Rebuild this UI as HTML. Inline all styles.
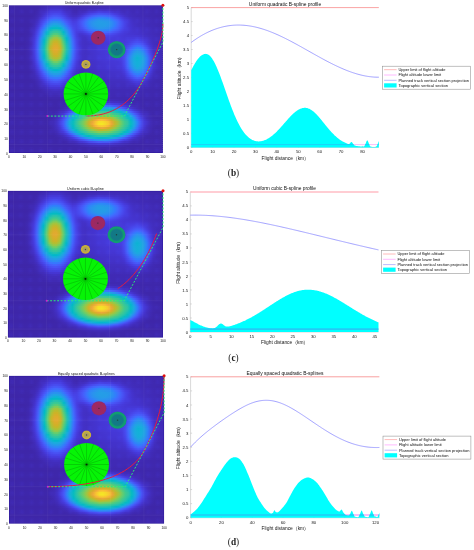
<!DOCTYPE html>
<html><head><meta charset="utf-8"><title>B-spline flight paths</title>
<style>html,body{margin:0;padding:0;background:#fff}svg{display:block}text{font-family:"Liberation Sans",sans-serif;text-rendering:auto}.cap{font-family:"Liberation Serif",serif}.cj{font-family:"Liberation Sans","Noto Sans CJK SC",sans-serif}</style>
</head><body><svg width="474" height="550" viewBox="0 0 474 550"><defs><linearGradient id="r0"><stop offset="0" stop-color="#3e26a8"/><stop offset="0.0208" stop-color="#3e26a9"/><stop offset="0.0417" stop-color="#3e26a8"/><stop offset="0.0625" stop-color="#3e26a8"/><stop offset="0.0833" stop-color="#3e26a9"/><stop offset="0.1042" stop-color="#3e26a8"/><stop offset="0.125" stop-color="#3e26a9"/><stop offset="0.1458" stop-color="#3e26a9"/><stop offset="0.1667" stop-color="#3e26a9"/><stop offset="0.1875" stop-color="#3e26a9"/><stop offset="0.2083" stop-color="#3e27ac"/><stop offset="0.2292" stop-color="#3f29b1"/><stop offset="0.25" stop-color="#402bb6"/><stop offset="0.2708" stop-color="#412cbb"/><stop offset="0.2917" stop-color="#412ebe"/><stop offset="0.3125" stop-color="#412ebe"/><stop offset="0.3333" stop-color="#412dbc"/><stop offset="0.3542" stop-color="#402bb8"/><stop offset="0.375" stop-color="#402ab3"/><stop offset="0.3958" stop-color="#3f28ae"/><stop offset="0.4167" stop-color="#3e27ab"/><stop offset="0.4375" stop-color="#3e27ac"/><stop offset="0.4583" stop-color="#3f28ad"/><stop offset="0.4792" stop-color="#3f28ad"/><stop offset="0.5" stop-color="#3f28ae"/><stop offset="0.5208" stop-color="#3f29b0"/><stop offset="0.5417" stop-color="#3f29b0"/><stop offset="0.5625" stop-color="#3f29b2"/><stop offset="0.5833" stop-color="#402ab3"/><stop offset="0.6042" stop-color="#402ab3"/><stop offset="0.625" stop-color="#402ab4"/><stop offset="0.6458" stop-color="#402ab4"/><stop offset="0.6667" stop-color="#402ab4"/><stop offset="0.6875" stop-color="#402ab4"/><stop offset="0.7083" stop-color="#402ab4"/><stop offset="0.7292" stop-color="#402ab3"/><stop offset="0.75" stop-color="#402ab3"/><stop offset="0.7708" stop-color="#4029b2"/><stop offset="0.7917" stop-color="#3f29b2"/><stop offset="0.8125" stop-color="#3f29b1"/><stop offset="0.8333" stop-color="#3f29b1"/><stop offset="0.8542" stop-color="#3f29b0"/><stop offset="0.875" stop-color="#3f28af"/><stop offset="0.8958" stop-color="#3f28ae"/><stop offset="0.9167" stop-color="#3f28ad"/><stop offset="0.9375" stop-color="#3e28ac"/><stop offset="0.9583" stop-color="#3e27ac"/><stop offset="0.9792" stop-color="#3e27ab"/><stop offset="1" stop-color="#3e27ab"/></linearGradient><linearGradient id="r1"><stop offset="0" stop-color="#3e27a9"/><stop offset="0.0208" stop-color="#3e27ab"/><stop offset="0.0417" stop-color="#3e27a9"/><stop offset="0.0625" stop-color="#3e27a9"/><stop offset="0.0833" stop-color="#3e27ab"/><stop offset="0.1042" stop-color="#3e27a9"/><stop offset="0.125" stop-color="#3e27a9"/><stop offset="0.1458" stop-color="#3e27ab"/><stop offset="0.1667" stop-color="#3e27a9"/><stop offset="0.1875" stop-color="#3e27aa"/><stop offset="0.2083" stop-color="#3f29b2"/><stop offset="0.2292" stop-color="#402bb6"/><stop offset="0.25" stop-color="#412dbd"/><stop offset="0.2708" stop-color="#4331c6"/><stop offset="0.2917" stop-color="#4332c9"/><stop offset="0.3125" stop-color="#4332c9"/><stop offset="0.3333" stop-color="#4331c7"/><stop offset="0.3542" stop-color="#422ebe"/><stop offset="0.375" stop-color="#402cb8"/><stop offset="0.3958" stop-color="#402ab5"/><stop offset="0.4167" stop-color="#3f28ae"/><stop offset="0.4375" stop-color="#3f28ad"/><stop offset="0.4583" stop-color="#3f29b0"/><stop offset="0.4792" stop-color="#3f29b0"/><stop offset="0.5" stop-color="#3f29b1"/><stop offset="0.5208" stop-color="#402bb6"/><stop offset="0.5417" stop-color="#402bb6"/><stop offset="0.5625" stop-color="#402bb8"/><stop offset="0.5833" stop-color="#412dbb"/><stop offset="0.6042" stop-color="#412cba"/><stop offset="0.625" stop-color="#412cba"/><stop offset="0.6458" stop-color="#412dbb"/><stop offset="0.6667" stop-color="#412cb9"/><stop offset="0.6875" stop-color="#402bb7"/><stop offset="0.7083" stop-color="#412cb9"/><stop offset="0.7292" stop-color="#402bb6"/><stop offset="0.75" stop-color="#402ab5"/><stop offset="0.7708" stop-color="#402bb6"/><stop offset="0.7917" stop-color="#402ab4"/><stop offset="0.8125" stop-color="#402ab3"/><stop offset="0.8333" stop-color="#402ab4"/><stop offset="0.8542" stop-color="#3f29b2"/><stop offset="0.875" stop-color="#3f29b0"/><stop offset="0.8958" stop-color="#3f29b2"/><stop offset="0.9167" stop-color="#3f28af"/><stop offset="0.9375" stop-color="#3f28ad"/><stop offset="0.9583" stop-color="#3f28af"/><stop offset="0.9792" stop-color="#3f28ad"/><stop offset="1" stop-color="#3e27ab"/></linearGradient><linearGradient id="r2"><stop offset="0" stop-color="#3e27ac"/><stop offset="0.0208" stop-color="#402ab3"/><stop offset="0.0417" stop-color="#3e27aa"/><stop offset="0.0625" stop-color="#3e27ac"/><stop offset="0.0833" stop-color="#402ab3"/><stop offset="0.1042" stop-color="#3e27aa"/><stop offset="0.125" stop-color="#3e27ac"/><stop offset="0.1458" stop-color="#402ab3"/><stop offset="0.1667" stop-color="#3e27ab"/><stop offset="0.1875" stop-color="#3f28af"/><stop offset="0.2083" stop-color="#412dbc"/><stop offset="0.2292" stop-color="#412dbd"/><stop offset="0.25" stop-color="#4331c8"/><stop offset="0.2708" stop-color="#4538d8"/><stop offset="0.2917" stop-color="#4538d7"/><stop offset="0.3125" stop-color="#4538d7"/><stop offset="0.3333" stop-color="#4539d9"/><stop offset="0.3542" stop-color="#4332ca"/><stop offset="0.375" stop-color="#422ec0"/><stop offset="0.3958" stop-color="#422ec0"/><stop offset="0.4167" stop-color="#402ab3"/><stop offset="0.4375" stop-color="#3f29b0"/><stop offset="0.4583" stop-color="#412cba"/><stop offset="0.4792" stop-color="#402bb6"/><stop offset="0.5" stop-color="#412cb9"/><stop offset="0.5208" stop-color="#4331c5"/><stop offset="0.5417" stop-color="#4230c3"/><stop offset="0.5625" stop-color="#4331c7"/><stop offset="0.5833" stop-color="#4435d1"/><stop offset="0.6042" stop-color="#4433cb"/><stop offset="0.625" stop-color="#4332c9"/><stop offset="0.6458" stop-color="#4434ce"/><stop offset="0.6667" stop-color="#4330c5"/><stop offset="0.6875" stop-color="#422fc0"/><stop offset="0.7083" stop-color="#4330c5"/><stop offset="0.7292" stop-color="#412dbc"/><stop offset="0.75" stop-color="#412cb9"/><stop offset="0.7708" stop-color="#422ebf"/><stop offset="0.7917" stop-color="#402cb8"/><stop offset="0.8125" stop-color="#402ab5"/><stop offset="0.8333" stop-color="#412dbc"/><stop offset="0.8542" stop-color="#402bb6"/><stop offset="0.875" stop-color="#3f29b2"/><stop offset="0.8958" stop-color="#412cba"/><stop offset="0.9167" stop-color="#402ab3"/><stop offset="0.9375" stop-color="#3f28af"/><stop offset="0.9583" stop-color="#402bb7"/><stop offset="0.9792" stop-color="#3f29b0"/><stop offset="1" stop-color="#3f28ad"/></linearGradient><linearGradient id="r3"><stop offset="0" stop-color="#3e28ac"/><stop offset="0.0208" stop-color="#402ab3"/><stop offset="0.0417" stop-color="#3e27aa"/><stop offset="0.0625" stop-color="#3e27ac"/><stop offset="0.0833" stop-color="#402ab4"/><stop offset="0.1042" stop-color="#3e27ab"/><stop offset="0.125" stop-color="#3e27ac"/><stop offset="0.1458" stop-color="#402ab4"/><stop offset="0.1667" stop-color="#3e27ab"/><stop offset="0.1875" stop-color="#3f29b2"/><stop offset="0.2083" stop-color="#422fc1"/><stop offset="0.2292" stop-color="#4330c5"/><stop offset="0.25" stop-color="#4536d4"/><stop offset="0.2708" stop-color="#473fe3"/><stop offset="0.2917" stop-color="#4740e3"/><stop offset="0.3125" stop-color="#4740e4"/><stop offset="0.3333" stop-color="#4740e4"/><stop offset="0.3542" stop-color="#4537d6"/><stop offset="0.375" stop-color="#4332c9"/><stop offset="0.3958" stop-color="#4330c5"/><stop offset="0.4167" stop-color="#402bb7"/><stop offset="0.4375" stop-color="#402ab4"/><stop offset="0.4583" stop-color="#422ec0"/><stop offset="0.4792" stop-color="#422ebf"/><stop offset="0.5" stop-color="#4331c7"/><stop offset="0.5208" stop-color="#4538d7"/><stop offset="0.5417" stop-color="#4539d9"/><stop offset="0.5625" stop-color="#463cdf"/><stop offset="0.5833" stop-color="#4743e7"/><stop offset="0.6042" stop-color="#4740e3"/><stop offset="0.625" stop-color="#463ee1"/><stop offset="0.6458" stop-color="#473fe2"/><stop offset="0.6667" stop-color="#4538d8"/><stop offset="0.6875" stop-color="#4434cf"/><stop offset="0.7083" stop-color="#4434cf"/><stop offset="0.7292" stop-color="#4230c3"/><stop offset="0.75" stop-color="#412dbd"/><stop offset="0.7708" stop-color="#4230c3"/><stop offset="0.7917" stop-color="#412cbb"/><stop offset="0.8125" stop-color="#402bb7"/><stop offset="0.8333" stop-color="#422ebf"/><stop offset="0.8542" stop-color="#402bb7"/><stop offset="0.875" stop-color="#402ab4"/><stop offset="0.8958" stop-color="#412dbb"/><stop offset="0.9167" stop-color="#402ab4"/><stop offset="0.9375" stop-color="#3f29b0"/><stop offset="0.9583" stop-color="#402bb8"/><stop offset="0.9792" stop-color="#3f29b1"/><stop offset="1" stop-color="#3f28ad"/></linearGradient><linearGradient id="r4"><stop offset="0" stop-color="#3e27aa"/><stop offset="0.0208" stop-color="#3e28ac"/><stop offset="0.0417" stop-color="#3e27a9"/><stop offset="0.0625" stop-color="#3e27aa"/><stop offset="0.0833" stop-color="#3e28ac"/><stop offset="0.1042" stop-color="#3e27a9"/><stop offset="0.125" stop-color="#3e27aa"/><stop offset="0.1458" stop-color="#3e28ac"/><stop offset="0.1667" stop-color="#3e27ab"/><stop offset="0.1875" stop-color="#402ab3"/><stop offset="0.2083" stop-color="#422ec0"/><stop offset="0.2292" stop-color="#4434ce"/><stop offset="0.25" stop-color="#463cde"/><stop offset="0.2708" stop-color="#4746ea"/><stop offset="0.2917" stop-color="#484bee"/><stop offset="0.3125" stop-color="#484bef"/><stop offset="0.3333" stop-color="#4747ec"/><stop offset="0.3542" stop-color="#463de0"/><stop offset="0.375" stop-color="#4535d2"/><stop offset="0.3958" stop-color="#4331c6"/><stop offset="0.4167" stop-color="#412dbc"/><stop offset="0.4375" stop-color="#412cba"/><stop offset="0.4583" stop-color="#4230c3"/><stop offset="0.4792" stop-color="#4433cd"/><stop offset="0.5" stop-color="#463ada"/><stop offset="0.5208" stop-color="#4743e7"/><stop offset="0.5417" stop-color="#484aee"/><stop offset="0.5625" stop-color="#4850f3"/><stop offset="0.5833" stop-color="#4756f6"/><stop offset="0.6042" stop-color="#4755f6"/><stop offset="0.625" stop-color="#4853f4"/><stop offset="0.6458" stop-color="#484ff2"/><stop offset="0.6667" stop-color="#4747eb"/><stop offset="0.6875" stop-color="#473ee2"/><stop offset="0.7083" stop-color="#4639d9"/><stop offset="0.7292" stop-color="#4433cc"/><stop offset="0.75" stop-color="#4230c3"/><stop offset="0.7708" stop-color="#422fc1"/><stop offset="0.7917" stop-color="#412dbb"/><stop offset="0.8125" stop-color="#402cb8"/><stop offset="0.8333" stop-color="#412cba"/><stop offset="0.8542" stop-color="#402bb6"/><stop offset="0.875" stop-color="#402ab4"/><stop offset="0.8958" stop-color="#402bb6"/><stop offset="0.9167" stop-color="#3f29b2"/><stop offset="0.9375" stop-color="#3f29b0"/><stop offset="0.9583" stop-color="#3f29b2"/><stop offset="0.9792" stop-color="#3f28af"/><stop offset="1" stop-color="#3f28ad"/></linearGradient><linearGradient id="r5"><stop offset="0" stop-color="#3e26a8"/><stop offset="0.0208" stop-color="#3e26a8"/><stop offset="0.0417" stop-color="#3e26a8"/><stop offset="0.0625" stop-color="#3e26a8"/><stop offset="0.0833" stop-color="#3e26a8"/><stop offset="0.1042" stop-color="#3e26a8"/><stop offset="0.125" stop-color="#3e26a8"/><stop offset="0.1458" stop-color="#3e26a9"/><stop offset="0.1667" stop-color="#3e28ad"/><stop offset="0.1875" stop-color="#402bb6"/><stop offset="0.2083" stop-color="#4230c4"/><stop offset="0.2292" stop-color="#4538d8"/><stop offset="0.25" stop-color="#4745e9"/><stop offset="0.2708" stop-color="#4851f3"/><stop offset="0.2917" stop-color="#4758f8"/><stop offset="0.3125" stop-color="#4758f8"/><stop offset="0.3333" stop-color="#4852f4"/><stop offset="0.3542" stop-color="#4747eb"/><stop offset="0.375" stop-color="#463bdc"/><stop offset="0.3958" stop-color="#4433cc"/><stop offset="0.4167" stop-color="#422fc2"/><stop offset="0.4375" stop-color="#4230c3"/><stop offset="0.4583" stop-color="#4434ce"/><stop offset="0.4792" stop-color="#463cdf"/><stop offset="0.5" stop-color="#4849ed"/><stop offset="0.5208" stop-color="#4755f6"/><stop offset="0.5417" stop-color="#4660fc"/><stop offset="0.5625" stop-color="#4269fe"/><stop offset="0.5833" stop-color="#3f6fff"/><stop offset="0.6042" stop-color="#3e6fff"/><stop offset="0.625" stop-color="#406cfe"/><stop offset="0.6458" stop-color="#4465fd"/><stop offset="0.6667" stop-color="#475bf9"/><stop offset="0.6875" stop-color="#484ff2"/><stop offset="0.7083" stop-color="#4743e7"/><stop offset="0.7292" stop-color="#4639da"/><stop offset="0.75" stop-color="#4433cd"/><stop offset="0.7708" stop-color="#4230c3"/><stop offset="0.7917" stop-color="#412dbd"/><stop offset="0.8125" stop-color="#412cba"/><stop offset="0.8333" stop-color="#402bb8"/><stop offset="0.8542" stop-color="#402bb6"/><stop offset="0.875" stop-color="#402ab5"/><stop offset="0.8958" stop-color="#402ab3"/><stop offset="0.9167" stop-color="#3f29b2"/><stop offset="0.9375" stop-color="#3f29b0"/><stop offset="0.9583" stop-color="#3f28af"/><stop offset="0.9792" stop-color="#3f28ae"/><stop offset="1" stop-color="#3f28ad"/></linearGradient><linearGradient id="r6"><stop offset="0" stop-color="#3e27aa"/><stop offset="0.0208" stop-color="#3f28ae"/><stop offset="0.0417" stop-color="#3e27a9"/><stop offset="0.0625" stop-color="#3e27aa"/><stop offset="0.0833" stop-color="#3f28ae"/><stop offset="0.1042" stop-color="#3e27aa"/><stop offset="0.125" stop-color="#3e27aa"/><stop offset="0.1458" stop-color="#3f28ae"/><stop offset="0.1667" stop-color="#3f29b0"/><stop offset="0.1875" stop-color="#412dbb"/><stop offset="0.2083" stop-color="#4536d2"/><stop offset="0.2292" stop-color="#4740e4"/><stop offset="0.25" stop-color="#4851f4"/><stop offset="0.2708" stop-color="#4562fc"/><stop offset="0.2917" stop-color="#4269fe"/><stop offset="0.3125" stop-color="#426afe"/><stop offset="0.3333" stop-color="#4563fd"/><stop offset="0.3542" stop-color="#4854f5"/><stop offset="0.375" stop-color="#4744e8"/><stop offset="0.3958" stop-color="#463adc"/><stop offset="0.4167" stop-color="#4434ce"/><stop offset="0.4375" stop-color="#4435d1"/><stop offset="0.4583" stop-color="#463ee0"/><stop offset="0.4792" stop-color="#484aee"/><stop offset="0.5" stop-color="#475af9"/><stop offset="0.5208" stop-color="#406cfe"/><stop offset="0.5417" stop-color="#3579fd"/><stop offset="0.5625" stop-color="#2f82f9"/><stop offset="0.5833" stop-color="#2d89f5"/><stop offset="0.6042" stop-color="#2d89f6"/><stop offset="0.625" stop-color="#2e85f8"/><stop offset="0.6458" stop-color="#3080fb"/><stop offset="0.6667" stop-color="#3c71ff"/><stop offset="0.6875" stop-color="#4561fc"/><stop offset="0.7083" stop-color="#4854f5"/><stop offset="0.7292" stop-color="#4744e8"/><stop offset="0.75" stop-color="#4539d9"/><stop offset="0.7708" stop-color="#4434d0"/><stop offset="0.7917" stop-color="#4230c4"/><stop offset="0.8125" stop-color="#412ebe"/><stop offset="0.8333" stop-color="#422ebf"/><stop offset="0.8542" stop-color="#412cba"/><stop offset="0.875" stop-color="#402bb7"/><stop offset="0.8958" stop-color="#412cba"/><stop offset="0.9167" stop-color="#402ab5"/><stop offset="0.9375" stop-color="#3f29b2"/><stop offset="0.9583" stop-color="#402ab5"/><stop offset="0.9792" stop-color="#3f29b1"/><stop offset="1" stop-color="#3f28ae"/></linearGradient><linearGradient id="r7"><stop offset="0" stop-color="#3e28ac"/><stop offset="0.0208" stop-color="#402ab4"/><stop offset="0.0417" stop-color="#3e27ab"/><stop offset="0.0625" stop-color="#3e28ac"/><stop offset="0.0833" stop-color="#402ab4"/><stop offset="0.1042" stop-color="#3e27ab"/><stop offset="0.125" stop-color="#3e28ac"/><stop offset="0.1458" stop-color="#402ab5"/><stop offset="0.1667" stop-color="#402ab5"/><stop offset="0.1875" stop-color="#422fc3"/><stop offset="0.2083" stop-color="#463ddf"/><stop offset="0.2292" stop-color="#484bee"/><stop offset="0.25" stop-color="#465ffb"/><stop offset="0.2708" stop-color="#3777fe"/><stop offset="0.2917" stop-color="#307efb"/><stop offset="0.3125" stop-color="#307ffb"/><stop offset="0.3333" stop-color="#3479fd"/><stop offset="0.3542" stop-color="#4562fc"/><stop offset="0.375" stop-color="#4850f2"/><stop offset="0.3958" stop-color="#4744e8"/><stop offset="0.4167" stop-color="#4639d9"/><stop offset="0.4375" stop-color="#463bdd"/><stop offset="0.4583" stop-color="#4849ed"/><stop offset="0.4792" stop-color="#4756f7"/><stop offset="0.5" stop-color="#4269fe"/><stop offset="0.5208" stop-color="#2f81fa"/><stop offset="0.5417" stop-color="#2d8af4"/><stop offset="0.5625" stop-color="#2b92ee"/><stop offset="0.5833" stop-color="#269ae9"/><stop offset="0.6042" stop-color="#2797ea"/><stop offset="0.625" stop-color="#2994ec"/><stop offset="0.6458" stop-color="#2a92ee"/><stop offset="0.6667" stop-color="#2e84f9"/><stop offset="0.6875" stop-color="#3c72ff"/><stop offset="0.7083" stop-color="#4563fd"/><stop offset="0.7292" stop-color="#484ef1"/><stop offset="0.75" stop-color="#473fe3"/><stop offset="0.7708" stop-color="#463adb"/><stop offset="0.7917" stop-color="#4332ca"/><stop offset="0.8125" stop-color="#422fc1"/><stop offset="0.8333" stop-color="#4331c7"/><stop offset="0.8542" stop-color="#412ebe"/><stop offset="0.875" stop-color="#412cb9"/><stop offset="0.8958" stop-color="#422fc1"/><stop offset="0.9167" stop-color="#412cb8"/><stop offset="0.9375" stop-color="#402ab4"/><stop offset="0.9583" stop-color="#412dbc"/><stop offset="0.9792" stop-color="#402ab4"/><stop offset="1" stop-color="#3f29af"/></linearGradient><linearGradient id="r8"><stop offset="0" stop-color="#3e27ab"/><stop offset="0.0208" stop-color="#3f29b1"/><stop offset="0.0417" stop-color="#3e27aa"/><stop offset="0.0625" stop-color="#3e27ab"/><stop offset="0.0833" stop-color="#3f29b1"/><stop offset="0.1042" stop-color="#3e27aa"/><stop offset="0.125" stop-color="#3e27ab"/><stop offset="0.1458" stop-color="#402ab4"/><stop offset="0.1667" stop-color="#402bb7"/><stop offset="0.1875" stop-color="#4332c9"/><stop offset="0.2083" stop-color="#4742e6"/><stop offset="0.2292" stop-color="#4755f6"/><stop offset="0.25" stop-color="#3e6fff"/><stop offset="0.2708" stop-color="#2d89f5"/><stop offset="0.2917" stop-color="#2b92ee"/><stop offset="0.3125" stop-color="#2a92ee"/><stop offset="0.3333" stop-color="#2d8bf3"/><stop offset="0.3542" stop-color="#3a73fe"/><stop offset="0.375" stop-color="#475bf9"/><stop offset="0.3958" stop-color="#484bef"/><stop offset="0.4167" stop-color="#473ee1"/><stop offset="0.4375" stop-color="#4740e3"/><stop offset="0.4583" stop-color="#484ef1"/><stop offset="0.4792" stop-color="#465dfb"/><stop offset="0.5" stop-color="#3b72fe"/><stop offset="0.5208" stop-color="#2d88f6"/><stop offset="0.5417" stop-color="#2b92ee"/><stop offset="0.5625" stop-color="#2699ea"/><stop offset="0.5833" stop-color="#249ee6"/><stop offset="0.6042" stop-color="#259de7"/><stop offset="0.625" stop-color="#259be8"/><stop offset="0.6458" stop-color="#2699e9"/><stop offset="0.6667" stop-color="#2d8df2"/><stop offset="0.6875" stop-color="#327cfc"/><stop offset="0.7083" stop-color="#416bfe"/><stop offset="0.7292" stop-color="#4755f6"/><stop offset="0.75" stop-color="#4744e8"/><stop offset="0.7708" stop-color="#463cde"/><stop offset="0.7917" stop-color="#4433cd"/><stop offset="0.8125" stop-color="#4230c4"/><stop offset="0.8333" stop-color="#4331c6"/><stop offset="0.8542" stop-color="#422ebe"/><stop offset="0.875" stop-color="#412cba"/><stop offset="0.8958" stop-color="#422ebf"/><stop offset="0.9167" stop-color="#412cb8"/><stop offset="0.9375" stop-color="#402ab5"/><stop offset="0.9583" stop-color="#412cba"/><stop offset="0.9792" stop-color="#402ab4"/><stop offset="1" stop-color="#3f29b0"/></linearGradient><linearGradient id="r9"><stop offset="0" stop-color="#3e27a9"/><stop offset="0.0208" stop-color="#3e27aa"/><stop offset="0.0417" stop-color="#3e26a9"/><stop offset="0.0625" stop-color="#3e27a9"/><stop offset="0.0833" stop-color="#3e27aa"/><stop offset="0.1042" stop-color="#3e26a9"/><stop offset="0.125" stop-color="#3e27a9"/><stop offset="0.1458" stop-color="#3f28ae"/><stop offset="0.1667" stop-color="#412cb8"/><stop offset="0.1875" stop-color="#4434cf"/><stop offset="0.2083" stop-color="#4747eb"/><stop offset="0.2292" stop-color="#4661fc"/><stop offset="0.25" stop-color="#2f80fa"/><stop offset="0.2708" stop-color="#2798ea"/><stop offset="0.2917" stop-color="#21a3e4"/><stop offset="0.3125" stop-color="#21a3e3"/><stop offset="0.3333" stop-color="#269ae9"/><stop offset="0.3542" stop-color="#2e85f8"/><stop offset="0.375" stop-color="#4367fd"/><stop offset="0.3958" stop-color="#4850f3"/><stop offset="0.4167" stop-color="#4742e6"/><stop offset="0.4375" stop-color="#4742e6"/><stop offset="0.4583" stop-color="#484df1"/><stop offset="0.4792" stop-color="#465efb"/><stop offset="0.5" stop-color="#3974fe"/><stop offset="0.5208" stop-color="#2d87f6"/><stop offset="0.5417" stop-color="#2a93ed"/><stop offset="0.5625" stop-color="#269ae9"/><stop offset="0.5833" stop-color="#259de7"/><stop offset="0.6042" stop-color="#249de6"/><stop offset="0.625" stop-color="#259de7"/><stop offset="0.6458" stop-color="#2699ea"/><stop offset="0.6667" stop-color="#2c8ef1"/><stop offset="0.6875" stop-color="#307ffb"/><stop offset="0.7083" stop-color="#426afe"/><stop offset="0.7292" stop-color="#4756f7"/><stop offset="0.75" stop-color="#4745e9"/><stop offset="0.7708" stop-color="#463adb"/><stop offset="0.7917" stop-color="#4434ce"/><stop offset="0.8125" stop-color="#4330c5"/><stop offset="0.8333" stop-color="#422fc2"/><stop offset="0.8542" stop-color="#412ebe"/><stop offset="0.875" stop-color="#412dbb"/><stop offset="0.8958" stop-color="#412cba"/><stop offset="0.9167" stop-color="#402bb7"/><stop offset="0.9375" stop-color="#402ab5"/><stop offset="0.9583" stop-color="#402ab4"/><stop offset="0.9792" stop-color="#3f29b1"/><stop offset="1" stop-color="#3f28af"/></linearGradient><linearGradient id="r10"><stop offset="0" stop-color="#3e26a9"/><stop offset="0.0208" stop-color="#3e27a9"/><stop offset="0.0417" stop-color="#3e26a9"/><stop offset="0.0625" stop-color="#3e26a9"/><stop offset="0.0833" stop-color="#3e27aa"/><stop offset="0.1042" stop-color="#3e26a9"/><stop offset="0.125" stop-color="#3e26a9"/><stop offset="0.1458" stop-color="#3f29b0"/><stop offset="0.1667" stop-color="#412dbc"/><stop offset="0.1875" stop-color="#4537d7"/><stop offset="0.2083" stop-color="#484ff2"/><stop offset="0.2292" stop-color="#3f6fff"/><stop offset="0.25" stop-color="#2b91ef"/><stop offset="0.2708" stop-color="#1ea7e1"/><stop offset="0.2917" stop-color="#12b1d6"/><stop offset="0.3125" stop-color="#10b2d5"/><stop offset="0.3333" stop-color="#1caadf"/><stop offset="0.3542" stop-color="#2895ec"/><stop offset="0.375" stop-color="#3776fe"/><stop offset="0.3958" stop-color="#4759f8"/><stop offset="0.4167" stop-color="#4746ea"/><stop offset="0.4375" stop-color="#4742e6"/><stop offset="0.4583" stop-color="#484bef"/><stop offset="0.4792" stop-color="#475bf9"/><stop offset="0.5" stop-color="#3e6fff"/><stop offset="0.5208" stop-color="#2e83f9"/><stop offset="0.5417" stop-color="#2c90f0"/><stop offset="0.5625" stop-color="#2797ea"/><stop offset="0.5833" stop-color="#259be7"/><stop offset="0.6042" stop-color="#259ce7"/><stop offset="0.625" stop-color="#269be8"/><stop offset="0.6458" stop-color="#2896ec"/><stop offset="0.6667" stop-color="#2d8bf4"/><stop offset="0.6875" stop-color="#337bfd"/><stop offset="0.7083" stop-color="#4367fd"/><stop offset="0.7292" stop-color="#4854f5"/><stop offset="0.75" stop-color="#4744e8"/><stop offset="0.7708" stop-color="#463adb"/><stop offset="0.7917" stop-color="#4434cf"/><stop offset="0.8125" stop-color="#4331c7"/><stop offset="0.8333" stop-color="#4230c3"/><stop offset="0.8542" stop-color="#422ebf"/><stop offset="0.875" stop-color="#412dbd"/><stop offset="0.8958" stop-color="#412dbb"/><stop offset="0.9167" stop-color="#402bb8"/><stop offset="0.9375" stop-color="#402bb6"/><stop offset="0.9583" stop-color="#402ab4"/><stop offset="0.9792" stop-color="#3f29b2"/><stop offset="1" stop-color="#3f29b0"/></linearGradient><linearGradient id="r11"><stop offset="0" stop-color="#3e27ab"/><stop offset="0.0208" stop-color="#3f29b1"/><stop offset="0.0417" stop-color="#3e27aa"/><stop offset="0.0625" stop-color="#3e27ab"/><stop offset="0.0833" stop-color="#3f29b1"/><stop offset="0.1042" stop-color="#3e27aa"/><stop offset="0.125" stop-color="#3e27ab"/><stop offset="0.1458" stop-color="#412cb9"/><stop offset="0.1667" stop-color="#422fc2"/><stop offset="0.1875" stop-color="#463ddf"/><stop offset="0.2083" stop-color="#475bfa"/><stop offset="0.2292" stop-color="#307ffb"/><stop offset="0.25" stop-color="#23a1e4"/><stop offset="0.2708" stop-color="#05b6ce"/><stop offset="0.2917" stop-color="#04bbc2"/><stop offset="0.3125" stop-color="#05bbc1"/><stop offset="0.3333" stop-color="#02b7cb"/><stop offset="0.3542" stop-color="#20a5e2"/><stop offset="0.375" stop-color="#2e86f7"/><stop offset="0.3958" stop-color="#4465fd"/><stop offset="0.4167" stop-color="#484aee"/><stop offset="0.4375" stop-color="#4742e6"/><stop offset="0.4583" stop-color="#484aed"/><stop offset="0.4792" stop-color="#4853f5"/><stop offset="0.5" stop-color="#4465fd"/><stop offset="0.5208" stop-color="#337bfc"/><stop offset="0.5417" stop-color="#2e86f7"/><stop offset="0.5625" stop-color="#2c8ff0"/><stop offset="0.5833" stop-color="#2797eb"/><stop offset="0.6042" stop-color="#2896ec"/><stop offset="0.625" stop-color="#2a93ee"/><stop offset="0.6458" stop-color="#2c8ff0"/><stop offset="0.6667" stop-color="#2f81fa"/><stop offset="0.6875" stop-color="#3d70ff"/><stop offset="0.7083" stop-color="#4562fc"/><stop offset="0.7292" stop-color="#484ff2"/><stop offset="0.75" stop-color="#4742e6"/><stop offset="0.7708" stop-color="#463cde"/><stop offset="0.7917" stop-color="#4435d1"/><stop offset="0.8125" stop-color="#4332c9"/><stop offset="0.8333" stop-color="#4433cc"/><stop offset="0.8542" stop-color="#4230c4"/><stop offset="0.875" stop-color="#422ebf"/><stop offset="0.8958" stop-color="#4230c3"/><stop offset="0.9167" stop-color="#412dbc"/><stop offset="0.9375" stop-color="#402bb7"/><stop offset="0.9583" stop-color="#412dbc"/><stop offset="0.9792" stop-color="#402ab5"/><stop offset="1" stop-color="#3f29b1"/></linearGradient><linearGradient id="r12"><stop offset="0" stop-color="#3e28ac"/><stop offset="0.0208" stop-color="#402ab4"/><stop offset="0.0417" stop-color="#3e27ab"/><stop offset="0.0625" stop-color="#3e28ac"/><stop offset="0.0833" stop-color="#402ab4"/><stop offset="0.1042" stop-color="#3e27ab"/><stop offset="0.125" stop-color="#3f28ad"/><stop offset="0.1458" stop-color="#412ebe"/><stop offset="0.1667" stop-color="#4331c8"/><stop offset="0.1875" stop-color="#4743e7"/><stop offset="0.2083" stop-color="#4367fd"/><stop offset="0.2292" stop-color="#2d8df2"/><stop offset="0.25" stop-color="#18aedb"/><stop offset="0.2708" stop-color="#11beb9"/><stop offset="0.2917" stop-color="#26c2ad"/><stop offset="0.3125" stop-color="#27c2ab"/><stop offset="0.3333" stop-color="#18bfb6"/><stop offset="0.3542" stop-color="#12b1d6"/><stop offset="0.375" stop-color="#2994ed"/><stop offset="0.3958" stop-color="#3d70ff"/><stop offset="0.4167" stop-color="#484ef1"/><stop offset="0.4375" stop-color="#4740e4"/><stop offset="0.4583" stop-color="#4744e8"/><stop offset="0.4792" stop-color="#4849ed"/><stop offset="0.5" stop-color="#4757f7"/><stop offset="0.5208" stop-color="#416afe"/><stop offset="0.5417" stop-color="#3974fe"/><stop offset="0.5625" stop-color="#307efb"/><stop offset="0.5833" stop-color="#2d88f6"/><stop offset="0.6042" stop-color="#2e86f7"/><stop offset="0.625" stop-color="#2e83f9"/><stop offset="0.6458" stop-color="#3080fa"/><stop offset="0.6667" stop-color="#3d70ff"/><stop offset="0.6875" stop-color="#4562fc"/><stop offset="0.7083" stop-color="#4758f8"/><stop offset="0.7292" stop-color="#4848ec"/><stop offset="0.75" stop-color="#463ee1"/><stop offset="0.7708" stop-color="#463cde"/><stop offset="0.7917" stop-color="#4535d2"/><stop offset="0.8125" stop-color="#4433cb"/><stop offset="0.8333" stop-color="#4435d1"/><stop offset="0.8542" stop-color="#4331c7"/><stop offset="0.875" stop-color="#422fc1"/><stop offset="0.8958" stop-color="#4331c8"/><stop offset="0.9167" stop-color="#422ebe"/><stop offset="0.9375" stop-color="#412cb9"/><stop offset="0.9583" stop-color="#422fc0"/><stop offset="0.9792" stop-color="#402bb8"/><stop offset="1" stop-color="#4029b2"/></linearGradient><linearGradient id="r13"><stop offset="0" stop-color="#3e27ab"/><stop offset="0.0208" stop-color="#3f28af"/><stop offset="0.0417" stop-color="#3e27aa"/><stop offset="0.0625" stop-color="#3e27aa"/><stop offset="0.0833" stop-color="#3f28af"/><stop offset="0.1042" stop-color="#3e27aa"/><stop offset="0.125" stop-color="#3e27ac"/><stop offset="0.1458" stop-color="#412cbb"/><stop offset="0.1667" stop-color="#4433cc"/><stop offset="0.1875" stop-color="#4848ec"/><stop offset="0.2083" stop-color="#3f6fff"/><stop offset="0.2292" stop-color="#2699e9"/><stop offset="0.25" stop-color="#04b6cd"/><stop offset="0.2708" stop-color="#29c3aa"/><stop offset="0.2917" stop-color="#37c897"/><stop offset="0.3125" stop-color="#38c896"/><stop offset="0.3333" stop-color="#2dc4a6"/><stop offset="0.3542" stop-color="#01b9c8"/><stop offset="0.375" stop-color="#249fe5"/><stop offset="0.3958" stop-color="#3678fd"/><stop offset="0.4167" stop-color="#4852f4"/><stop offset="0.4375" stop-color="#473ee1"/><stop offset="0.4583" stop-color="#463bdd"/><stop offset="0.4792" stop-color="#463de0"/><stop offset="0.5" stop-color="#4746eb"/><stop offset="0.5208" stop-color="#4854f6"/><stop offset="0.5417" stop-color="#465dfa"/><stop offset="0.5625" stop-color="#4465fd"/><stop offset="0.5833" stop-color="#406dfe"/><stop offset="0.6042" stop-color="#406cfe"/><stop offset="0.625" stop-color="#426afe"/><stop offset="0.6458" stop-color="#4466fd"/><stop offset="0.6667" stop-color="#475cfa"/><stop offset="0.6875" stop-color="#4852f4"/><stop offset="0.7083" stop-color="#484bee"/><stop offset="0.7292" stop-color="#4740e4"/><stop offset="0.75" stop-color="#463adb"/><stop offset="0.7708" stop-color="#4539d8"/><stop offset="0.7917" stop-color="#4435d1"/><stop offset="0.8125" stop-color="#4433cd"/><stop offset="0.8333" stop-color="#4434cf"/><stop offset="0.8542" stop-color="#4331c8"/><stop offset="0.875" stop-color="#4230c3"/><stop offset="0.8958" stop-color="#4230c4"/><stop offset="0.9167" stop-color="#412ebd"/><stop offset="0.9375" stop-color="#412cb9"/><stop offset="0.9583" stop-color="#412dbc"/><stop offset="0.9792" stop-color="#402bb6"/><stop offset="1" stop-color="#3f29b2"/></linearGradient><linearGradient id="r14"><stop offset="0" stop-color="#3e26a8"/><stop offset="0.0208" stop-color="#3e26a9"/><stop offset="0.0417" stop-color="#3e26a8"/><stop offset="0.0625" stop-color="#3e26a8"/><stop offset="0.0833" stop-color="#3e26a9"/><stop offset="0.1042" stop-color="#3e26a9"/><stop offset="0.125" stop-color="#3e27ab"/><stop offset="0.1458" stop-color="#402bb7"/><stop offset="0.1667" stop-color="#4434d0"/><stop offset="0.1875" stop-color="#484df0"/><stop offset="0.2083" stop-color="#3776fe"/><stop offset="0.2292" stop-color="#21a3e3"/><stop offset="0.25" stop-color="#07bcbf"/><stop offset="0.2708" stop-color="#35c79a"/><stop offset="0.2917" stop-color="#52cc7e"/><stop offset="0.3125" stop-color="#55cc7c"/><stop offset="0.3333" stop-color="#39c895"/><stop offset="0.3542" stop-color="#12beb9"/><stop offset="0.375" stop-color="#1da9e0"/><stop offset="0.3958" stop-color="#3080fb"/><stop offset="0.4167" stop-color="#4756f7"/><stop offset="0.4375" stop-color="#463ee1"/><stop offset="0.4583" stop-color="#4435d1"/><stop offset="0.4792" stop-color="#4435d1"/><stop offset="0.5" stop-color="#4639da"/><stop offset="0.5208" stop-color="#4741e5"/><stop offset="0.5417" stop-color="#4848ec"/><stop offset="0.5625" stop-color="#484ef1"/><stop offset="0.5833" stop-color="#4853f4"/><stop offset="0.6042" stop-color="#4854f5"/><stop offset="0.625" stop-color="#4853f5"/><stop offset="0.6458" stop-color="#484ff2"/><stop offset="0.6667" stop-color="#484aee"/><stop offset="0.6875" stop-color="#4745e9"/><stop offset="0.7083" stop-color="#473fe3"/><stop offset="0.7292" stop-color="#463bdc"/><stop offset="0.75" stop-color="#4538d7"/><stop offset="0.7708" stop-color="#4536d3"/><stop offset="0.7917" stop-color="#4435d1"/><stop offset="0.8125" stop-color="#4434cf"/><stop offset="0.8333" stop-color="#4433cd"/><stop offset="0.8542" stop-color="#4332ca"/><stop offset="0.875" stop-color="#4330c5"/><stop offset="0.8958" stop-color="#422fc1"/><stop offset="0.9167" stop-color="#412dbd"/><stop offset="0.9375" stop-color="#412cb9"/><stop offset="0.9583" stop-color="#402bb7"/><stop offset="0.9792" stop-color="#402ab4"/><stop offset="1" stop-color="#3f29b2"/></linearGradient><linearGradient id="r15"><stop offset="0" stop-color="#3e27a9"/><stop offset="0.0208" stop-color="#3e27ac"/><stop offset="0.0417" stop-color="#3e27a9"/><stop offset="0.0625" stop-color="#3e27a9"/><stop offset="0.0833" stop-color="#3e27ac"/><stop offset="0.1042" stop-color="#3e27a9"/><stop offset="0.125" stop-color="#3f28ad"/><stop offset="0.1458" stop-color="#412dbb"/><stop offset="0.1667" stop-color="#4537d5"/><stop offset="0.1875" stop-color="#4853f4"/><stop offset="0.2083" stop-color="#2f82fa"/><stop offset="0.2292" stop-color="#19acdc"/><stop offset="0.25" stop-color="#21c1b0"/><stop offset="0.2708" stop-color="#4ecc81"/><stop offset="0.2917" stop-color="#7acc5d"/><stop offset="0.3125" stop-color="#7ecc5b"/><stop offset="0.3333" stop-color="#56cc7b"/><stop offset="0.3542" stop-color="#29c3aa"/><stop offset="0.375" stop-color="#11b1d6"/><stop offset="0.3958" stop-color="#2d8af4"/><stop offset="0.4167" stop-color="#475bfa"/><stop offset="0.4375" stop-color="#473fe3"/><stop offset="0.4583" stop-color="#4435d0"/><stop offset="0.4792" stop-color="#4332c9"/><stop offset="0.5" stop-color="#4433cd"/><stop offset="0.5208" stop-color="#4538d7"/><stop offset="0.5417" stop-color="#463bdd"/><stop offset="0.5625" stop-color="#473fe2"/><stop offset="0.5833" stop-color="#4743e7"/><stop offset="0.6042" stop-color="#4743e7"/><stop offset="0.625" stop-color="#4743e7"/><stop offset="0.6458" stop-color="#4743e7"/><stop offset="0.6667" stop-color="#4740e3"/><stop offset="0.6875" stop-color="#463de0"/><stop offset="0.7083" stop-color="#463cde"/><stop offset="0.7292" stop-color="#4639d9"/><stop offset="0.75" stop-color="#4537d6"/><stop offset="0.7708" stop-color="#4538d7"/><stop offset="0.7917" stop-color="#4537d5"/><stop offset="0.8125" stop-color="#4537d5"/><stop offset="0.8333" stop-color="#4537d6"/><stop offset="0.8542" stop-color="#4435d1"/><stop offset="0.875" stop-color="#4332ca"/><stop offset="0.8958" stop-color="#4331c6"/><stop offset="0.9167" stop-color="#422ebf"/><stop offset="0.9375" stop-color="#412dbb"/><stop offset="0.9583" stop-color="#412cba"/><stop offset="0.9792" stop-color="#402bb6"/><stop offset="1" stop-color="#402ab3"/></linearGradient><linearGradient id="r16"><stop offset="0" stop-color="#3e27ac"/><stop offset="0.0208" stop-color="#402ab3"/><stop offset="0.0417" stop-color="#3e27aa"/><stop offset="0.0625" stop-color="#3e27ac"/><stop offset="0.0833" stop-color="#402ab3"/><stop offset="0.1042" stop-color="#3e27ab"/><stop offset="0.125" stop-color="#3f29b0"/><stop offset="0.1458" stop-color="#4230c4"/><stop offset="0.1667" stop-color="#4639d9"/><stop offset="0.1875" stop-color="#4758f8"/><stop offset="0.2083" stop-color="#2d8df2"/><stop offset="0.2292" stop-color="#0cb3d3"/><stop offset="0.25" stop-color="#30c5a1"/><stop offset="0.2708" stop-color="#76cc60"/><stop offset="0.2917" stop-color="#a1c540"/><stop offset="0.3125" stop-color="#a4c33d"/><stop offset="0.3333" stop-color="#81cc59"/><stop offset="0.3542" stop-color="#35c79a"/><stop offset="0.375" stop-color="#02b7cb"/><stop offset="0.3958" stop-color="#2896ec"/><stop offset="0.4167" stop-color="#4561fc"/><stop offset="0.4375" stop-color="#4742e6"/><stop offset="0.4583" stop-color="#4537d7"/><stop offset="0.4792" stop-color="#4331c7"/><stop offset="0.5" stop-color="#4331c7"/><stop offset="0.5208" stop-color="#4536d4"/><stop offset="0.5417" stop-color="#4536d3"/><stop offset="0.5625" stop-color="#4537d7"/><stop offset="0.5833" stop-color="#463de0"/><stop offset="0.6042" stop-color="#463bdd"/><stop offset="0.625" stop-color="#463bde"/><stop offset="0.6458" stop-color="#473fe3"/><stop offset="0.6667" stop-color="#463cde"/><stop offset="0.6875" stop-color="#463adc"/><stop offset="0.7083" stop-color="#463de0"/><stop offset="0.7292" stop-color="#463ada"/><stop offset="0.75" stop-color="#4538d8"/><stop offset="0.7708" stop-color="#463cde"/><stop offset="0.7917" stop-color="#463adc"/><stop offset="0.8125" stop-color="#463bdd"/><stop offset="0.8333" stop-color="#4740e3"/><stop offset="0.8542" stop-color="#463bdc"/><stop offset="0.875" stop-color="#4536d3"/><stop offset="0.8958" stop-color="#4435d1"/><stop offset="0.9167" stop-color="#4230c4"/><stop offset="0.9375" stop-color="#412dbd"/><stop offset="0.9583" stop-color="#422fc2"/><stop offset="0.9792" stop-color="#412cb9"/><stop offset="1" stop-color="#402ab4"/></linearGradient><linearGradient id="r17"><stop offset="0" stop-color="#3e27ac"/><stop offset="0.0208" stop-color="#402ab3"/><stop offset="0.0417" stop-color="#3e27aa"/><stop offset="0.0625" stop-color="#3e27ac"/><stop offset="0.0833" stop-color="#402ab3"/><stop offset="0.1042" stop-color="#3e27ab"/><stop offset="0.125" stop-color="#3f29b1"/><stop offset="0.1458" stop-color="#4331c5"/><stop offset="0.1667" stop-color="#463bdd"/><stop offset="0.1875" stop-color="#465dfa"/><stop offset="0.2083" stop-color="#2994ed"/><stop offset="0.2292" stop-color="#01b7ca"/><stop offset="0.25" stop-color="#3ac994"/><stop offset="0.2708" stop-color="#95c848"/><stop offset="0.2917" stop-color="#b9bb2f"/><stop offset="0.3125" stop-color="#bcba2d"/><stop offset="0.3333" stop-color="#9fc541"/><stop offset="0.3542" stop-color="#43ca8b"/><stop offset="0.375" stop-color="#04bbc2"/><stop offset="0.3958" stop-color="#259ce7"/><stop offset="0.4167" stop-color="#4367fd"/><stop offset="0.4375" stop-color="#4745e9"/><stop offset="0.4583" stop-color="#4538d8"/><stop offset="0.4792" stop-color="#4331c7"/><stop offset="0.5" stop-color="#4330c5"/><stop offset="0.5208" stop-color="#4435d1"/><stop offset="0.5417" stop-color="#4434ce"/><stop offset="0.5625" stop-color="#4435d1"/><stop offset="0.5833" stop-color="#463adb"/><stop offset="0.6042" stop-color="#4538d8"/><stop offset="0.625" stop-color="#4539d9"/><stop offset="0.6458" stop-color="#463de0"/><stop offset="0.6667" stop-color="#463adc"/><stop offset="0.6875" stop-color="#463adb"/><stop offset="0.7083" stop-color="#463de0"/><stop offset="0.7292" stop-color="#463adb"/><stop offset="0.75" stop-color="#4639da"/><stop offset="0.7708" stop-color="#473ee1"/><stop offset="0.7917" stop-color="#473ee2"/><stop offset="0.8125" stop-color="#4742e6"/><stop offset="0.8333" stop-color="#4848ec"/><stop offset="0.8542" stop-color="#4742e6"/><stop offset="0.875" stop-color="#463bdc"/><stop offset="0.8958" stop-color="#4538d7"/><stop offset="0.9167" stop-color="#4331c7"/><stop offset="0.9375" stop-color="#412ebe"/><stop offset="0.9583" stop-color="#422fc3"/><stop offset="0.9792" stop-color="#412cba"/><stop offset="1" stop-color="#402ab5"/></linearGradient><linearGradient id="r18"><stop offset="0" stop-color="#3e27aa"/><stop offset="0.0208" stop-color="#3e27ac"/><stop offset="0.0417" stop-color="#3e27a9"/><stop offset="0.0625" stop-color="#3e27aa"/><stop offset="0.0833" stop-color="#3e27ac"/><stop offset="0.1042" stop-color="#3e27a9"/><stop offset="0.125" stop-color="#3f28af"/><stop offset="0.1458" stop-color="#422fc0"/><stop offset="0.1667" stop-color="#463cdf"/><stop offset="0.1875" stop-color="#4660fb"/><stop offset="0.2083" stop-color="#2796eb"/><stop offset="0.2292" stop-color="#02bac4"/><stop offset="0.25" stop-color="#45cb89"/><stop offset="0.2708" stop-color="#a4c43d"/><stop offset="0.2917" stop-color="#cab428"/><stop offset="0.3125" stop-color="#ccb327"/><stop offset="0.3333" stop-color="#acc037"/><stop offset="0.3542" stop-color="#52cc7e"/><stop offset="0.375" stop-color="#0ebebb"/><stop offset="0.3958" stop-color="#249fe6"/><stop offset="0.4167" stop-color="#426afe"/><stop offset="0.4375" stop-color="#4746ea"/><stop offset="0.4583" stop-color="#4536d4"/><stop offset="0.4792" stop-color="#4331c6"/><stop offset="0.5" stop-color="#4230c3"/><stop offset="0.5208" stop-color="#4332ca"/><stop offset="0.5417" stop-color="#4433cb"/><stop offset="0.5625" stop-color="#4434cf"/><stop offset="0.5833" stop-color="#4536d4"/><stop offset="0.6042" stop-color="#4537d5"/><stop offset="0.625" stop-color="#4538d7"/><stop offset="0.6458" stop-color="#463adb"/><stop offset="0.6667" stop-color="#4639da"/><stop offset="0.6875" stop-color="#463ada"/><stop offset="0.7083" stop-color="#463bdc"/><stop offset="0.7292" stop-color="#463ada"/><stop offset="0.75" stop-color="#463adb"/><stop offset="0.7708" stop-color="#463ee1"/><stop offset="0.7917" stop-color="#4744e8"/><stop offset="0.8125" stop-color="#484bef"/><stop offset="0.8333" stop-color="#4850f3"/><stop offset="0.8542" stop-color="#484cf0"/><stop offset="0.875" stop-color="#4742e6"/><stop offset="0.8958" stop-color="#4639d9"/><stop offset="0.9167" stop-color="#4332c8"/><stop offset="0.9375" stop-color="#422ebe"/><stop offset="0.9583" stop-color="#412dbc"/><stop offset="0.9792" stop-color="#402bb8"/><stop offset="1" stop-color="#402ab4"/></linearGradient><linearGradient id="r19"><stop offset="0" stop-color="#3e26a8"/><stop offset="0.0208" stop-color="#3e26a9"/><stop offset="0.0417" stop-color="#3e26a8"/><stop offset="0.0625" stop-color="#3e26a8"/><stop offset="0.0833" stop-color="#3e26a9"/><stop offset="0.1042" stop-color="#3e26a9"/><stop offset="0.125" stop-color="#3f28ae"/><stop offset="0.1458" stop-color="#422ebe"/><stop offset="0.1667" stop-color="#463de0"/><stop offset="0.1875" stop-color="#4562fc"/><stop offset="0.2083" stop-color="#2699e9"/><stop offset="0.2292" stop-color="#08bcbf"/><stop offset="0.25" stop-color="#50cc7f"/><stop offset="0.2708" stop-color="#aec036"/><stop offset="0.2917" stop-color="#d5af29"/><stop offset="0.3125" stop-color="#d7ae29"/><stop offset="0.3333" stop-color="#b7bc30"/><stop offset="0.3542" stop-color="#5fcd73"/><stop offset="0.375" stop-color="#19bfb5"/><stop offset="0.3958" stop-color="#22a1e4"/><stop offset="0.4167" stop-color="#406dfe"/><stop offset="0.4375" stop-color="#4747ec"/><stop offset="0.4583" stop-color="#4536d3"/><stop offset="0.4792" stop-color="#4331c6"/><stop offset="0.5" stop-color="#4230c3"/><stop offset="0.5208" stop-color="#4331c7"/><stop offset="0.5417" stop-color="#4332cb"/><stop offset="0.5625" stop-color="#4434ce"/><stop offset="0.5833" stop-color="#4435d2"/><stop offset="0.6042" stop-color="#4536d5"/><stop offset="0.625" stop-color="#4538d7"/><stop offset="0.6458" stop-color="#4539d9"/><stop offset="0.6667" stop-color="#4639da"/><stop offset="0.6875" stop-color="#463adb"/><stop offset="0.7083" stop-color="#463adb"/><stop offset="0.7292" stop-color="#463adb"/><stop offset="0.75" stop-color="#463bdd"/><stop offset="0.7708" stop-color="#4741e5"/><stop offset="0.7917" stop-color="#484bef"/><stop offset="0.8125" stop-color="#4757f7"/><stop offset="0.8333" stop-color="#465dfb"/><stop offset="0.8542" stop-color="#475af9"/><stop offset="0.875" stop-color="#484df0"/><stop offset="0.8958" stop-color="#463ee1"/><stop offset="0.9167" stop-color="#4433cd"/><stop offset="0.9375" stop-color="#422ec0"/><stop offset="0.9583" stop-color="#412cba"/><stop offset="0.9792" stop-color="#402bb7"/><stop offset="1" stop-color="#402ab4"/></linearGradient><linearGradient id="r20"><stop offset="0" stop-color="#3e27aa"/><stop offset="0.0208" stop-color="#3f28ae"/><stop offset="0.0417" stop-color="#3e27a9"/><stop offset="0.0625" stop-color="#3e27aa"/><stop offset="0.0833" stop-color="#3f28ae"/><stop offset="0.1042" stop-color="#3e27aa"/><stop offset="0.125" stop-color="#3f29b1"/><stop offset="0.1458" stop-color="#4230c4"/><stop offset="0.1667" stop-color="#473fe2"/><stop offset="0.1875" stop-color="#4465fd"/><stop offset="0.2083" stop-color="#249ee6"/><stop offset="0.2292" stop-color="#0fbeba"/><stop offset="0.25" stop-color="#5ccc76"/><stop offset="0.2708" stop-color="#bdba2c"/><stop offset="0.2917" stop-color="#dcac2c"/><stop offset="0.3125" stop-color="#deab2d"/><stop offset="0.3333" stop-color="#c5b629"/><stop offset="0.3542" stop-color="#6bcd69"/><stop offset="0.375" stop-color="#20c1b1"/><stop offset="0.3958" stop-color="#1fa6e2"/><stop offset="0.4167" stop-color="#3d70ff"/><stop offset="0.4375" stop-color="#4849ed"/><stop offset="0.4583" stop-color="#4538d8"/><stop offset="0.4792" stop-color="#4331c8"/><stop offset="0.5" stop-color="#4330c5"/><stop offset="0.5208" stop-color="#4433cd"/><stop offset="0.5417" stop-color="#4433cd"/><stop offset="0.5625" stop-color="#4434d0"/><stop offset="0.5833" stop-color="#4538d7"/><stop offset="0.6042" stop-color="#4537d7"/><stop offset="0.625" stop-color="#4538d8"/><stop offset="0.6458" stop-color="#463bde"/><stop offset="0.6667" stop-color="#463adc"/><stop offset="0.6875" stop-color="#463bdc"/><stop offset="0.7083" stop-color="#463ddf"/><stop offset="0.7292" stop-color="#463bdd"/><stop offset="0.75" stop-color="#463ee1"/><stop offset="0.7708" stop-color="#4849ed"/><stop offset="0.7917" stop-color="#4757f7"/><stop offset="0.8125" stop-color="#4367fd"/><stop offset="0.8333" stop-color="#3b72ff"/><stop offset="0.8542" stop-color="#416cfe"/><stop offset="0.875" stop-color="#475bf9"/><stop offset="0.8958" stop-color="#4849ed"/><stop offset="0.9167" stop-color="#4537d5"/><stop offset="0.9375" stop-color="#422fc3"/><stop offset="0.9583" stop-color="#422ec0"/><stop offset="0.9792" stop-color="#412cb9"/><stop offset="1" stop-color="#402ab5"/></linearGradient><linearGradient id="r21"><stop offset="0" stop-color="#3e28ac"/><stop offset="0.0208" stop-color="#402ab4"/><stop offset="0.0417" stop-color="#3e27ab"/><stop offset="0.0625" stop-color="#3e28ac"/><stop offset="0.0833" stop-color="#402ab4"/><stop offset="0.1042" stop-color="#3e27ab"/><stop offset="0.125" stop-color="#402ab3"/><stop offset="0.1458" stop-color="#4332ca"/><stop offset="0.1667" stop-color="#4740e3"/><stop offset="0.1875" stop-color="#4367fd"/><stop offset="0.2083" stop-color="#22a1e4"/><stop offset="0.2292" stop-color="#14beb8"/><stop offset="0.25" stop-color="#62cd71"/><stop offset="0.2708" stop-color="#c6b629"/><stop offset="0.2917" stop-color="#e0aa2f"/><stop offset="0.3125" stop-color="#e2a931"/><stop offset="0.3333" stop-color="#ceb227"/><stop offset="0.3542" stop-color="#72cd64"/><stop offset="0.375" stop-color="#24c2ae"/><stop offset="0.3958" stop-color="#1ca9df"/><stop offset="0.4167" stop-color="#3b72ff"/><stop offset="0.4375" stop-color="#484bee"/><stop offset="0.4583" stop-color="#463bdd"/><stop offset="0.4792" stop-color="#4332ca"/><stop offset="0.5" stop-color="#4331c6"/><stop offset="0.5208" stop-color="#4535d2"/><stop offset="0.5417" stop-color="#4434ce"/><stop offset="0.5625" stop-color="#4435d1"/><stop offset="0.5833" stop-color="#463adc"/><stop offset="0.6042" stop-color="#4538d8"/><stop offset="0.625" stop-color="#4639d9"/><stop offset="0.6458" stop-color="#473ee1"/><stop offset="0.6667" stop-color="#463bde"/><stop offset="0.6875" stop-color="#463bdd"/><stop offset="0.7083" stop-color="#4740e3"/><stop offset="0.7292" stop-color="#463de0"/><stop offset="0.75" stop-color="#4740e4"/><stop offset="0.7708" stop-color="#4852f4"/><stop offset="0.7917" stop-color="#4564fd"/><stop offset="0.8125" stop-color="#3579fd"/><stop offset="0.8333" stop-color="#2d88f6"/><stop offset="0.8542" stop-color="#3080fb"/><stop offset="0.875" stop-color="#426afe"/><stop offset="0.8958" stop-color="#4755f6"/><stop offset="0.9167" stop-color="#463cde"/><stop offset="0.9375" stop-color="#4331c6"/><stop offset="0.9583" stop-color="#4331c6"/><stop offset="0.9792" stop-color="#412dbb"/><stop offset="1" stop-color="#402bb6"/></linearGradient><linearGradient id="r22"><stop offset="0" stop-color="#3e27ab"/><stop offset="0.0208" stop-color="#3f29b1"/><stop offset="0.0417" stop-color="#3e27aa"/><stop offset="0.0625" stop-color="#3e27ab"/><stop offset="0.0833" stop-color="#3f29b1"/><stop offset="0.1042" stop-color="#3e27aa"/><stop offset="0.125" stop-color="#3f29b2"/><stop offset="0.1458" stop-color="#4331c7"/><stop offset="0.1667" stop-color="#473fe3"/><stop offset="0.1875" stop-color="#4466fd"/><stop offset="0.2083" stop-color="#23a0e5"/><stop offset="0.2292" stop-color="#12beb9"/><stop offset="0.25" stop-color="#60cd72"/><stop offset="0.2708" stop-color="#c3b72a"/><stop offset="0.2917" stop-color="#dfaa2d"/><stop offset="0.3125" stop-color="#e1aa30"/><stop offset="0.3333" stop-color="#cab428"/><stop offset="0.3542" stop-color="#70cd65"/><stop offset="0.375" stop-color="#23c1af"/><stop offset="0.3958" stop-color="#1da8e0"/><stop offset="0.4167" stop-color="#3c72ff"/><stop offset="0.4375" stop-color="#484aee"/><stop offset="0.4583" stop-color="#463adb"/><stop offset="0.4792" stop-color="#4332c9"/><stop offset="0.5" stop-color="#4330c5"/><stop offset="0.5208" stop-color="#4434cf"/><stop offset="0.5417" stop-color="#4434ce"/><stop offset="0.5625" stop-color="#4435d1"/><stop offset="0.5833" stop-color="#4639d9"/><stop offset="0.6042" stop-color="#4538d7"/><stop offset="0.625" stop-color="#4539d9"/><stop offset="0.6458" stop-color="#463de0"/><stop offset="0.6667" stop-color="#463bdd"/><stop offset="0.6875" stop-color="#463bdd"/><stop offset="0.7083" stop-color="#473ee1"/><stop offset="0.7292" stop-color="#463de0"/><stop offset="0.75" stop-color="#4743e7"/><stop offset="0.7708" stop-color="#4758f8"/><stop offset="0.7917" stop-color="#3d70ff"/><stop offset="0.8125" stop-color="#2d88f6"/><stop offset="0.8333" stop-color="#2896ec"/><stop offset="0.8542" stop-color="#2c8ff0"/><stop offset="0.875" stop-color="#337afd"/><stop offset="0.8958" stop-color="#465efb"/><stop offset="0.9167" stop-color="#4740e4"/><stop offset="0.9375" stop-color="#4332c9"/><stop offset="0.9583" stop-color="#4230c4"/><stop offset="0.9792" stop-color="#412cba"/><stop offset="1" stop-color="#402ab5"/></linearGradient><linearGradient id="r23"><stop offset="0" stop-color="#3e26a9"/><stop offset="0.0208" stop-color="#3e27aa"/><stop offset="0.0417" stop-color="#3e26a9"/><stop offset="0.0625" stop-color="#3e26a9"/><stop offset="0.0833" stop-color="#3e27aa"/><stop offset="0.1042" stop-color="#3e26a9"/><stop offset="0.125" stop-color="#3f28af"/><stop offset="0.1458" stop-color="#422ec0"/><stop offset="0.1667" stop-color="#463ee1"/><stop offset="0.1875" stop-color="#4564fd"/><stop offset="0.2083" stop-color="#259be8"/><stop offset="0.2292" stop-color="#0cbdbc"/><stop offset="0.25" stop-color="#58cc7a"/><stop offset="0.2708" stop-color="#b6bd30"/><stop offset="0.2917" stop-color="#d9ad2b"/><stop offset="0.3125" stop-color="#dbac2c"/><stop offset="0.3333" stop-color="#beb92c"/><stop offset="0.3542" stop-color="#67cd6d"/><stop offset="0.375" stop-color="#1ec0b2"/><stop offset="0.3958" stop-color="#21a3e3"/><stop offset="0.4167" stop-color="#3e6fff"/><stop offset="0.4375" stop-color="#4849ec"/><stop offset="0.4583" stop-color="#4536d5"/><stop offset="0.4792" stop-color="#4331c7"/><stop offset="0.5" stop-color="#4230c4"/><stop offset="0.5208" stop-color="#4332c9"/><stop offset="0.5417" stop-color="#4433cc"/><stop offset="0.5625" stop-color="#4434cf"/><stop offset="0.5833" stop-color="#4536d3"/><stop offset="0.6042" stop-color="#4537d6"/><stop offset="0.625" stop-color="#4538d8"/><stop offset="0.6458" stop-color="#463ada"/><stop offset="0.6667" stop-color="#463adb"/><stop offset="0.6875" stop-color="#463adc"/><stop offset="0.7083" stop-color="#463bdd"/><stop offset="0.7292" stop-color="#463cdf"/><stop offset="0.75" stop-color="#4745e9"/><stop offset="0.7708" stop-color="#475bfa"/><stop offset="0.7917" stop-color="#327cfc"/><stop offset="0.8125" stop-color="#2895ec"/><stop offset="0.8333" stop-color="#249fe5"/><stop offset="0.8542" stop-color="#259be8"/><stop offset="0.875" stop-color="#2d88f6"/><stop offset="0.8958" stop-color="#4465fd"/><stop offset="0.9167" stop-color="#4745e9"/><stop offset="0.9375" stop-color="#4433cc"/><stop offset="0.9583" stop-color="#412ebd"/><stop offset="0.9792" stop-color="#402bb8"/><stop offset="1" stop-color="#402ab4"/></linearGradient><linearGradient id="r24"><stop offset="0" stop-color="#3e26a9"/><stop offset="0.0208" stop-color="#3e27aa"/><stop offset="0.0417" stop-color="#3e26a9"/><stop offset="0.0625" stop-color="#3e27a9"/><stop offset="0.0833" stop-color="#3e27aa"/><stop offset="0.1042" stop-color="#3e26a9"/><stop offset="0.125" stop-color="#3f28af"/><stop offset="0.1458" stop-color="#422ebf"/><stop offset="0.1667" stop-color="#463de0"/><stop offset="0.1875" stop-color="#4561fc"/><stop offset="0.2083" stop-color="#2798ea"/><stop offset="0.2292" stop-color="#06bcc0"/><stop offset="0.25" stop-color="#4dcb82"/><stop offset="0.2708" stop-color="#abc138"/><stop offset="0.2917" stop-color="#d2b028"/><stop offset="0.3125" stop-color="#d4af28"/><stop offset="0.3333" stop-color="#b4be32"/><stop offset="0.3542" stop-color="#5bcc77"/><stop offset="0.375" stop-color="#16bfb7"/><stop offset="0.3958" stop-color="#23a1e5"/><stop offset="0.4167" stop-color="#406cfe"/><stop offset="0.4375" stop-color="#4747eb"/><stop offset="0.4583" stop-color="#4536d3"/><stop offset="0.4792" stop-color="#4331c6"/><stop offset="0.5" stop-color="#4230c3"/><stop offset="0.5208" stop-color="#4332c8"/><stop offset="0.5417" stop-color="#4433cb"/><stop offset="0.5625" stop-color="#4434cf"/><stop offset="0.5833" stop-color="#4536d3"/><stop offset="0.6042" stop-color="#4537d5"/><stop offset="0.625" stop-color="#4538d7"/><stop offset="0.6458" stop-color="#4639da"/><stop offset="0.6667" stop-color="#463ada"/><stop offset="0.6875" stop-color="#463adb"/><stop offset="0.7083" stop-color="#463bdc"/><stop offset="0.7292" stop-color="#463ddf"/><stop offset="0.75" stop-color="#4848ec"/><stop offset="0.7708" stop-color="#4562fc"/><stop offset="0.7917" stop-color="#2e86f7"/><stop offset="0.8125" stop-color="#249fe6"/><stop offset="0.8333" stop-color="#1da8e0"/><stop offset="0.8542" stop-color="#20a4e3"/><stop offset="0.875" stop-color="#2a92ee"/><stop offset="0.8958" stop-color="#3e6fff"/><stop offset="0.9167" stop-color="#484aee"/><stop offset="0.9375" stop-color="#4434cf"/><stop offset="0.9583" stop-color="#412ebe"/><stop offset="0.9792" stop-color="#402bb8"/><stop offset="1" stop-color="#402ab4"/></linearGradient><linearGradient id="r25"><stop offset="0" stop-color="#3e27ab"/><stop offset="0.0208" stop-color="#3f29b1"/><stop offset="0.0417" stop-color="#3e27aa"/><stop offset="0.0625" stop-color="#3e27ab"/><stop offset="0.0833" stop-color="#3f29b1"/><stop offset="0.1042" stop-color="#3e27aa"/><stop offset="0.125" stop-color="#3f29b0"/><stop offset="0.1458" stop-color="#4330c5"/><stop offset="0.1667" stop-color="#463cde"/><stop offset="0.1875" stop-color="#465ffb"/><stop offset="0.2083" stop-color="#2797eb"/><stop offset="0.2292" stop-color="#01b9c6"/><stop offset="0.25" stop-color="#41ca8c"/><stop offset="0.2708" stop-color="#a3c43e"/><stop offset="0.2917" stop-color="#c5b629"/><stop offset="0.3125" stop-color="#c8b528"/><stop offset="0.3333" stop-color="#acc137"/><stop offset="0.3542" stop-color="#4dcc82"/><stop offset="0.375" stop-color="#0bbdbd"/><stop offset="0.3958" stop-color="#249fe5"/><stop offset="0.4167" stop-color="#4269fe"/><stop offset="0.4375" stop-color="#4746ea"/><stop offset="0.4583" stop-color="#4538d8"/><stop offset="0.4792" stop-color="#4331c7"/><stop offset="0.5" stop-color="#4330c4"/><stop offset="0.5208" stop-color="#4434ce"/><stop offset="0.5417" stop-color="#4433cc"/><stop offset="0.5625" stop-color="#4434cf"/><stop offset="0.5833" stop-color="#4538d8"/><stop offset="0.6042" stop-color="#4537d6"/><stop offset="0.625" stop-color="#4538d8"/><stop offset="0.6458" stop-color="#463cde"/><stop offset="0.6667" stop-color="#463adb"/><stop offset="0.6875" stop-color="#463adb"/><stop offset="0.7083" stop-color="#463ee1"/><stop offset="0.7292" stop-color="#463ee1"/><stop offset="0.75" stop-color="#484aee"/><stop offset="0.7708" stop-color="#416bfe"/><stop offset="0.7917" stop-color="#2c8ff1"/><stop offset="0.8125" stop-color="#1fa6e2"/><stop offset="0.8333" stop-color="#14b0d8"/><stop offset="0.8542" stop-color="#1aabde"/><stop offset="0.875" stop-color="#269ae8"/><stop offset="0.8958" stop-color="#327bfc"/><stop offset="0.9167" stop-color="#4850f2"/><stop offset="0.9375" stop-color="#4536d3"/><stop offset="0.9583" stop-color="#4330c5"/><stop offset="0.9792" stop-color="#412cba"/><stop offset="1" stop-color="#402ab5"/></linearGradient><linearGradient id="r26"><stop offset="0" stop-color="#3e28ac"/><stop offset="0.0208" stop-color="#402ab4"/><stop offset="0.0417" stop-color="#3e27ab"/><stop offset="0.0625" stop-color="#3e28ac"/><stop offset="0.0833" stop-color="#402ab4"/><stop offset="0.1042" stop-color="#3e27ab"/><stop offset="0.125" stop-color="#3f29b1"/><stop offset="0.1458" stop-color="#4331c6"/><stop offset="0.1667" stop-color="#463adc"/><stop offset="0.1875" stop-color="#475cfa"/><stop offset="0.2083" stop-color="#2a92ee"/><stop offset="0.2292" stop-color="#04b6cd"/><stop offset="0.25" stop-color="#36c898"/><stop offset="0.2708" stop-color="#8dcb4f"/><stop offset="0.2917" stop-color="#b2be33"/><stop offset="0.3125" stop-color="#b5bd31"/><stop offset="0.3333" stop-color="#97c847"/><stop offset="0.3542" stop-color="#3eca8f"/><stop offset="0.375" stop-color="#02bac4"/><stop offset="0.3958" stop-color="#259be8"/><stop offset="0.4167" stop-color="#4465fd"/><stop offset="0.4375" stop-color="#4744e8"/><stop offset="0.4583" stop-color="#4538d8"/><stop offset="0.4792" stop-color="#4331c7"/><stop offset="0.5" stop-color="#4330c4"/><stop offset="0.5208" stop-color="#4435d0"/><stop offset="0.5417" stop-color="#4433cc"/><stop offset="0.5625" stop-color="#4434cf"/><stop offset="0.5833" stop-color="#4639da"/><stop offset="0.6042" stop-color="#4537d6"/><stop offset="0.625" stop-color="#4538d7"/><stop offset="0.6458" stop-color="#463ddf"/><stop offset="0.6667" stop-color="#463adb"/><stop offset="0.6875" stop-color="#463adb"/><stop offset="0.7083" stop-color="#473ee2"/><stop offset="0.7292" stop-color="#473ee2"/><stop offset="0.75" stop-color="#484cef"/><stop offset="0.7708" stop-color="#3d71ff"/><stop offset="0.7917" stop-color="#2994ed"/><stop offset="0.8125" stop-color="#1baade"/><stop offset="0.8333" stop-color="#0cb3d3"/><stop offset="0.8542" stop-color="#16aeda"/><stop offset="0.875" stop-color="#249fe5"/><stop offset="0.8958" stop-color="#2f82f9"/><stop offset="0.9167" stop-color="#4853f5"/><stop offset="0.9375" stop-color="#4537d5"/><stop offset="0.9583" stop-color="#4331c8"/><stop offset="0.9792" stop-color="#412dbb"/><stop offset="1" stop-color="#402ab5"/></linearGradient><linearGradient id="r27"><stop offset="0" stop-color="#3e27aa"/><stop offset="0.0208" stop-color="#3f28ae"/><stop offset="0.0417" stop-color="#3e27a9"/><stop offset="0.0625" stop-color="#3e27aa"/><stop offset="0.0833" stop-color="#3f28ae"/><stop offset="0.1042" stop-color="#3e27aa"/><stop offset="0.125" stop-color="#3f28ae"/><stop offset="0.1458" stop-color="#422ebf"/><stop offset="0.1667" stop-color="#4538d8"/><stop offset="0.1875" stop-color="#4756f7"/><stop offset="0.2083" stop-color="#2d89f6"/><stop offset="0.2292" stop-color="#12b1d6"/><stop offset="0.25" stop-color="#2cc4a7"/><stop offset="0.2708" stop-color="#65cd6e"/><stop offset="0.2917" stop-color="#95c849"/><stop offset="0.3125" stop-color="#98c746"/><stop offset="0.3333" stop-color="#6fcd66"/><stop offset="0.3542" stop-color="#31c69f"/><stop offset="0.375" stop-color="#06b5cf"/><stop offset="0.3958" stop-color="#2b91ef"/><stop offset="0.4167" stop-color="#465ffb"/><stop offset="0.4375" stop-color="#4741e4"/><stop offset="0.4583" stop-color="#4435d1"/><stop offset="0.4792" stop-color="#4230c4"/><stop offset="0.5" stop-color="#422fc2"/><stop offset="0.5208" stop-color="#4332ca"/><stop offset="0.5417" stop-color="#4332ca"/><stop offset="0.5625" stop-color="#4433cd"/><stop offset="0.5833" stop-color="#4536d4"/><stop offset="0.6042" stop-color="#4536d3"/><stop offset="0.625" stop-color="#4537d5"/><stop offset="0.6458" stop-color="#4639da"/><stop offset="0.6667" stop-color="#4538d8"/><stop offset="0.6875" stop-color="#4539d8"/><stop offset="0.7083" stop-color="#463bdd"/><stop offset="0.7292" stop-color="#463de0"/><stop offset="0.75" stop-color="#484cef"/><stop offset="0.7708" stop-color="#3e6fff"/><stop offset="0.7917" stop-color="#2896ec"/><stop offset="0.8125" stop-color="#1aabdd"/><stop offset="0.8333" stop-color="#10b2d5"/><stop offset="0.8542" stop-color="#16afd9"/><stop offset="0.875" stop-color="#23a1e4"/><stop offset="0.8958" stop-color="#2f82fa"/><stop offset="0.9167" stop-color="#4854f5"/><stop offset="0.9375" stop-color="#4537d5"/><stop offset="0.9583" stop-color="#422fc2"/><stop offset="0.9792" stop-color="#412cb8"/><stop offset="1" stop-color="#402ab4"/></linearGradient><linearGradient id="r28"><stop offset="0" stop-color="#3e26a8"/><stop offset="0.0208" stop-color="#3e26a9"/><stop offset="0.0417" stop-color="#3e26a8"/><stop offset="0.0625" stop-color="#3e26a8"/><stop offset="0.0833" stop-color="#3e26a9"/><stop offset="0.1042" stop-color="#3e26a9"/><stop offset="0.125" stop-color="#3e27ac"/><stop offset="0.1458" stop-color="#402bb8"/><stop offset="0.1667" stop-color="#4536d3"/><stop offset="0.1875" stop-color="#4850f3"/><stop offset="0.2083" stop-color="#317dfc"/><stop offset="0.2292" stop-color="#1ca9df"/><stop offset="0.25" stop-color="#19bfb6"/><stop offset="0.2708" stop-color="#42ca8b"/><stop offset="0.2917" stop-color="#6bcd69"/><stop offset="0.3125" stop-color="#6fcd66"/><stop offset="0.3333" stop-color="#49cb85"/><stop offset="0.3542" stop-color="#23c1af"/><stop offset="0.375" stop-color="#16afda"/><stop offset="0.3958" stop-color="#2e86f7"/><stop offset="0.4167" stop-color="#4759f8"/><stop offset="0.4375" stop-color="#463de0"/><stop offset="0.4583" stop-color="#4332c9"/><stop offset="0.4792" stop-color="#422fc0"/><stop offset="0.5" stop-color="#422fc0"/><stop offset="0.5208" stop-color="#4230c4"/><stop offset="0.5417" stop-color="#4331c7"/><stop offset="0.5625" stop-color="#4332ca"/><stop offset="0.5833" stop-color="#4434cd"/><stop offset="0.6042" stop-color="#4435d0"/><stop offset="0.625" stop-color="#4536d2"/><stop offset="0.6458" stop-color="#4536d4"/><stop offset="0.6667" stop-color="#4537d6"/><stop offset="0.6875" stop-color="#4537d6"/><stop offset="0.7083" stop-color="#4538d7"/><stop offset="0.7292" stop-color="#463bdd"/><stop offset="0.75" stop-color="#484aee"/><stop offset="0.7708" stop-color="#406cfe"/><stop offset="0.7917" stop-color="#2994ed"/><stop offset="0.8125" stop-color="#1babde"/><stop offset="0.8333" stop-color="#14b0d8"/><stop offset="0.8542" stop-color="#18aedb"/><stop offset="0.875" stop-color="#23a0e5"/><stop offset="0.8958" stop-color="#307ffb"/><stop offset="0.9167" stop-color="#4852f4"/><stop offset="0.9375" stop-color="#4536d4"/><stop offset="0.9583" stop-color="#412dbd"/><stop offset="0.9792" stop-color="#402bb6"/><stop offset="1" stop-color="#402ab3"/></linearGradient><linearGradient id="r29"><stop offset="0" stop-color="#3e27aa"/><stop offset="0.0208" stop-color="#3e27ac"/><stop offset="0.0417" stop-color="#3e27a9"/><stop offset="0.0625" stop-color="#3e27aa"/><stop offset="0.0833" stop-color="#3e27ac"/><stop offset="0.1042" stop-color="#3e27a9"/><stop offset="0.125" stop-color="#3e27ac"/><stop offset="0.1458" stop-color="#412cb9"/><stop offset="0.1667" stop-color="#4434cf"/><stop offset="0.1875" stop-color="#484bef"/><stop offset="0.2083" stop-color="#3975fe"/><stop offset="0.2292" stop-color="#23a0e5"/><stop offset="0.25" stop-color="#02bac4"/><stop offset="0.2708" stop-color="#32c69e"/><stop offset="0.2917" stop-color="#47cb87"/><stop offset="0.3125" stop-color="#4acb85"/><stop offset="0.3333" stop-color="#35c79a"/><stop offset="0.3542" stop-color="#09bdbe"/><stop offset="0.375" stop-color="#1fa6e2"/><stop offset="0.3958" stop-color="#317dfb"/><stop offset="0.4167" stop-color="#4853f5"/><stop offset="0.4375" stop-color="#463bdc"/><stop offset="0.4583" stop-color="#4332ca"/><stop offset="0.4792" stop-color="#422ebf"/><stop offset="0.5" stop-color="#422ec0"/><stop offset="0.5208" stop-color="#4331c6"/><stop offset="0.5417" stop-color="#4331c6"/><stop offset="0.5625" stop-color="#4332c9"/><stop offset="0.5833" stop-color="#4434cf"/><stop offset="0.6042" stop-color="#4434cf"/><stop offset="0.625" stop-color="#4435d1"/><stop offset="0.6458" stop-color="#4537d5"/><stop offset="0.6667" stop-color="#4536d5"/><stop offset="0.6875" stop-color="#4537d5"/><stop offset="0.7083" stop-color="#4538d8"/><stop offset="0.7292" stop-color="#463adc"/><stop offset="0.75" stop-color="#4849ed"/><stop offset="0.7708" stop-color="#416afe"/><stop offset="0.7917" stop-color="#2b92ee"/><stop offset="0.8125" stop-color="#1da9e0"/><stop offset="0.8333" stop-color="#14b0d8"/><stop offset="0.8542" stop-color="#19addc"/><stop offset="0.875" stop-color="#249ee6"/><stop offset="0.8958" stop-color="#317efb"/><stop offset="0.9167" stop-color="#4851f3"/><stop offset="0.9375" stop-color="#4535d2"/><stop offset="0.9583" stop-color="#422ebf"/><stop offset="0.9792" stop-color="#402bb6"/><stop offset="1" stop-color="#402ab3"/></linearGradient><linearGradient id="r30"><stop offset="0" stop-color="#3e28ac"/><stop offset="0.0208" stop-color="#402ab3"/><stop offset="0.0417" stop-color="#3e27aa"/><stop offset="0.0625" stop-color="#3e27ac"/><stop offset="0.0833" stop-color="#402ab3"/><stop offset="0.1042" stop-color="#3e27ab"/><stop offset="0.125" stop-color="#3f28ad"/><stop offset="0.1458" stop-color="#422ebe"/><stop offset="0.1667" stop-color="#4432cb"/><stop offset="0.1875" stop-color="#4746eb"/><stop offset="0.2083" stop-color="#3f6dfe"/><stop offset="0.2292" stop-color="#2896ec"/><stop offset="0.25" stop-color="#0ab4d1"/><stop offset="0.2708" stop-color="#25c2ad"/><stop offset="0.2917" stop-color="#32c69f"/><stop offset="0.3125" stop-color="#33c69d"/><stop offset="0.3333" stop-color="#29c3a9"/><stop offset="0.3542" stop-color="#03b6cc"/><stop offset="0.375" stop-color="#259ce7"/><stop offset="0.3958" stop-color="#3876fe"/><stop offset="0.4167" stop-color="#484ef1"/><stop offset="0.4375" stop-color="#4539d9"/><stop offset="0.4583" stop-color="#4434ce"/><stop offset="0.4792" stop-color="#422ebf"/><stop offset="0.5" stop-color="#422fc0"/><stop offset="0.5208" stop-color="#4433cb"/><stop offset="0.5417" stop-color="#4331c7"/><stop offset="0.5625" stop-color="#4332c9"/><stop offset="0.5833" stop-color="#4536d3"/><stop offset="0.6042" stop-color="#4434cf"/><stop offset="0.625" stop-color="#4435d0"/><stop offset="0.6458" stop-color="#4539d9"/><stop offset="0.6667" stop-color="#4536d4"/><stop offset="0.6875" stop-color="#4536d4"/><stop offset="0.7083" stop-color="#463adb"/><stop offset="0.7292" stop-color="#463adb"/><stop offset="0.75" stop-color="#4746eb"/><stop offset="0.7708" stop-color="#4269fe"/><stop offset="0.7917" stop-color="#2d8df2"/><stop offset="0.8125" stop-color="#20a4e3"/><stop offset="0.8333" stop-color="#15afd9"/><stop offset="0.8542" stop-color="#1caadf"/><stop offset="0.875" stop-color="#2699e9"/><stop offset="0.8958" stop-color="#327bfc"/><stop offset="0.9167" stop-color="#484ff2"/><stop offset="0.9375" stop-color="#4435d0"/><stop offset="0.9583" stop-color="#4230c4"/><stop offset="0.9792" stop-color="#412cb8"/><stop offset="1" stop-color="#402ab3"/></linearGradient><linearGradient id="r31"><stop offset="0" stop-color="#3e27ac"/><stop offset="0.0208" stop-color="#402ab3"/><stop offset="0.0417" stop-color="#3e27aa"/><stop offset="0.0625" stop-color="#3e27ac"/><stop offset="0.0833" stop-color="#402ab3"/><stop offset="0.1042" stop-color="#3e27ab"/><stop offset="0.125" stop-color="#3e28ac"/><stop offset="0.1458" stop-color="#412dbc"/><stop offset="0.1667" stop-color="#4331c6"/><stop offset="0.1875" stop-color="#4741e4"/><stop offset="0.2083" stop-color="#4563fc"/><stop offset="0.2292" stop-color="#2d89f5"/><stop offset="0.25" stop-color="#1caadf"/><stop offset="0.2708" stop-color="#06bcc0"/><stop offset="0.2917" stop-color="#1bc0b4"/><stop offset="0.3125" stop-color="#1dc0b3"/><stop offset="0.3333" stop-color="#0abdbd"/><stop offset="0.3542" stop-color="#18addb"/><stop offset="0.375" stop-color="#2c8ff1"/><stop offset="0.3958" stop-color="#426afe"/><stop offset="0.4167" stop-color="#4747ec"/><stop offset="0.4375" stop-color="#4536d3"/><stop offset="0.4583" stop-color="#4433cb"/><stop offset="0.4792" stop-color="#412ebe"/><stop offset="0.5" stop-color="#422ebf"/><stop offset="0.5208" stop-color="#4332c9"/><stop offset="0.5417" stop-color="#4330c5"/><stop offset="0.5625" stop-color="#4331c7"/><stop offset="0.5833" stop-color="#4435d1"/><stop offset="0.6042" stop-color="#4433cd"/><stop offset="0.625" stop-color="#4434ce"/><stop offset="0.6458" stop-color="#4538d7"/><stop offset="0.6667" stop-color="#4535d2"/><stop offset="0.6875" stop-color="#4435d1"/><stop offset="0.7083" stop-color="#4539d9"/><stop offset="0.7292" stop-color="#4538d8"/><stop offset="0.75" stop-color="#4743e7"/><stop offset="0.7708" stop-color="#4562fc"/><stop offset="0.7917" stop-color="#2e84f8"/><stop offset="0.8125" stop-color="#259de7"/><stop offset="0.8333" stop-color="#1ca9df"/><stop offset="0.8542" stop-color="#20a4e3"/><stop offset="0.875" stop-color="#2b92ef"/><stop offset="0.8958" stop-color="#3b72fe"/><stop offset="0.9167" stop-color="#484aee"/><stop offset="0.9375" stop-color="#4433cc"/><stop offset="0.9583" stop-color="#422fc2"/><stop offset="0.9792" stop-color="#402bb8"/><stop offset="1" stop-color="#4029b3"/></linearGradient><linearGradient id="r32"><stop offset="0" stop-color="#3e27a9"/><stop offset="0.0208" stop-color="#3e27ac"/><stop offset="0.0417" stop-color="#3e27a9"/><stop offset="0.0625" stop-color="#3e27a9"/><stop offset="0.0833" stop-color="#3e27ac"/><stop offset="0.1042" stop-color="#3e27a9"/><stop offset="0.125" stop-color="#3e27aa"/><stop offset="0.1458" stop-color="#402ab3"/><stop offset="0.1667" stop-color="#422ebf"/><stop offset="0.1875" stop-color="#463adc"/><stop offset="0.2083" stop-color="#4756f7"/><stop offset="0.2292" stop-color="#3479fd"/><stop offset="0.25" stop-color="#259be7"/><stop offset="0.2708" stop-color="#12b1d7"/><stop offset="0.2917" stop-color="#01b8c9"/><stop offset="0.3125" stop-color="#01b8c8"/><stop offset="0.3333" stop-color="#0eb2d4"/><stop offset="0.3542" stop-color="#249fe5"/><stop offset="0.375" stop-color="#3080fb"/><stop offset="0.3958" stop-color="#475cfa"/><stop offset="0.4167" stop-color="#4740e4"/><stop offset="0.4375" stop-color="#4433cc"/><stop offset="0.4583" stop-color="#422fc1"/><stop offset="0.4792" stop-color="#412cba"/><stop offset="0.5" stop-color="#412dbc"/><stop offset="0.5208" stop-color="#422fc1"/><stop offset="0.5417" stop-color="#422fc1"/><stop offset="0.5625" stop-color="#4230c4"/><stop offset="0.5833" stop-color="#4332c9"/><stop offset="0.6042" stop-color="#4332c9"/><stop offset="0.625" stop-color="#4332cb"/><stop offset="0.6458" stop-color="#4434ce"/><stop offset="0.6667" stop-color="#4434ce"/><stop offset="0.6875" stop-color="#4434ce"/><stop offset="0.7083" stop-color="#4435d1"/><stop offset="0.7292" stop-color="#4536d3"/><stop offset="0.75" stop-color="#463ee1"/><stop offset="0.7708" stop-color="#4756f7"/><stop offset="0.7917" stop-color="#3677fe"/><stop offset="0.8125" stop-color="#2b92ee"/><stop offset="0.8333" stop-color="#249de6"/><stop offset="0.8542" stop-color="#2699e9"/><stop offset="0.875" stop-color="#2e86f7"/><stop offset="0.8958" stop-color="#4464fd"/><stop offset="0.9167" stop-color="#4743e7"/><stop offset="0.9375" stop-color="#4331c7"/><stop offset="0.9583" stop-color="#412cba"/><stop offset="0.9792" stop-color="#402ab4"/><stop offset="1" stop-color="#3f29b1"/></linearGradient><linearGradient id="r33"><stop offset="0" stop-color="#3e26a8"/><stop offset="0.0208" stop-color="#3e26a9"/><stop offset="0.0417" stop-color="#3e26a8"/><stop offset="0.0625" stop-color="#3e26a8"/><stop offset="0.0833" stop-color="#3e26a9"/><stop offset="0.1042" stop-color="#3e26a8"/><stop offset="0.125" stop-color="#3e26a9"/><stop offset="0.1458" stop-color="#3f28ae"/><stop offset="0.1667" stop-color="#412cba"/><stop offset="0.1875" stop-color="#4536d4"/><stop offset="0.2083" stop-color="#484cef"/><stop offset="0.2292" stop-color="#426afe"/><stop offset="0.25" stop-color="#2d8bf3"/><stop offset="0.2708" stop-color="#22a2e4"/><stop offset="0.2917" stop-color="#19addc"/><stop offset="0.3125" stop-color="#18addb"/><stop offset="0.3333" stop-color="#20a4e3"/><stop offset="0.3542" stop-color="#2c8ff0"/><stop offset="0.375" stop-color="#3e6fff"/><stop offset="0.3958" stop-color="#4851f3"/><stop offset="0.4167" stop-color="#463bdd"/><stop offset="0.4375" stop-color="#4331c6"/><stop offset="0.4583" stop-color="#412dbc"/><stop offset="0.4792" stop-color="#402bb8"/><stop offset="0.5" stop-color="#412cba"/><stop offset="0.5208" stop-color="#412dbd"/><stop offset="0.5417" stop-color="#422ebf"/><stop offset="0.5625" stop-color="#422fc1"/><stop offset="0.5833" stop-color="#4230c4"/><stop offset="0.6042" stop-color="#4331c6"/><stop offset="0.625" stop-color="#4331c8"/><stop offset="0.6458" stop-color="#4332c9"/><stop offset="0.6667" stop-color="#4332ca"/><stop offset="0.6875" stop-color="#4332cb"/><stop offset="0.7083" stop-color="#4433cb"/><stop offset="0.7292" stop-color="#4434ce"/><stop offset="0.75" stop-color="#463adb"/><stop offset="0.7708" stop-color="#484df0"/><stop offset="0.7917" stop-color="#4369fe"/><stop offset="0.8125" stop-color="#2e84f9"/><stop offset="0.8333" stop-color="#2c8ff0"/><stop offset="0.8542" stop-color="#2d8bf3"/><stop offset="0.875" stop-color="#3677fe"/><stop offset="0.8958" stop-color="#4758f8"/><stop offset="0.9167" stop-color="#463cde"/><stop offset="0.9375" stop-color="#422fc2"/><stop offset="0.9583" stop-color="#402bb6"/><stop offset="0.9792" stop-color="#3f29b2"/><stop offset="1" stop-color="#3f29b0"/></linearGradient><linearGradient id="r34"><stop offset="0" stop-color="#3e27ab"/><stop offset="0.0208" stop-color="#3f28af"/><stop offset="0.0417" stop-color="#3e27aa"/><stop offset="0.0625" stop-color="#3e27aa"/><stop offset="0.0833" stop-color="#3f28af"/><stop offset="0.1042" stop-color="#3e27aa"/><stop offset="0.125" stop-color="#3e27aa"/><stop offset="0.1458" stop-color="#402ab3"/><stop offset="0.1667" stop-color="#402cb8"/><stop offset="0.1875" stop-color="#4434ce"/><stop offset="0.2083" stop-color="#4746ea"/><stop offset="0.2292" stop-color="#475dfa"/><stop offset="0.25" stop-color="#337bfc"/><stop offset="0.2708" stop-color="#2994ed"/><stop offset="0.2917" stop-color="#249de6"/><stop offset="0.3125" stop-color="#249ee6"/><stop offset="0.3333" stop-color="#2896eb"/><stop offset="0.3542" stop-color="#307ffb"/><stop offset="0.375" stop-color="#4561fc"/><stop offset="0.3958" stop-color="#484bef"/><stop offset="0.4167" stop-color="#4537d6"/><stop offset="0.4375" stop-color="#422fc3"/><stop offset="0.4583" stop-color="#422ebe"/><stop offset="0.4792" stop-color="#402bb8"/><stop offset="0.5" stop-color="#412cba"/><stop offset="0.5208" stop-color="#422fc1"/><stop offset="0.5417" stop-color="#422ebf"/><stop offset="0.5625" stop-color="#422fc1"/><stop offset="0.5833" stop-color="#4331c7"/><stop offset="0.6042" stop-color="#4330c5"/><stop offset="0.625" stop-color="#4331c6"/><stop offset="0.6458" stop-color="#4433cc"/><stop offset="0.6667" stop-color="#4332c9"/><stop offset="0.6875" stop-color="#4332c9"/><stop offset="0.7083" stop-color="#4434ce"/><stop offset="0.7292" stop-color="#4433cc"/><stop offset="0.75" stop-color="#4537d5"/><stop offset="0.7708" stop-color="#4747eb"/><stop offset="0.7917" stop-color="#475cfa"/><stop offset="0.8125" stop-color="#3b73fe"/><stop offset="0.8333" stop-color="#2f81fa"/><stop offset="0.8542" stop-color="#327bfc"/><stop offset="0.875" stop-color="#4367fd"/><stop offset="0.8958" stop-color="#484ff2"/><stop offset="0.9167" stop-color="#4538d7"/><stop offset="0.9375" stop-color="#412ebe"/><stop offset="0.9583" stop-color="#412cba"/><stop offset="0.9792" stop-color="#402ab4"/><stop offset="1" stop-color="#3f29b0"/></linearGradient><linearGradient id="r35"><stop offset="0" stop-color="#3e28ac"/><stop offset="0.0208" stop-color="#402ab4"/><stop offset="0.0417" stop-color="#3e27ab"/><stop offset="0.0625" stop-color="#3e28ac"/><stop offset="0.0833" stop-color="#402ab4"/><stop offset="0.1042" stop-color="#3e27ab"/><stop offset="0.125" stop-color="#3e28ac"/><stop offset="0.1458" stop-color="#402bb6"/><stop offset="0.1667" stop-color="#402bb6"/><stop offset="0.1875" stop-color="#4331c7"/><stop offset="0.2083" stop-color="#4741e5"/><stop offset="0.2292" stop-color="#4852f4"/><stop offset="0.25" stop-color="#426afe"/><stop offset="0.2708" stop-color="#2e84f8"/><stop offset="0.2917" stop-color="#2d8cf3"/><stop offset="0.3125" stop-color="#2d8cf3"/><stop offset="0.3333" stop-color="#2e86f7"/><stop offset="0.3542" stop-color="#406dfe"/><stop offset="0.375" stop-color="#4756f7"/><stop offset="0.3958" stop-color="#4745e9"/><stop offset="0.4167" stop-color="#4434d0"/><stop offset="0.4375" stop-color="#422fc0"/><stop offset="0.4583" stop-color="#422fc1"/><stop offset="0.4792" stop-color="#412cb8"/><stop offset="0.5" stop-color="#412cba"/><stop offset="0.5208" stop-color="#4330c5"/><stop offset="0.5417" stop-color="#422ebf"/><stop offset="0.5625" stop-color="#422ec0"/><stop offset="0.5833" stop-color="#4332cb"/><stop offset="0.6042" stop-color="#4330c5"/><stop offset="0.625" stop-color="#4330c5"/><stop offset="0.6458" stop-color="#4434cf"/><stop offset="0.6667" stop-color="#4332c8"/><stop offset="0.6875" stop-color="#4331c7"/><stop offset="0.7083" stop-color="#4435d0"/><stop offset="0.7292" stop-color="#4332ca"/><stop offset="0.75" stop-color="#4434cf"/><stop offset="0.7708" stop-color="#4742e6"/><stop offset="0.7917" stop-color="#4850f3"/><stop offset="0.8125" stop-color="#4561fc"/><stop offset="0.8333" stop-color="#3d70ff"/><stop offset="0.8542" stop-color="#4369fe"/><stop offset="0.875" stop-color="#4757f8"/><stop offset="0.8958" stop-color="#4747eb"/><stop offset="0.9167" stop-color="#4434cf"/><stop offset="0.9375" stop-color="#412dbb"/><stop offset="0.9583" stop-color="#412ebe"/><stop offset="0.9792" stop-color="#402ab5"/><stop offset="1" stop-color="#3f29b0"/></linearGradient><linearGradient id="r36"><stop offset="0" stop-color="#3e27ab"/><stop offset="0.0208" stop-color="#3f29b1"/><stop offset="0.0417" stop-color="#3e27aa"/><stop offset="0.0625" stop-color="#3e27ab"/><stop offset="0.0833" stop-color="#3f29b1"/><stop offset="0.1042" stop-color="#3e27aa"/><stop offset="0.125" stop-color="#3e27ab"/><stop offset="0.1458" stop-color="#3f29b2"/><stop offset="0.1667" stop-color="#402ab3"/><stop offset="0.1875" stop-color="#422ebf"/><stop offset="0.2083" stop-color="#463ada"/><stop offset="0.2292" stop-color="#4747eb"/><stop offset="0.25" stop-color="#475af9"/><stop offset="0.2708" stop-color="#3f6fff"/><stop offset="0.2917" stop-color="#3777fe"/><stop offset="0.3125" stop-color="#3678fe"/><stop offset="0.3333" stop-color="#3d71ff"/><stop offset="0.3542" stop-color="#475dfa"/><stop offset="0.375" stop-color="#484aee"/><stop offset="0.3958" stop-color="#463de0"/><stop offset="0.4167" stop-color="#4331c7"/><stop offset="0.4375" stop-color="#412dbb"/><stop offset="0.4583" stop-color="#412dbb"/><stop offset="0.4792" stop-color="#402bb6"/><stop offset="0.5" stop-color="#402bb8"/><stop offset="0.5208" stop-color="#422ec0"/><stop offset="0.5417" stop-color="#412dbc"/><stop offset="0.5625" stop-color="#412dbd"/><stop offset="0.5833" stop-color="#4330c5"/><stop offset="0.6042" stop-color="#422fc1"/><stop offset="0.625" stop-color="#422fc2"/><stop offset="0.6458" stop-color="#4332c9"/><stop offset="0.6667" stop-color="#4330c5"/><stop offset="0.6875" stop-color="#4230c4"/><stop offset="0.7083" stop-color="#4332ca"/><stop offset="0.7292" stop-color="#4331c6"/><stop offset="0.75" stop-color="#4332c9"/><stop offset="0.7708" stop-color="#463adb"/><stop offset="0.7917" stop-color="#4744e8"/><stop offset="0.8125" stop-color="#4851f3"/><stop offset="0.8333" stop-color="#475bfa"/><stop offset="0.8542" stop-color="#4756f7"/><stop offset="0.875" stop-color="#4849ed"/><stop offset="0.8958" stop-color="#463cdf"/><stop offset="0.9167" stop-color="#4331c6"/><stop offset="0.9375" stop-color="#402bb7"/><stop offset="0.9583" stop-color="#412cb9"/><stop offset="0.9792" stop-color="#402ab3"/><stop offset="1" stop-color="#3f28af"/></linearGradient><linearGradient id="r37"><stop offset="0" stop-color="#3e26a9"/><stop offset="0.0208" stop-color="#3e27a9"/><stop offset="0.0417" stop-color="#3e26a9"/><stop offset="0.0625" stop-color="#3e26a9"/><stop offset="0.0833" stop-color="#3e27a9"/><stop offset="0.1042" stop-color="#3e26a9"/><stop offset="0.125" stop-color="#3e26a9"/><stop offset="0.1458" stop-color="#3e27aa"/><stop offset="0.1667" stop-color="#3f28ae"/><stop offset="0.1875" stop-color="#412cb8"/><stop offset="0.2083" stop-color="#4433cb"/><stop offset="0.2292" stop-color="#463de0"/><stop offset="0.25" stop-color="#484df0"/><stop offset="0.2708" stop-color="#475af9"/><stop offset="0.2917" stop-color="#4562fc"/><stop offset="0.3125" stop-color="#4563fd"/><stop offset="0.3333" stop-color="#475cfa"/><stop offset="0.3542" stop-color="#484ff2"/><stop offset="0.375" stop-color="#4740e3"/><stop offset="0.3958" stop-color="#4435d1"/><stop offset="0.4167" stop-color="#422ebf"/><stop offset="0.4375" stop-color="#402bb6"/><stop offset="0.4583" stop-color="#402ab3"/><stop offset="0.4792" stop-color="#402ab3"/><stop offset="0.5" stop-color="#402ab5"/><stop offset="0.5208" stop-color="#402bb7"/><stop offset="0.5417" stop-color="#412cb8"/><stop offset="0.5625" stop-color="#412cba"/><stop offset="0.5833" stop-color="#412dbc"/><stop offset="0.6042" stop-color="#412dbd"/><stop offset="0.625" stop-color="#422ebe"/><stop offset="0.6458" stop-color="#422fc0"/><stop offset="0.6667" stop-color="#422fc0"/><stop offset="0.6875" stop-color="#422fc0"/><stop offset="0.7083" stop-color="#422fc1"/><stop offset="0.7292" stop-color="#422fc1"/><stop offset="0.75" stop-color="#4230c3"/><stop offset="0.7708" stop-color="#4433cc"/><stop offset="0.7917" stop-color="#4639da"/><stop offset="0.8125" stop-color="#4742e6"/><stop offset="0.8333" stop-color="#4848ec"/><stop offset="0.8542" stop-color="#4746ea"/><stop offset="0.875" stop-color="#463cdf"/><stop offset="0.8958" stop-color="#4433cd"/><stop offset="0.9167" stop-color="#412dbc"/><stop offset="0.9375" stop-color="#402ab4"/><stop offset="0.9583" stop-color="#3f29b1"/><stop offset="0.9792" stop-color="#3f28af"/><stop offset="1" stop-color="#3f28ae"/></linearGradient><linearGradient id="r38"><stop offset="0" stop-color="#3e27a9"/><stop offset="0.0208" stop-color="#3e27aa"/><stop offset="0.0417" stop-color="#3e26a9"/><stop offset="0.0625" stop-color="#3e27a9"/><stop offset="0.0833" stop-color="#3e27aa"/><stop offset="0.1042" stop-color="#3e26a9"/><stop offset="0.125" stop-color="#3e27a9"/><stop offset="0.1458" stop-color="#3e27aa"/><stop offset="0.1667" stop-color="#3e27ac"/><stop offset="0.1875" stop-color="#402ab5"/><stop offset="0.2083" stop-color="#422fc3"/><stop offset="0.2292" stop-color="#4537d5"/><stop offset="0.25" stop-color="#4741e5"/><stop offset="0.2708" stop-color="#484df1"/><stop offset="0.2917" stop-color="#4853f5"/><stop offset="0.3125" stop-color="#4854f5"/><stop offset="0.3333" stop-color="#484ff2"/><stop offset="0.3542" stop-color="#4743e8"/><stop offset="0.375" stop-color="#4539d8"/><stop offset="0.3958" stop-color="#4331c8"/><stop offset="0.4167" stop-color="#412cbb"/><stop offset="0.4375" stop-color="#402ab3"/><stop offset="0.4583" stop-color="#3f29b2"/><stop offset="0.4792" stop-color="#3f29b2"/><stop offset="0.5" stop-color="#402ab4"/><stop offset="0.5208" stop-color="#402bb7"/><stop offset="0.5417" stop-color="#402bb7"/><stop offset="0.5625" stop-color="#412cb8"/><stop offset="0.5833" stop-color="#412dbb"/><stop offset="0.6042" stop-color="#412dbb"/><stop offset="0.625" stop-color="#412dbc"/><stop offset="0.6458" stop-color="#422ebe"/><stop offset="0.6667" stop-color="#412ebe"/><stop offset="0.6875" stop-color="#412ebe"/><stop offset="0.7083" stop-color="#422ebf"/><stop offset="0.7292" stop-color="#422ebe"/><stop offset="0.75" stop-color="#422ebf"/><stop offset="0.7708" stop-color="#4330c5"/><stop offset="0.7917" stop-color="#4433cd"/><stop offset="0.8125" stop-color="#4538d8"/><stop offset="0.8333" stop-color="#463cde"/><stop offset="0.8542" stop-color="#463adb"/><stop offset="0.875" stop-color="#4434d0"/><stop offset="0.8958" stop-color="#4230c3"/><stop offset="0.9167" stop-color="#402bb8"/><stop offset="0.9375" stop-color="#3f29b2"/><stop offset="0.9583" stop-color="#3f29b1"/><stop offset="0.9792" stop-color="#3f28af"/><stop offset="1" stop-color="#3f28ad"/></linearGradient><linearGradient id="r39"><stop offset="0" stop-color="#3e27ab"/><stop offset="0.0208" stop-color="#3f29b1"/><stop offset="0.0417" stop-color="#3e27aa"/><stop offset="0.0625" stop-color="#3e27ab"/><stop offset="0.0833" stop-color="#3f29b2"/><stop offset="0.1042" stop-color="#3e27aa"/><stop offset="0.125" stop-color="#3e27ab"/><stop offset="0.1458" stop-color="#3f29b2"/><stop offset="0.1667" stop-color="#3e27ac"/><stop offset="0.1875" stop-color="#402ab4"/><stop offset="0.2083" stop-color="#422fc3"/><stop offset="0.2292" stop-color="#4433cb"/><stop offset="0.25" stop-color="#463adb"/><stop offset="0.2708" stop-color="#4745e9"/><stop offset="0.2917" stop-color="#4747eb"/><stop offset="0.3125" stop-color="#4848ec"/><stop offset="0.3333" stop-color="#4746ea"/><stop offset="0.3542" stop-color="#463bdd"/><stop offset="0.375" stop-color="#4434cf"/><stop offset="0.3958" stop-color="#4331c7"/><stop offset="0.4167" stop-color="#412cb8"/><stop offset="0.4375" stop-color="#3f29b2"/><stop offset="0.4583" stop-color="#412cb8"/><stop offset="0.4792" stop-color="#402ab3"/><stop offset="0.5" stop-color="#402ab4"/><stop offset="0.5208" stop-color="#412dbc"/><stop offset="0.5417" stop-color="#402bb7"/><stop offset="0.5625" stop-color="#402bb8"/><stop offset="0.5833" stop-color="#422fc0"/><stop offset="0.6042" stop-color="#412dbb"/><stop offset="0.625" stop-color="#412dbb"/><stop offset="0.6458" stop-color="#4230c3"/><stop offset="0.6667" stop-color="#412ebe"/><stop offset="0.6875" stop-color="#412dbd"/><stop offset="0.7083" stop-color="#4230c4"/><stop offset="0.7292" stop-color="#412ebe"/><stop offset="0.75" stop-color="#412dbd"/><stop offset="0.7708" stop-color="#4331c6"/><stop offset="0.7917" stop-color="#4331c6"/><stop offset="0.8125" stop-color="#4332cb"/><stop offset="0.8333" stop-color="#4537d5"/><stop offset="0.8542" stop-color="#4434ce"/><stop offset="0.875" stop-color="#4230c4"/><stop offset="0.8958" stop-color="#422fc2"/><stop offset="0.9167" stop-color="#402bb7"/><stop offset="0.9375" stop-color="#3f29b1"/><stop offset="0.9583" stop-color="#402bb7"/><stop offset="0.9792" stop-color="#3f29b1"/><stop offset="1" stop-color="#3f28ae"/></linearGradient><linearGradient id="r40"><stop offset="0" stop-color="#3e28ac"/><stop offset="0.0208" stop-color="#402ab4"/><stop offset="0.0417" stop-color="#3e27ab"/><stop offset="0.0625" stop-color="#3e28ac"/><stop offset="0.0833" stop-color="#402ab4"/><stop offset="0.1042" stop-color="#3e27ab"/><stop offset="0.125" stop-color="#3e27ac"/><stop offset="0.1458" stop-color="#402ab4"/><stop offset="0.1667" stop-color="#3e27ab"/><stop offset="0.1875" stop-color="#3f29b1"/><stop offset="0.2083" stop-color="#422fc0"/><stop offset="0.2292" stop-color="#422fc2"/><stop offset="0.25" stop-color="#4434d0"/><stop offset="0.2708" stop-color="#463de0"/><stop offset="0.2917" stop-color="#463ddf"/><stop offset="0.3125" stop-color="#463de0"/><stop offset="0.3333" stop-color="#463ee1"/><stop offset="0.3542" stop-color="#4535d2"/><stop offset="0.375" stop-color="#4331c6"/><stop offset="0.3958" stop-color="#4230c4"/><stop offset="0.4167" stop-color="#402ab5"/><stop offset="0.4375" stop-color="#3f29b1"/><stop offset="0.4583" stop-color="#412cba"/><stop offset="0.4792" stop-color="#402ab3"/><stop offset="0.5" stop-color="#402ab4"/><stop offset="0.5208" stop-color="#412ebd"/><stop offset="0.5417" stop-color="#402bb7"/><stop offset="0.5625" stop-color="#402bb7"/><stop offset="0.5833" stop-color="#422fc1"/><stop offset="0.6042" stop-color="#412cba"/><stop offset="0.625" stop-color="#412cba"/><stop offset="0.6458" stop-color="#4230c3"/><stop offset="0.6667" stop-color="#412dbc"/><stop offset="0.6875" stop-color="#412dbb"/><stop offset="0.7083" stop-color="#4230c4"/><stop offset="0.7292" stop-color="#412dbd"/><stop offset="0.75" stop-color="#412dbb"/><stop offset="0.7708" stop-color="#4330c4"/><stop offset="0.7917" stop-color="#422ec0"/><stop offset="0.8125" stop-color="#422fc1"/><stop offset="0.8333" stop-color="#4433cc"/><stop offset="0.8542" stop-color="#4230c3"/><stop offset="0.875" stop-color="#412dbc"/><stop offset="0.8958" stop-color="#422ec0"/><stop offset="0.9167" stop-color="#402bb6"/><stop offset="0.9375" stop-color="#3f29b1"/><stop offset="0.9583" stop-color="#412cb9"/><stop offset="0.9792" stop-color="#3f29b2"/><stop offset="1" stop-color="#3f28ad"/></linearGradient><linearGradient id="r41"><stop offset="0" stop-color="#3e27aa"/><stop offset="0.0208" stop-color="#3f28ae"/><stop offset="0.0417" stop-color="#3e27a9"/><stop offset="0.0625" stop-color="#3e27aa"/><stop offset="0.0833" stop-color="#3f28ae"/><stop offset="0.1042" stop-color="#3e27a9"/><stop offset="0.125" stop-color="#3e27aa"/><stop offset="0.1458" stop-color="#3f28ae"/><stop offset="0.1667" stop-color="#3e27aa"/><stop offset="0.1875" stop-color="#3e28ad"/><stop offset="0.2083" stop-color="#402bb7"/><stop offset="0.2292" stop-color="#412cba"/><stop offset="0.25" stop-color="#4230c3"/><stop offset="0.2708" stop-color="#4435d0"/><stop offset="0.2917" stop-color="#4435d2"/><stop offset="0.3125" stop-color="#4535d2"/><stop offset="0.3333" stop-color="#4435d1"/><stop offset="0.3542" stop-color="#4330c5"/><stop offset="0.375" stop-color="#412dbc"/><stop offset="0.3958" stop-color="#412cba"/><stop offset="0.4167" stop-color="#3f29b0"/><stop offset="0.4375" stop-color="#3f28ae"/><stop offset="0.4583" stop-color="#402ab3"/><stop offset="0.4792" stop-color="#3f29b0"/><stop offset="0.5" stop-color="#3f29b1"/><stop offset="0.5208" stop-color="#402bb6"/><stop offset="0.5417" stop-color="#402ab4"/><stop offset="0.5625" stop-color="#402ab4"/><stop offset="0.5833" stop-color="#412cb9"/><stop offset="0.6042" stop-color="#402bb7"/><stop offset="0.625" stop-color="#402bb7"/><stop offset="0.6458" stop-color="#412dbc"/><stop offset="0.6667" stop-color="#412cb9"/><stop offset="0.6875" stop-color="#402bb8"/><stop offset="0.7083" stop-color="#412dbc"/><stop offset="0.7292" stop-color="#412cb9"/><stop offset="0.75" stop-color="#402bb8"/><stop offset="0.7708" stop-color="#412dbc"/><stop offset="0.7917" stop-color="#412cb9"/><stop offset="0.8125" stop-color="#412cb9"/><stop offset="0.8333" stop-color="#412ebe"/><stop offset="0.8542" stop-color="#412cba"/><stop offset="0.875" stop-color="#402bb6"/><stop offset="0.8958" stop-color="#402bb7"/><stop offset="0.9167" stop-color="#3f29b2"/><stop offset="0.9375" stop-color="#3f28af"/><stop offset="0.9583" stop-color="#4029b3"/><stop offset="0.9792" stop-color="#3f28af"/><stop offset="1" stop-color="#3e28ac"/></linearGradient><linearGradient id="r42"><stop offset="0" stop-color="#3e26a8"/><stop offset="0.0208" stop-color="#3e26a8"/><stop offset="0.0417" stop-color="#3e26a8"/><stop offset="0.0625" stop-color="#3e26a8"/><stop offset="0.0833" stop-color="#3e26a8"/><stop offset="0.1042" stop-color="#3e26a8"/><stop offset="0.125" stop-color="#3e26a8"/><stop offset="0.1458" stop-color="#3e26a8"/><stop offset="0.1667" stop-color="#3e26a8"/><stop offset="0.1875" stop-color="#3e27a9"/><stop offset="0.2083" stop-color="#3f28ae"/><stop offset="0.2292" stop-color="#402ab4"/><stop offset="0.25" stop-color="#412cba"/><stop offset="0.2708" stop-color="#422fc0"/><stop offset="0.2917" stop-color="#4230c4"/><stop offset="0.3125" stop-color="#4330c5"/><stop offset="0.3333" stop-color="#422fc1"/><stop offset="0.3542" stop-color="#412dbb"/><stop offset="0.375" stop-color="#402bb6"/><stop offset="0.3958" stop-color="#3f29b1"/><stop offset="0.4167" stop-color="#3e28ad"/><stop offset="0.4375" stop-color="#3e28ac"/><stop offset="0.4583" stop-color="#3f28ad"/><stop offset="0.4792" stop-color="#3f28ae"/><stop offset="0.5" stop-color="#3f28af"/><stop offset="0.5208" stop-color="#3f29b0"/><stop offset="0.5417" stop-color="#3f29b1"/><stop offset="0.5625" stop-color="#3f29b2"/><stop offset="0.5833" stop-color="#402ab3"/><stop offset="0.6042" stop-color="#402ab4"/><stop offset="0.625" stop-color="#402ab4"/><stop offset="0.6458" stop-color="#402ab5"/><stop offset="0.6667" stop-color="#402ab5"/><stop offset="0.6875" stop-color="#402ab5"/><stop offset="0.7083" stop-color="#402ab5"/><stop offset="0.7292" stop-color="#402ab5"/><stop offset="0.75" stop-color="#402ab5"/><stop offset="0.7708" stop-color="#402ab5"/><stop offset="0.7917" stop-color="#402ab5"/><stop offset="0.8125" stop-color="#402ab5"/><stop offset="0.8333" stop-color="#402ab5"/><stop offset="0.8542" stop-color="#402ab3"/><stop offset="0.875" stop-color="#3f29b2"/><stop offset="0.8958" stop-color="#3f29b0"/><stop offset="0.9167" stop-color="#3f28ae"/><stop offset="0.9375" stop-color="#3f28ad"/><stop offset="0.9583" stop-color="#3e28ad"/><stop offset="0.9792" stop-color="#3e27ac"/><stop offset="1" stop-color="#3e27ab"/></linearGradient><linearGradient id="r43"><stop offset="0" stop-color="#3e27aa"/><stop offset="0.0208" stop-color="#3e28ac"/><stop offset="0.0417" stop-color="#3e27a9"/><stop offset="0.0625" stop-color="#3e27aa"/><stop offset="0.0833" stop-color="#3e28ac"/><stop offset="0.1042" stop-color="#3e27a9"/><stop offset="0.125" stop-color="#3e27aa"/><stop offset="0.1458" stop-color="#3e28ac"/><stop offset="0.1667" stop-color="#3e27a9"/><stop offset="0.1875" stop-color="#3e27aa"/><stop offset="0.2083" stop-color="#3f28af"/><stop offset="0.2292" stop-color="#3f29b0"/><stop offset="0.25" stop-color="#402bb6"/><stop offset="0.2708" stop-color="#412dbc"/><stop offset="0.2917" stop-color="#412dbc"/><stop offset="0.3125" stop-color="#412dbc"/><stop offset="0.3333" stop-color="#412dbd"/><stop offset="0.3542" stop-color="#402bb7"/><stop offset="0.375" stop-color="#4029b3"/><stop offset="0.3958" stop-color="#3f29b1"/><stop offset="0.4167" stop-color="#3e28ac"/><stop offset="0.4375" stop-color="#3f28ad"/><stop offset="0.4583" stop-color="#3f29b1"/><stop offset="0.4792" stop-color="#3f28ae"/><stop offset="0.5" stop-color="#3f28af"/><stop offset="0.5208" stop-color="#402ab3"/><stop offset="0.5417" stop-color="#3f29b1"/><stop offset="0.5625" stop-color="#3f29b1"/><stop offset="0.5833" stop-color="#402ab5"/><stop offset="0.6042" stop-color="#402ab3"/><stop offset="0.625" stop-color="#402ab3"/><stop offset="0.6458" stop-color="#402bb7"/><stop offset="0.6667" stop-color="#402ab5"/><stop offset="0.6875" stop-color="#402ab4"/><stop offset="0.7083" stop-color="#402bb7"/><stop offset="0.7292" stop-color="#402ab5"/><stop offset="0.75" stop-color="#402ab4"/><stop offset="0.7708" stop-color="#402bb7"/><stop offset="0.7917" stop-color="#402ab4"/><stop offset="0.8125" stop-color="#402ab3"/><stop offset="0.8333" stop-color="#402ab5"/><stop offset="0.8542" stop-color="#3f29b2"/><stop offset="0.875" stop-color="#3f29b0"/><stop offset="0.8958" stop-color="#3f29b2"/><stop offset="0.9167" stop-color="#3f28af"/><stop offset="0.9375" stop-color="#3f28ad"/><stop offset="0.9583" stop-color="#3f29b0"/><stop offset="0.9792" stop-color="#3f28ad"/><stop offset="1" stop-color="#3e27ab"/></linearGradient><linearGradient id="r44"><stop offset="0" stop-color="#3e28ac"/><stop offset="0.0208" stop-color="#402ab3"/><stop offset="0.0417" stop-color="#3e27aa"/><stop offset="0.0625" stop-color="#3e27ac"/><stop offset="0.0833" stop-color="#402ab4"/><stop offset="0.1042" stop-color="#3e27ab"/><stop offset="0.125" stop-color="#3e27ac"/><stop offset="0.1458" stop-color="#402ab4"/><stop offset="0.1667" stop-color="#3e27ab"/><stop offset="0.1875" stop-color="#3e27ac"/><stop offset="0.2083" stop-color="#402ab4"/><stop offset="0.2292" stop-color="#3f28ae"/><stop offset="0.25" stop-color="#402ab3"/><stop offset="0.2708" stop-color="#412ebe"/><stop offset="0.2917" stop-color="#402bb8"/><stop offset="0.3125" stop-color="#402cb8"/><stop offset="0.3333" stop-color="#422ebe"/><stop offset="0.3542" stop-color="#402ab4"/><stop offset="0.375" stop-color="#3f29b0"/><stop offset="0.3958" stop-color="#402bb6"/><stop offset="0.4167" stop-color="#3f28ae"/><stop offset="0.4375" stop-color="#3f28ae"/><stop offset="0.4583" stop-color="#402bb7"/><stop offset="0.4792" stop-color="#3f29b0"/><stop offset="0.5" stop-color="#3f29b0"/><stop offset="0.5208" stop-color="#412cb9"/><stop offset="0.5417" stop-color="#3f29b2"/><stop offset="0.5625" stop-color="#3f29b2"/><stop offset="0.5833" stop-color="#412cbb"/><stop offset="0.6042" stop-color="#402ab4"/><stop offset="0.625" stop-color="#402ab3"/><stop offset="0.6458" stop-color="#412dbc"/><stop offset="0.6667" stop-color="#402ab5"/><stop offset="0.6875" stop-color="#402ab4"/><stop offset="0.7083" stop-color="#412dbc"/><stop offset="0.7292" stop-color="#402bb6"/><stop offset="0.75" stop-color="#402ab4"/><stop offset="0.7708" stop-color="#412dbc"/><stop offset="0.7917" stop-color="#402ab5"/><stop offset="0.8125" stop-color="#3f29b2"/><stop offset="0.8333" stop-color="#412cba"/><stop offset="0.8542" stop-color="#402ab3"/><stop offset="0.875" stop-color="#3f29b0"/><stop offset="0.8958" stop-color="#402bb8"/><stop offset="0.9167" stop-color="#3f29b1"/><stop offset="0.9375" stop-color="#3f28ae"/><stop offset="0.9583" stop-color="#402bb6"/><stop offset="0.9792" stop-color="#3f29af"/><stop offset="1" stop-color="#3e27ac"/></linearGradient><linearGradient id="r45"><stop offset="0" stop-color="#3e27ac"/><stop offset="0.0208" stop-color="#402ab3"/><stop offset="0.0417" stop-color="#3e27aa"/><stop offset="0.0625" stop-color="#3e27ac"/><stop offset="0.0833" stop-color="#402ab3"/><stop offset="0.1042" stop-color="#3e27aa"/><stop offset="0.125" stop-color="#3e27ac"/><stop offset="0.1458" stop-color="#402ab3"/><stop offset="0.1667" stop-color="#3e27ab"/><stop offset="0.1875" stop-color="#3e27ab"/><stop offset="0.2083" stop-color="#402ab3"/><stop offset="0.2292" stop-color="#3e27ac"/><stop offset="0.25" stop-color="#3f28af"/><stop offset="0.2708" stop-color="#412cb9"/><stop offset="0.2917" stop-color="#402ab3"/><stop offset="0.3125" stop-color="#402ab3"/><stop offset="0.3333" stop-color="#412cb9"/><stop offset="0.3542" stop-color="#3f29b0"/><stop offset="0.375" stop-color="#3f28ad"/><stop offset="0.3958" stop-color="#402ab4"/><stop offset="0.4167" stop-color="#3f28ad"/><stop offset="0.4375" stop-color="#3f28ad"/><stop offset="0.4583" stop-color="#402bb6"/><stop offset="0.4792" stop-color="#3f28af"/><stop offset="0.5" stop-color="#3f28af"/><stop offset="0.5208" stop-color="#402bb7"/><stop offset="0.5417" stop-color="#3f29b1"/><stop offset="0.5625" stop-color="#3f29b0"/><stop offset="0.5833" stop-color="#412cb9"/><stop offset="0.6042" stop-color="#4029b3"/><stop offset="0.625" stop-color="#3f29b2"/><stop offset="0.6458" stop-color="#412cba"/><stop offset="0.6667" stop-color="#402ab4"/><stop offset="0.6875" stop-color="#4029b2"/><stop offset="0.7083" stop-color="#412cba"/><stop offset="0.7292" stop-color="#402ab4"/><stop offset="0.75" stop-color="#3f29b2"/><stop offset="0.7708" stop-color="#412cba"/><stop offset="0.7917" stop-color="#402ab3"/><stop offset="0.8125" stop-color="#3f29b1"/><stop offset="0.8333" stop-color="#412cb8"/><stop offset="0.8542" stop-color="#3f29b2"/><stop offset="0.875" stop-color="#3f28af"/><stop offset="0.8958" stop-color="#402bb7"/><stop offset="0.9167" stop-color="#3f29b0"/><stop offset="0.9375" stop-color="#3f28ad"/><stop offset="0.9583" stop-color="#402ab5"/><stop offset="0.9792" stop-color="#3f28af"/><stop offset="1" stop-color="#3e27ab"/></linearGradient><linearGradient id="r46"><stop offset="0" stop-color="#3e27a9"/><stop offset="0.0208" stop-color="#3e27ab"/><stop offset="0.0417" stop-color="#3e27a9"/><stop offset="0.0625" stop-color="#3e27a9"/><stop offset="0.0833" stop-color="#3e27ab"/><stop offset="0.1042" stop-color="#3e27a9"/><stop offset="0.125" stop-color="#3e27a9"/><stop offset="0.1458" stop-color="#3e27ab"/><stop offset="0.1667" stop-color="#3e27a9"/><stop offset="0.1875" stop-color="#3e27a9"/><stop offset="0.2083" stop-color="#3e27ab"/><stop offset="0.2292" stop-color="#3e27a9"/><stop offset="0.25" stop-color="#3e27aa"/><stop offset="0.2708" stop-color="#3f28ae"/><stop offset="0.2917" stop-color="#3f28ad"/><stop offset="0.3125" stop-color="#3f28ad"/><stop offset="0.3333" stop-color="#3f28ae"/><stop offset="0.3542" stop-color="#3e27ab"/><stop offset="0.375" stop-color="#3e27aa"/><stop offset="0.3958" stop-color="#3e28ad"/><stop offset="0.4167" stop-color="#3e27ab"/><stop offset="0.4375" stop-color="#3e27ab"/><stop offset="0.4583" stop-color="#3f28ae"/><stop offset="0.4792" stop-color="#3e28ac"/><stop offset="0.5" stop-color="#3e28ac"/><stop offset="0.5208" stop-color="#3f29b0"/><stop offset="0.5417" stop-color="#3f28af"/><stop offset="0.5625" stop-color="#3f29b0"/><stop offset="0.5833" stop-color="#402ab3"/><stop offset="0.6042" stop-color="#3f29b1"/><stop offset="0.625" stop-color="#3f29b1"/><stop offset="0.6458" stop-color="#402ab3"/><stop offset="0.6667" stop-color="#3f29b1"/><stop offset="0.6875" stop-color="#3f29b0"/><stop offset="0.7083" stop-color="#3f29b2"/><stop offset="0.7292" stop-color="#3f29b0"/><stop offset="0.75" stop-color="#3f29af"/><stop offset="0.7708" stop-color="#3f29b2"/><stop offset="0.7917" stop-color="#3f29af"/><stop offset="0.8125" stop-color="#3f28ae"/><stop offset="0.8333" stop-color="#3f29b0"/><stop offset="0.8542" stop-color="#3f28ae"/><stop offset="0.875" stop-color="#3f28ad"/><stop offset="0.8958" stop-color="#3f28af"/><stop offset="0.9167" stop-color="#3e28ad"/><stop offset="0.9375" stop-color="#3e27ab"/><stop offset="0.9583" stop-color="#3f28ad"/><stop offset="0.9792" stop-color="#3e27ab"/><stop offset="1" stop-color="#3e27aa"/></linearGradient><linearGradient id="r47"><stop offset="0" stop-color="#3e26a9"/><stop offset="0.0208" stop-color="#3e26a9"/><stop offset="0.0417" stop-color="#3e26a8"/><stop offset="0.0625" stop-color="#3e26a8"/><stop offset="0.0833" stop-color="#3e26a9"/><stop offset="0.1042" stop-color="#3e26a8"/><stop offset="0.125" stop-color="#3e26a9"/><stop offset="0.1458" stop-color="#3e26a9"/><stop offset="0.1667" stop-color="#3e26a8"/><stop offset="0.1875" stop-color="#3e26a9"/><stop offset="0.2083" stop-color="#3e26a9"/><stop offset="0.2292" stop-color="#3e26a9"/><stop offset="0.25" stop-color="#3e26a9"/><stop offset="0.2708" stop-color="#3e27a9"/><stop offset="0.2917" stop-color="#3e27aa"/><stop offset="0.3125" stop-color="#3e27aa"/><stop offset="0.3333" stop-color="#3e27aa"/><stop offset="0.3542" stop-color="#3e27a9"/><stop offset="0.375" stop-color="#3e27a9"/><stop offset="0.3958" stop-color="#3e27aa"/><stop offset="0.4167" stop-color="#3e27aa"/><stop offset="0.4375" stop-color="#3e27aa"/><stop offset="0.4583" stop-color="#3e27ac"/><stop offset="0.4792" stop-color="#3f28ae"/><stop offset="0.5" stop-color="#3f29b1"/><stop offset="0.5208" stop-color="#402ab4"/><stop offset="0.5417" stop-color="#402bb6"/><stop offset="0.5625" stop-color="#402bb7"/><stop offset="0.5833" stop-color="#412cb9"/><stop offset="0.6042" stop-color="#412cb9"/><stop offset="0.625" stop-color="#412cb9"/><stop offset="0.6458" stop-color="#412cb9"/><stop offset="0.6667" stop-color="#402bb7"/><stop offset="0.6875" stop-color="#402ab6"/><stop offset="0.7083" stop-color="#402ab4"/><stop offset="0.7292" stop-color="#3f29b1"/><stop offset="0.75" stop-color="#3f28af"/><stop offset="0.7708" stop-color="#3f28ae"/><stop offset="0.7917" stop-color="#3f28ae"/><stop offset="0.8125" stop-color="#3f28ad"/><stop offset="0.8333" stop-color="#3f28ad"/><stop offset="0.8542" stop-color="#3e28ac"/><stop offset="0.875" stop-color="#3e27ac"/><stop offset="0.8958" stop-color="#3e27ac"/><stop offset="0.9167" stop-color="#3e27ab"/><stop offset="0.9375" stop-color="#3e27ab"/><stop offset="0.9583" stop-color="#3e27ab"/><stop offset="0.9792" stop-color="#3e27aa"/><stop offset="1" stop-color="#3e27aa"/></linearGradient><linearGradient id="r48"><stop offset="0" stop-color="#3e27ab"/><stop offset="0.0208" stop-color="#3f28af"/><stop offset="0.0417" stop-color="#3e27aa"/><stop offset="0.0625" stop-color="#3e27ab"/><stop offset="0.0833" stop-color="#3f28af"/><stop offset="0.1042" stop-color="#3e27aa"/><stop offset="0.125" stop-color="#3e27aa"/><stop offset="0.1458" stop-color="#3f28af"/><stop offset="0.1667" stop-color="#3e27aa"/><stop offset="0.1875" stop-color="#3e27aa"/><stop offset="0.2083" stop-color="#3f28af"/><stop offset="0.2292" stop-color="#3e27aa"/><stop offset="0.25" stop-color="#3e27aa"/><stop offset="0.2708" stop-color="#3f29af"/><stop offset="0.2917" stop-color="#3e27aa"/><stop offset="0.3125" stop-color="#3e27ab"/><stop offset="0.3333" stop-color="#3f29b0"/><stop offset="0.3542" stop-color="#3e27ab"/><stop offset="0.375" stop-color="#3e27ab"/><stop offset="0.3958" stop-color="#3f29b0"/><stop offset="0.4167" stop-color="#3f28ad"/><stop offset="0.4375" stop-color="#3f29b1"/><stop offset="0.4583" stop-color="#412cba"/><stop offset="0.4792" stop-color="#412cb9"/><stop offset="0.5" stop-color="#412dbc"/><stop offset="0.5208" stop-color="#4331c6"/><stop offset="0.5417" stop-color="#4331c6"/><stop offset="0.5625" stop-color="#4332ca"/><stop offset="0.5833" stop-color="#4435d1"/><stop offset="0.6042" stop-color="#4434ce"/><stop offset="0.625" stop-color="#4433cc"/><stop offset="0.6458" stop-color="#4434cf"/><stop offset="0.6667" stop-color="#4331c7"/><stop offset="0.6875" stop-color="#422fc2"/><stop offset="0.7083" stop-color="#4230c3"/><stop offset="0.7292" stop-color="#412dbb"/><stop offset="0.75" stop-color="#402bb7"/><stop offset="0.7708" stop-color="#402bb8"/><stop offset="0.7917" stop-color="#3f29b1"/><stop offset="0.8125" stop-color="#3f28ad"/><stop offset="0.8333" stop-color="#402ab3"/><stop offset="0.8542" stop-color="#3f28ae"/><stop offset="0.875" stop-color="#3e28ac"/><stop offset="0.8958" stop-color="#3f29b2"/><stop offset="0.9167" stop-color="#3f28ad"/><stop offset="0.9375" stop-color="#3e27ab"/><stop offset="0.9583" stop-color="#3f29b1"/><stop offset="0.9792" stop-color="#3e28ac"/><stop offset="1" stop-color="#3e27aa"/></linearGradient><linearGradient id="r49"><stop offset="0" stop-color="#3e28ac"/><stop offset="0.0208" stop-color="#402ab4"/><stop offset="0.0417" stop-color="#3e27ab"/><stop offset="0.0625" stop-color="#3e28ac"/><stop offset="0.0833" stop-color="#402ab4"/><stop offset="0.1042" stop-color="#3e27ab"/><stop offset="0.125" stop-color="#3e28ac"/><stop offset="0.1458" stop-color="#402ab4"/><stop offset="0.1667" stop-color="#3e27ab"/><stop offset="0.1875" stop-color="#3e27ac"/><stop offset="0.2083" stop-color="#402ab5"/><stop offset="0.2292" stop-color="#3e27ab"/><stop offset="0.25" stop-color="#3e27ac"/><stop offset="0.2708" stop-color="#402ab5"/><stop offset="0.2917" stop-color="#3e27ab"/><stop offset="0.3125" stop-color="#3e27ac"/><stop offset="0.3333" stop-color="#402ab5"/><stop offset="0.3542" stop-color="#3e27ac"/><stop offset="0.375" stop-color="#3f28ad"/><stop offset="0.3958" stop-color="#412cba"/><stop offset="0.4167" stop-color="#402bb6"/><stop offset="0.4375" stop-color="#412dbb"/><stop offset="0.4583" stop-color="#4332cb"/><stop offset="0.4792" stop-color="#4433cc"/><stop offset="0.5" stop-color="#4537d5"/><stop offset="0.5208" stop-color="#473fe3"/><stop offset="0.5417" stop-color="#4740e4"/><stop offset="0.5625" stop-color="#4744e8"/><stop offset="0.5833" stop-color="#484cef"/><stop offset="0.6042" stop-color="#4849ed"/><stop offset="0.625" stop-color="#4747eb"/><stop offset="0.6458" stop-color="#4849ed"/><stop offset="0.6667" stop-color="#4741e4"/><stop offset="0.6875" stop-color="#463bdd"/><stop offset="0.7083" stop-color="#463bdc"/><stop offset="0.7292" stop-color="#4434cd"/><stop offset="0.75" stop-color="#422fc3"/><stop offset="0.7708" stop-color="#4330c5"/><stop offset="0.7917" stop-color="#412cb9"/><stop offset="0.8125" stop-color="#3f29b2"/><stop offset="0.8333" stop-color="#402bb8"/><stop offset="0.8542" stop-color="#3f29b0"/><stop offset="0.875" stop-color="#3e28ac"/><stop offset="0.8958" stop-color="#402bb6"/><stop offset="0.9167" stop-color="#3f28af"/><stop offset="0.9375" stop-color="#3e27ab"/><stop offset="0.9583" stop-color="#402ab5"/><stop offset="0.9792" stop-color="#3f28ae"/><stop offset="1" stop-color="#3e27ab"/></linearGradient><linearGradient id="r50"><stop offset="0" stop-color="#3e27ab"/><stop offset="0.0208" stop-color="#3f29b0"/><stop offset="0.0417" stop-color="#3e27aa"/><stop offset="0.0625" stop-color="#3e27ab"/><stop offset="0.0833" stop-color="#3f29b0"/><stop offset="0.1042" stop-color="#3e27aa"/><stop offset="0.125" stop-color="#3e27ab"/><stop offset="0.1458" stop-color="#3f29b0"/><stop offset="0.1667" stop-color="#3e27aa"/><stop offset="0.1875" stop-color="#3e27ab"/><stop offset="0.2083" stop-color="#3f29b0"/><stop offset="0.2292" stop-color="#3e27aa"/><stop offset="0.25" stop-color="#3e27ab"/><stop offset="0.2708" stop-color="#3f29b0"/><stop offset="0.2917" stop-color="#3e27aa"/><stop offset="0.3125" stop-color="#3e27ab"/><stop offset="0.3333" stop-color="#3f29b1"/><stop offset="0.3542" stop-color="#3f28ad"/><stop offset="0.375" stop-color="#3f29b2"/><stop offset="0.3958" stop-color="#412ebe"/><stop offset="0.4167" stop-color="#422fc0"/><stop offset="0.4375" stop-color="#4433cd"/><stop offset="0.4583" stop-color="#463cde"/><stop offset="0.4792" stop-color="#4743e7"/><stop offset="0.5" stop-color="#484ff2"/><stop offset="0.5208" stop-color="#465dfb"/><stop offset="0.5417" stop-color="#4465fd"/><stop offset="0.5625" stop-color="#3f6eff"/><stop offset="0.5833" stop-color="#3678fe"/><stop offset="0.6042" stop-color="#3777fe"/><stop offset="0.625" stop-color="#3a74fe"/><stop offset="0.6458" stop-color="#3d71ff"/><stop offset="0.6667" stop-color="#4464fd"/><stop offset="0.6875" stop-color="#475af9"/><stop offset="0.7083" stop-color="#4851f3"/><stop offset="0.7292" stop-color="#4743e7"/><stop offset="0.75" stop-color="#4639da"/><stop offset="0.7708" stop-color="#4535d2"/><stop offset="0.7917" stop-color="#422fc2"/><stop offset="0.8125" stop-color="#412cb9"/><stop offset="0.8333" stop-color="#412cb9"/><stop offset="0.8542" stop-color="#3f29af"/><stop offset="0.875" stop-color="#3e27ab"/><stop offset="0.8958" stop-color="#3f29b2"/><stop offset="0.9167" stop-color="#3f28ad"/><stop offset="0.9375" stop-color="#3e27ab"/><stop offset="0.9583" stop-color="#3f29b1"/><stop offset="0.9792" stop-color="#3e28ac"/><stop offset="1" stop-color="#3e27aa"/></linearGradient><linearGradient id="r51"><stop offset="0" stop-color="#3e26a9"/><stop offset="0.0208" stop-color="#3e27a9"/><stop offset="0.0417" stop-color="#3e26a9"/><stop offset="0.0625" stop-color="#3e26a9"/><stop offset="0.0833" stop-color="#3e27a9"/><stop offset="0.1042" stop-color="#3e26a9"/><stop offset="0.125" stop-color="#3e26a9"/><stop offset="0.1458" stop-color="#3e27a9"/><stop offset="0.1667" stop-color="#3e26a9"/><stop offset="0.1875" stop-color="#3e26a9"/><stop offset="0.2083" stop-color="#3e27a9"/><stop offset="0.2292" stop-color="#3e26a9"/><stop offset="0.25" stop-color="#3e26a9"/><stop offset="0.2708" stop-color="#3e27a9"/><stop offset="0.2917" stop-color="#3e26a9"/><stop offset="0.3125" stop-color="#3e26a9"/><stop offset="0.3333" stop-color="#3e28ac"/><stop offset="0.3542" stop-color="#3f29b1"/><stop offset="0.375" stop-color="#412cb9"/><stop offset="0.3958" stop-color="#4330c5"/><stop offset="0.4167" stop-color="#4536d5"/><stop offset="0.4375" stop-color="#4742e6"/><stop offset="0.4583" stop-color="#4853f5"/><stop offset="0.4792" stop-color="#4465fd"/><stop offset="0.5" stop-color="#327cfc"/><stop offset="0.5208" stop-color="#2b90ef"/><stop offset="0.5417" stop-color="#249ee6"/><stop offset="0.5625" stop-color="#1ea7e1"/><stop offset="0.5833" stop-color="#1aacdd"/><stop offset="0.6042" stop-color="#19addc"/><stop offset="0.625" stop-color="#1aabdd"/><stop offset="0.6458" stop-color="#1ea7e1"/><stop offset="0.6667" stop-color="#249de6"/><stop offset="0.6875" stop-color="#2c8ff1"/><stop offset="0.7083" stop-color="#337bfd"/><stop offset="0.7292" stop-color="#4564fd"/><stop offset="0.75" stop-color="#4851f4"/><stop offset="0.7708" stop-color="#4741e5"/><stop offset="0.7917" stop-color="#4536d4"/><stop offset="0.8125" stop-color="#4230c4"/><stop offset="0.8333" stop-color="#412cba"/><stop offset="0.8542" stop-color="#3f29b2"/><stop offset="0.875" stop-color="#3e28ac"/><stop offset="0.8958" stop-color="#3e27ab"/><stop offset="0.9167" stop-color="#3e27aa"/><stop offset="0.9375" stop-color="#3e27a9"/><stop offset="0.9583" stop-color="#3e27aa"/><stop offset="0.9792" stop-color="#3e27a9"/><stop offset="1" stop-color="#3e27a9"/></linearGradient><linearGradient id="r52"><stop offset="0" stop-color="#3e27a9"/><stop offset="0.0208" stop-color="#3e27aa"/><stop offset="0.0417" stop-color="#3e26a9"/><stop offset="0.0625" stop-color="#3e27a9"/><stop offset="0.0833" stop-color="#3e27aa"/><stop offset="0.1042" stop-color="#3e26a9"/><stop offset="0.125" stop-color="#3e27a9"/><stop offset="0.1458" stop-color="#3e27aa"/><stop offset="0.1667" stop-color="#3e26a9"/><stop offset="0.1875" stop-color="#3e27a9"/><stop offset="0.2083" stop-color="#3e27aa"/><stop offset="0.2292" stop-color="#3e26a9"/><stop offset="0.25" stop-color="#3e27a9"/><stop offset="0.2708" stop-color="#3e27aa"/><stop offset="0.2917" stop-color="#3e27a9"/><stop offset="0.3125" stop-color="#3e27ab"/><stop offset="0.3333" stop-color="#402ab3"/><stop offset="0.3542" stop-color="#412cb9"/><stop offset="0.375" stop-color="#4331c7"/><stop offset="0.3958" stop-color="#463ada"/><stop offset="0.4167" stop-color="#4849ed"/><stop offset="0.4375" stop-color="#465ffb"/><stop offset="0.4583" stop-color="#317efb"/><stop offset="0.4792" stop-color="#2699e9"/><stop offset="0.5" stop-color="#19acdc"/><stop offset="0.5208" stop-color="#05b6ce"/><stop offset="0.5417" stop-color="#02bac4"/><stop offset="0.5625" stop-color="#0abdbd"/><stop offset="0.5833" stop-color="#14beb8"/><stop offset="0.6042" stop-color="#15bfb8"/><stop offset="0.625" stop-color="#12beb9"/><stop offset="0.6458" stop-color="#0bbdbd"/><stop offset="0.6667" stop-color="#02bac5"/><stop offset="0.6875" stop-color="#07b5d0"/><stop offset="0.7083" stop-color="#1aabdd"/><stop offset="0.7292" stop-color="#2797eb"/><stop offset="0.75" stop-color="#337afd"/><stop offset="0.7708" stop-color="#465efb"/><stop offset="0.7917" stop-color="#4848ec"/><stop offset="0.8125" stop-color="#4538d8"/><stop offset="0.8333" stop-color="#4331c7"/><stop offset="0.8542" stop-color="#412cb9"/><stop offset="0.875" stop-color="#3f29b2"/><stop offset="0.8958" stop-color="#3f28ad"/><stop offset="0.9167" stop-color="#3e27aa"/><stop offset="0.9375" stop-color="#3e27a9"/><stop offset="0.9583" stop-color="#3e27ab"/><stop offset="0.9792" stop-color="#3e27aa"/><stop offset="1" stop-color="#3e27a9"/></linearGradient><linearGradient id="r53"><stop offset="0" stop-color="#3e27ac"/><stop offset="0.0208" stop-color="#3f29b2"/><stop offset="0.0417" stop-color="#3e27aa"/><stop offset="0.0625" stop-color="#3e27ab"/><stop offset="0.0833" stop-color="#3f29b2"/><stop offset="0.1042" stop-color="#3e27aa"/><stop offset="0.125" stop-color="#3e27ab"/><stop offset="0.1458" stop-color="#3f29b2"/><stop offset="0.1667" stop-color="#3e27aa"/><stop offset="0.1875" stop-color="#3e27ab"/><stop offset="0.2083" stop-color="#3f29b2"/><stop offset="0.2292" stop-color="#3e27aa"/><stop offset="0.25" stop-color="#3e27ab"/><stop offset="0.2708" stop-color="#3f29b2"/><stop offset="0.2917" stop-color="#3e27ac"/><stop offset="0.3125" stop-color="#3f29b2"/><stop offset="0.3333" stop-color="#422fc0"/><stop offset="0.3542" stop-color="#4331c7"/><stop offset="0.375" stop-color="#463adb"/><stop offset="0.3958" stop-color="#4850f2"/><stop offset="0.4167" stop-color="#4367fd"/><stop offset="0.4375" stop-color="#2d8bf3"/><stop offset="0.4583" stop-color="#1babde"/><stop offset="0.4792" stop-color="#04b6cc"/><stop offset="0.5" stop-color="#0bbdbc"/><stop offset="0.5208" stop-color="#28c2ab"/><stop offset="0.5417" stop-color="#2ec4a5"/><stop offset="0.5625" stop-color="#33c79d"/><stop offset="0.5833" stop-color="#3cc991"/><stop offset="0.6042" stop-color="#39c994"/><stop offset="0.625" stop-color="#37c898"/><stop offset="0.6458" stop-color="#36c898"/><stop offset="0.6667" stop-color="#2dc4a5"/><stop offset="0.6875" stop-color="#20c1b1"/><stop offset="0.7083" stop-color="#11beb9"/><stop offset="0.7292" stop-color="#05b6ce"/><stop offset="0.75" stop-color="#1fa6e2"/><stop offset="0.7708" stop-color="#2d8bf4"/><stop offset="0.7917" stop-color="#4464fd"/><stop offset="0.8125" stop-color="#484aee"/><stop offset="0.8333" stop-color="#463cde"/><stop offset="0.8542" stop-color="#4331c7"/><stop offset="0.875" stop-color="#412cb8"/><stop offset="0.8958" stop-color="#402cb8"/><stop offset="0.9167" stop-color="#3f28ae"/><stop offset="0.9375" stop-color="#3e27aa"/><stop offset="0.9583" stop-color="#3f29b2"/><stop offset="0.9792" stop-color="#3f28ad"/><stop offset="1" stop-color="#3e27aa"/></linearGradient><linearGradient id="r54"><stop offset="0" stop-color="#3e28ac"/><stop offset="0.0208" stop-color="#402ab4"/><stop offset="0.0417" stop-color="#3e27aa"/><stop offset="0.0625" stop-color="#3e28ac"/><stop offset="0.0833" stop-color="#402ab4"/><stop offset="0.1042" stop-color="#3e27ab"/><stop offset="0.125" stop-color="#3e27ac"/><stop offset="0.1458" stop-color="#402ab4"/><stop offset="0.1667" stop-color="#3e27ab"/><stop offset="0.1875" stop-color="#3e27ac"/><stop offset="0.2083" stop-color="#402ab4"/><stop offset="0.2292" stop-color="#3e27ab"/><stop offset="0.25" stop-color="#3e27ac"/><stop offset="0.2708" stop-color="#402ab4"/><stop offset="0.2917" stop-color="#3f28af"/><stop offset="0.3125" stop-color="#402bb7"/><stop offset="0.3333" stop-color="#4332ca"/><stop offset="0.3542" stop-color="#4537d6"/><stop offset="0.375" stop-color="#4849ed"/><stop offset="0.3958" stop-color="#4369fe"/><stop offset="0.4167" stop-color="#2d8df2"/><stop offset="0.4375" stop-color="#19acdc"/><stop offset="0.4583" stop-color="#06bcc0"/><stop offset="0.4792" stop-color="#1ec0b2"/><stop offset="0.5" stop-color="#2fc5a2"/><stop offset="0.5208" stop-color="#44ca8a"/><stop offset="0.5417" stop-color="#4fcc81"/><stop offset="0.5625" stop-color="#5dcc75"/><stop offset="0.5833" stop-color="#72cd64"/><stop offset="0.6042" stop-color="#6ccd68"/><stop offset="0.625" stop-color="#66cd6d"/><stop offset="0.6458" stop-color="#66cd6d"/><stop offset="0.6667" stop-color="#4ecc81"/><stop offset="0.6875" stop-color="#3bc993"/><stop offset="0.7083" stop-color="#33c69e"/><stop offset="0.7292" stop-color="#1cc0b3"/><stop offset="0.75" stop-color="#01b9c8"/><stop offset="0.7708" stop-color="#19addc"/><stop offset="0.7917" stop-color="#2d89f5"/><stop offset="0.8125" stop-color="#4661fc"/><stop offset="0.8333" stop-color="#484bee"/><stop offset="0.8542" stop-color="#4537d6"/><stop offset="0.875" stop-color="#422ec0"/><stop offset="0.8958" stop-color="#422ebf"/><stop offset="0.9167" stop-color="#3f29b1"/><stop offset="0.9375" stop-color="#3e27aa"/><stop offset="0.9583" stop-color="#402ab4"/><stop offset="0.9792" stop-color="#3f28ad"/><stop offset="1" stop-color="#3e27aa"/></linearGradient><linearGradient id="r55"><stop offset="0" stop-color="#3e27aa"/><stop offset="0.0208" stop-color="#3f28ad"/><stop offset="0.0417" stop-color="#3e27a9"/><stop offset="0.0625" stop-color="#3e27aa"/><stop offset="0.0833" stop-color="#3f28ad"/><stop offset="0.1042" stop-color="#3e27a9"/><stop offset="0.125" stop-color="#3e27aa"/><stop offset="0.1458" stop-color="#3f28ad"/><stop offset="0.1667" stop-color="#3e27a9"/><stop offset="0.1875" stop-color="#3e27aa"/><stop offset="0.2083" stop-color="#3f28ad"/><stop offset="0.2292" stop-color="#3e27aa"/><stop offset="0.25" stop-color="#3e27aa"/><stop offset="0.2708" stop-color="#3f28af"/><stop offset="0.2917" stop-color="#3f29b1"/><stop offset="0.3125" stop-color="#412cba"/><stop offset="0.3333" stop-color="#4434ce"/><stop offset="0.3542" stop-color="#473fe3"/><stop offset="0.375" stop-color="#475af9"/><stop offset="0.3958" stop-color="#2e83f9"/><stop offset="0.4167" stop-color="#1ea8e1"/><stop offset="0.4375" stop-color="#01b9c7"/><stop offset="0.4583" stop-color="#22c1b0"/><stop offset="0.4792" stop-color="#33c69e"/><stop offset="0.5" stop-color="#47cb87"/><stop offset="0.5208" stop-color="#68cd6c"/><stop offset="0.5417" stop-color="#7fcc5a"/><stop offset="0.5625" stop-color="#94c949"/><stop offset="0.5833" stop-color="#a6c33b"/><stop offset="0.6042" stop-color="#a7c23b"/><stop offset="0.625" stop-color="#a1c43f"/><stop offset="0.6458" stop-color="#97c847"/><stop offset="0.6667" stop-color="#7dcc5c"/><stop offset="0.6875" stop-color="#60cd72"/><stop offset="0.7083" stop-color="#49cb86"/><stop offset="0.7292" stop-color="#31c69f"/><stop offset="0.75" stop-color="#1bc0b4"/><stop offset="0.7708" stop-color="#01b9c8"/><stop offset="0.7917" stop-color="#20a5e3"/><stop offset="0.8125" stop-color="#317dfc"/><stop offset="0.8333" stop-color="#4758f8"/><stop offset="0.8542" stop-color="#463ee1"/><stop offset="0.875" stop-color="#4332c9"/><stop offset="0.8958" stop-color="#412dbd"/><stop offset="0.9167" stop-color="#3f29b1"/><stop offset="0.9375" stop-color="#3e27aa"/><stop offset="0.9583" stop-color="#3f28ae"/><stop offset="0.9792" stop-color="#3e27ab"/><stop offset="1" stop-color="#3e27a9"/></linearGradient><linearGradient id="r56"><stop offset="0" stop-color="#3e26a8"/><stop offset="0.0208" stop-color="#3e26a8"/><stop offset="0.0417" stop-color="#3e26a8"/><stop offset="0.0625" stop-color="#3e26a8"/><stop offset="0.0833" stop-color="#3e26a8"/><stop offset="0.1042" stop-color="#3e26a8"/><stop offset="0.125" stop-color="#3e26a8"/><stop offset="0.1458" stop-color="#3e26a8"/><stop offset="0.1667" stop-color="#3e26a8"/><stop offset="0.1875" stop-color="#3e26a8"/><stop offset="0.2083" stop-color="#3e26a8"/><stop offset="0.2292" stop-color="#3e26a8"/><stop offset="0.25" stop-color="#3e26a8"/><stop offset="0.2708" stop-color="#3e27ab"/><stop offset="0.2917" stop-color="#402ab3"/><stop offset="0.3125" stop-color="#412ebe"/><stop offset="0.3333" stop-color="#4536d4"/><stop offset="0.3542" stop-color="#484aed"/><stop offset="0.375" stop-color="#426afe"/><stop offset="0.3958" stop-color="#2798ea"/><stop offset="0.4167" stop-color="#0ab4d1"/><stop offset="0.4375" stop-color="#13beb9"/><stop offset="0.4583" stop-color="#2fc5a2"/><stop offset="0.4792" stop-color="#46cb88"/><stop offset="0.5" stop-color="#68cd6b"/><stop offset="0.5208" stop-color="#8eca4e"/><stop offset="0.5417" stop-color="#afbf35"/><stop offset="0.5625" stop-color="#c8b528"/><stop offset="0.5833" stop-color="#d6ae29"/><stop offset="0.6042" stop-color="#daac2b"/><stop offset="0.625" stop-color="#d5af29"/><stop offset="0.6458" stop-color="#c6b629"/><stop offset="0.6667" stop-color="#acc037"/><stop offset="0.6875" stop-color="#8bcb51"/><stop offset="0.7083" stop-color="#65cd6e"/><stop offset="0.7292" stop-color="#43ca8b"/><stop offset="0.75" stop-color="#2ec4a5"/><stop offset="0.7708" stop-color="#0ebebb"/><stop offset="0.7917" stop-color="#0eb2d4"/><stop offset="0.8125" stop-color="#2994ed"/><stop offset="0.8333" stop-color="#4466fd"/><stop offset="0.8542" stop-color="#4747eb"/><stop offset="0.875" stop-color="#4435d1"/><stop offset="0.8958" stop-color="#412dbd"/><stop offset="0.9167" stop-color="#3f29b2"/><stop offset="0.9375" stop-color="#3e27ab"/><stop offset="0.9583" stop-color="#3e26a9"/><stop offset="0.9792" stop-color="#3e26a9"/><stop offset="1" stop-color="#3e26a9"/></linearGradient><linearGradient id="r57"><stop offset="0" stop-color="#3e27aa"/><stop offset="0.0208" stop-color="#3f28ad"/><stop offset="0.0417" stop-color="#3e27a9"/><stop offset="0.0625" stop-color="#3e27aa"/><stop offset="0.0833" stop-color="#3f28ad"/><stop offset="0.1042" stop-color="#3e27a9"/><stop offset="0.125" stop-color="#3e27aa"/><stop offset="0.1458" stop-color="#3f28ad"/><stop offset="0.1667" stop-color="#3e27a9"/><stop offset="0.1875" stop-color="#3e27aa"/><stop offset="0.2083" stop-color="#3f28ad"/><stop offset="0.2292" stop-color="#3e27a9"/><stop offset="0.25" stop-color="#3e27aa"/><stop offset="0.2708" stop-color="#3f29b1"/><stop offset="0.2917" stop-color="#402bb6"/><stop offset="0.3125" stop-color="#4230c4"/><stop offset="0.3333" stop-color="#463cde"/><stop offset="0.3542" stop-color="#4853f5"/><stop offset="0.375" stop-color="#327bfc"/><stop offset="0.3958" stop-color="#1ea8e1"/><stop offset="0.4167" stop-color="#01b9c6"/><stop offset="0.4375" stop-color="#25c2ad"/><stop offset="0.4583" stop-color="#3cc991"/><stop offset="0.4792" stop-color="#5ecc74"/><stop offset="0.5" stop-color="#88cb53"/><stop offset="0.5208" stop-color="#b6bd31"/><stop offset="0.5417" stop-color="#d5af29"/><stop offset="0.5625" stop-color="#eea93c"/><stop offset="0.5833" stop-color="#f8bb36"/><stop offset="0.6042" stop-color="#f9c033"/><stop offset="0.625" stop-color="#f8b738"/><stop offset="0.6458" stop-color="#eea93c"/><stop offset="0.6667" stop-color="#d2b028"/><stop offset="0.6875" stop-color="#aec036"/><stop offset="0.7083" stop-color="#88cb53"/><stop offset="0.7292" stop-color="#5acc77"/><stop offset="0.75" stop-color="#37c897"/><stop offset="0.7708" stop-color="#25c2ae"/><stop offset="0.7917" stop-color="#01b8c8"/><stop offset="0.8125" stop-color="#21a2e4"/><stop offset="0.8333" stop-color="#3677fe"/><stop offset="0.8542" stop-color="#4850f3"/><stop offset="0.875" stop-color="#4539d9"/><stop offset="0.8958" stop-color="#4330c5"/><stop offset="0.9167" stop-color="#402bb6"/><stop offset="0.9375" stop-color="#3f28ad"/><stop offset="0.9583" stop-color="#3f28ad"/><stop offset="0.9792" stop-color="#3e27aa"/><stop offset="1" stop-color="#3e27a9"/></linearGradient><linearGradient id="r58"><stop offset="0" stop-color="#3e28ac"/><stop offset="0.0208" stop-color="#402ab4"/><stop offset="0.0417" stop-color="#3e27aa"/><stop offset="0.0625" stop-color="#3e27ac"/><stop offset="0.0833" stop-color="#402ab4"/><stop offset="0.1042" stop-color="#3e27ab"/><stop offset="0.125" stop-color="#3e27ac"/><stop offset="0.1458" stop-color="#402ab4"/><stop offset="0.1667" stop-color="#3e27ab"/><stop offset="0.1875" stop-color="#3e27ac"/><stop offset="0.2083" stop-color="#402ab4"/><stop offset="0.2292" stop-color="#3e27ab"/><stop offset="0.25" stop-color="#3e27ac"/><stop offset="0.2708" stop-color="#412cb9"/><stop offset="0.2917" stop-color="#412cb9"/><stop offset="0.3125" stop-color="#4332c9"/><stop offset="0.3333" stop-color="#4742e6"/><stop offset="0.3542" stop-color="#4759f8"/><stop offset="0.375" stop-color="#2e85f8"/><stop offset="0.3958" stop-color="#14b0d8"/><stop offset="0.4167" stop-color="#08bcbf"/><stop offset="0.4375" stop-color="#2cc4a6"/><stop offset="0.4583" stop-color="#4dcc82"/><stop offset="0.4792" stop-color="#6ecd67"/><stop offset="0.5" stop-color="#9dc643"/><stop offset="0.5208" stop-color="#cfb228"/><stop offset="0.5417" stop-color="#eaa839"/><stop offset="0.5625" stop-color="#f8c232"/><stop offset="0.5833" stop-color="#f5de28"/><stop offset="0.6042" stop-color="#f5e128"/><stop offset="0.625" stop-color="#f6d62b"/><stop offset="0.6458" stop-color="#f8c531"/><stop offset="0.6667" stop-color="#e6a736"/><stop offset="0.6875" stop-color="#c3b729"/><stop offset="0.7083" stop-color="#a1c43f"/><stop offset="0.7292" stop-color="#6acd6a"/><stop offset="0.75" stop-color="#40ca8d"/><stop offset="0.7708" stop-color="#2ec5a3"/><stop offset="0.7917" stop-color="#05bbc1"/><stop offset="0.8125" stop-color="#1caadf"/><stop offset="0.8333" stop-color="#2e84f9"/><stop offset="0.8542" stop-color="#4757f7"/><stop offset="0.875" stop-color="#463bdd"/><stop offset="0.8958" stop-color="#4434ce"/><stop offset="0.9167" stop-color="#412cba"/><stop offset="0.9375" stop-color="#3f28af"/><stop offset="0.9583" stop-color="#402ab4"/><stop offset="0.9792" stop-color="#3f28ad"/><stop offset="1" stop-color="#3e27aa"/></linearGradient><linearGradient id="r59"><stop offset="0" stop-color="#3e27ac"/><stop offset="0.0208" stop-color="#3f29b2"/><stop offset="0.0417" stop-color="#3e27aa"/><stop offset="0.0625" stop-color="#3e27ac"/><stop offset="0.0833" stop-color="#3f29b2"/><stop offset="0.1042" stop-color="#3e27aa"/><stop offset="0.125" stop-color="#3e27ab"/><stop offset="0.1458" stop-color="#4029b2"/><stop offset="0.1667" stop-color="#3e27aa"/><stop offset="0.1875" stop-color="#3e27ab"/><stop offset="0.2083" stop-color="#4029b2"/><stop offset="0.2292" stop-color="#3e27ab"/><stop offset="0.25" stop-color="#3e27ac"/><stop offset="0.2708" stop-color="#402bb8"/><stop offset="0.2917" stop-color="#412cb9"/><stop offset="0.3125" stop-color="#4332c9"/><stop offset="0.3333" stop-color="#4742e6"/><stop offset="0.3542" stop-color="#475af9"/><stop offset="0.375" stop-color="#2e87f7"/><stop offset="0.3958" stop-color="#13b0d7"/><stop offset="0.4167" stop-color="#09bcbe"/><stop offset="0.4375" stop-color="#2dc4a5"/><stop offset="0.4583" stop-color="#4dcc82"/><stop offset="0.4792" stop-color="#70cd65"/><stop offset="0.5" stop-color="#9fc541"/><stop offset="0.5208" stop-color="#d1b128"/><stop offset="0.5417" stop-color="#eea93c"/><stop offset="0.5625" stop-color="#f8c730"/><stop offset="0.5833" stop-color="#f5e327"/><stop offset="0.6042" stop-color="#f5e725"/><stop offset="0.625" stop-color="#f5db29"/><stop offset="0.6458" stop-color="#f8c92f"/><stop offset="0.6667" stop-color="#eaa839"/><stop offset="0.6875" stop-color="#c6b629"/><stop offset="0.7083" stop-color="#a3c43e"/><stop offset="0.7292" stop-color="#6ccd68"/><stop offset="0.75" stop-color="#41ca8c"/><stop offset="0.7708" stop-color="#2fc5a3"/><stop offset="0.7917" stop-color="#06bcc0"/><stop offset="0.8125" stop-color="#1baade"/><stop offset="0.8333" stop-color="#2e85f8"/><stop offset="0.8542" stop-color="#4757f7"/><stop offset="0.875" stop-color="#463cde"/><stop offset="0.8958" stop-color="#4433cd"/><stop offset="0.9167" stop-color="#412cb9"/><stop offset="0.9375" stop-color="#3f28af"/><stop offset="0.9583" stop-color="#4029b2"/><stop offset="0.9792" stop-color="#3e28ad"/><stop offset="1" stop-color="#3e27aa"/></linearGradient><linearGradient id="r60"><stop offset="0" stop-color="#3e27a9"/><stop offset="0.0208" stop-color="#3e27ab"/><stop offset="0.0417" stop-color="#3e26a9"/><stop offset="0.0625" stop-color="#3e27a9"/><stop offset="0.0833" stop-color="#3e27ab"/><stop offset="0.1042" stop-color="#3e26a9"/><stop offset="0.125" stop-color="#3e27a9"/><stop offset="0.1458" stop-color="#3e27ab"/><stop offset="0.1667" stop-color="#3e27a9"/><stop offset="0.1875" stop-color="#3e27a9"/><stop offset="0.2083" stop-color="#3e27ab"/><stop offset="0.2292" stop-color="#3e27a9"/><stop offset="0.25" stop-color="#3e27a9"/><stop offset="0.2708" stop-color="#3f29b0"/><stop offset="0.2917" stop-color="#402bb6"/><stop offset="0.3125" stop-color="#4330c5"/><stop offset="0.3333" stop-color="#463cdf"/><stop offset="0.3542" stop-color="#4756f6"/><stop offset="0.375" stop-color="#3080fb"/><stop offset="0.3958" stop-color="#1caadf"/><stop offset="0.4167" stop-color="#02bbc3"/><stop offset="0.4375" stop-color="#28c3ab"/><stop offset="0.4583" stop-color="#3fca8e"/><stop offset="0.4792" stop-color="#64cd6f"/><stop offset="0.5" stop-color="#91ca4c"/><stop offset="0.5208" stop-color="#beb92c"/><stop offset="0.5417" stop-color="#deab2d"/><stop offset="0.5625" stop-color="#f7b23b"/><stop offset="0.5833" stop-color="#f8c930"/><stop offset="0.6042" stop-color="#f7ce2e"/><stop offset="0.625" stop-color="#f8c631"/><stop offset="0.6458" stop-color="#f6b13c"/><stop offset="0.6667" stop-color="#dbac2b"/><stop offset="0.6875" stop-color="#b8bc30"/><stop offset="0.7083" stop-color="#8eca4e"/><stop offset="0.7292" stop-color="#5fcd73"/><stop offset="0.75" stop-color="#3bc993"/><stop offset="0.7708" stop-color="#26c2ac"/><stop offset="0.7917" stop-color="#01b9c6"/><stop offset="0.8125" stop-color="#1fa6e2"/><stop offset="0.8333" stop-color="#337bfc"/><stop offset="0.8542" stop-color="#4852f4"/><stop offset="0.875" stop-color="#463ada"/><stop offset="0.8958" stop-color="#4330c4"/><stop offset="0.9167" stop-color="#402bb6"/><stop offset="0.9375" stop-color="#3f28ad"/><stop offset="0.9583" stop-color="#3e27ab"/><stop offset="0.9792" stop-color="#3e27a9"/><stop offset="1" stop-color="#3e26a9"/></linearGradient><linearGradient id="r61"><stop offset="0" stop-color="#3e26a9"/><stop offset="0.0208" stop-color="#3e27a9"/><stop offset="0.0417" stop-color="#3e26a8"/><stop offset="0.0625" stop-color="#3e26a9"/><stop offset="0.0833" stop-color="#3e27a9"/><stop offset="0.1042" stop-color="#3e26a8"/><stop offset="0.125" stop-color="#3e26a9"/><stop offset="0.1458" stop-color="#3e27a9"/><stop offset="0.1667" stop-color="#3e26a8"/><stop offset="0.1875" stop-color="#3e26a9"/><stop offset="0.2083" stop-color="#3e27a9"/><stop offset="0.2292" stop-color="#3e26a8"/><stop offset="0.25" stop-color="#3e26a9"/><stop offset="0.2708" stop-color="#3e28ac"/><stop offset="0.2917" stop-color="#402ab4"/><stop offset="0.3125" stop-color="#422fc0"/><stop offset="0.3333" stop-color="#4538d7"/><stop offset="0.3542" stop-color="#484ef1"/><stop offset="0.375" stop-color="#3c71ff"/><stop offset="0.3958" stop-color="#249fe6"/><stop offset="0.4167" stop-color="#03b6cc"/><stop offset="0.4375" stop-color="#1bc0b4"/><stop offset="0.4583" stop-color="#34c79c"/><stop offset="0.4792" stop-color="#50cc80"/><stop offset="0.5" stop-color="#75cc61"/><stop offset="0.5208" stop-color="#9ec541"/><stop offset="0.5417" stop-color="#c0b92b"/><stop offset="0.5625" stop-color="#d8ae2a"/><stop offset="0.5833" stop-color="#e6a736"/><stop offset="0.6042" stop-color="#eba93a"/><stop offset="0.625" stop-color="#e5a834"/><stop offset="0.6458" stop-color="#d6ae29"/><stop offset="0.6667" stop-color="#bcba2d"/><stop offset="0.6875" stop-color="#99c745"/><stop offset="0.7083" stop-color="#71cd64"/><stop offset="0.7292" stop-color="#4ccb83"/><stop offset="0.75" stop-color="#32c69f"/><stop offset="0.7708" stop-color="#18bfb6"/><stop offset="0.7917" stop-color="#07b5cf"/><stop offset="0.8125" stop-color="#269ae8"/><stop offset="0.8333" stop-color="#406cfe"/><stop offset="0.8542" stop-color="#484bee"/><stop offset="0.875" stop-color="#4536d4"/><stop offset="0.8958" stop-color="#422ebf"/><stop offset="0.9167" stop-color="#402ab3"/><stop offset="0.9375" stop-color="#3e27ab"/><stop offset="0.9583" stop-color="#3e27a9"/><stop offset="0.9792" stop-color="#3e26a9"/><stop offset="1" stop-color="#3e26a8"/></linearGradient><linearGradient id="r62"><stop offset="0" stop-color="#3e27ab"/><stop offset="0.0208" stop-color="#3f29b0"/><stop offset="0.0417" stop-color="#3e27aa"/><stop offset="0.0625" stop-color="#3e27ab"/><stop offset="0.0833" stop-color="#3f29b0"/><stop offset="0.1042" stop-color="#3e27aa"/><stop offset="0.125" stop-color="#3e27ab"/><stop offset="0.1458" stop-color="#3f29b0"/><stop offset="0.1667" stop-color="#3e27aa"/><stop offset="0.1875" stop-color="#3e27ab"/><stop offset="0.2083" stop-color="#3f29b0"/><stop offset="0.2292" stop-color="#3e27aa"/><stop offset="0.25" stop-color="#3e27aa"/><stop offset="0.2708" stop-color="#3f29b2"/><stop offset="0.2917" stop-color="#402ab3"/><stop offset="0.3125" stop-color="#412dbd"/><stop offset="0.3333" stop-color="#4536d4"/><stop offset="0.3542" stop-color="#4744e8"/><stop offset="0.375" stop-color="#4660fc"/><stop offset="0.3958" stop-color="#2c8ff1"/><stop offset="0.4167" stop-color="#16aeda"/><stop offset="0.4375" stop-color="#06bcc0"/><stop offset="0.4583" stop-color="#2bc3a8"/><stop offset="0.4792" stop-color="#3ac994"/><stop offset="0.5" stop-color="#56cc7b"/><stop offset="0.5208" stop-color="#7ccc5c"/><stop offset="0.5417" stop-color="#94c94a"/><stop offset="0.5625" stop-color="#abc138"/><stop offset="0.5833" stop-color="#beb92c"/><stop offset="0.6042" stop-color="#beb92c"/><stop offset="0.625" stop-color="#b8bc30"/><stop offset="0.6458" stop-color="#aec036"/><stop offset="0.6667" stop-color="#91c94c"/><stop offset="0.6875" stop-color="#71cd64"/><stop offset="0.7083" stop-color="#58cc79"/><stop offset="0.7292" stop-color="#38c896"/><stop offset="0.75" stop-color="#25c2ad"/><stop offset="0.7708" stop-color="#06bcc0"/><stop offset="0.7917" stop-color="#1aacdd"/><stop offset="0.8125" stop-color="#2e87f7"/><stop offset="0.8333" stop-color="#465ffb"/><stop offset="0.8542" stop-color="#4742e6"/><stop offset="0.875" stop-color="#4433cc"/><stop offset="0.8958" stop-color="#422fc0"/><stop offset="0.9167" stop-color="#402ab3"/><stop offset="0.9375" stop-color="#3e27ab"/><stop offset="0.9583" stop-color="#3f29b0"/><stop offset="0.9792" stop-color="#3e27ab"/><stop offset="1" stop-color="#3e27a9"/></linearGradient><linearGradient id="r63"><stop offset="0" stop-color="#3e28ac"/><stop offset="0.0208" stop-color="#402ab4"/><stop offset="0.0417" stop-color="#3e27ab"/><stop offset="0.0625" stop-color="#3e28ac"/><stop offset="0.0833" stop-color="#402ab4"/><stop offset="0.1042" stop-color="#3e27ab"/><stop offset="0.125" stop-color="#3e28ac"/><stop offset="0.1458" stop-color="#402ab4"/><stop offset="0.1667" stop-color="#3e27ab"/><stop offset="0.1875" stop-color="#3e27ac"/><stop offset="0.2083" stop-color="#402ab5"/><stop offset="0.2292" stop-color="#3e27ab"/><stop offset="0.25" stop-color="#3e27ac"/><stop offset="0.2708" stop-color="#402ab5"/><stop offset="0.2917" stop-color="#3f29b1"/><stop offset="0.3125" stop-color="#412cb9"/><stop offset="0.3333" stop-color="#4434ce"/><stop offset="0.3542" stop-color="#463adc"/><stop offset="0.375" stop-color="#4850f2"/><stop offset="0.3958" stop-color="#3975fe"/><stop offset="0.4167" stop-color="#2699e9"/><stop offset="0.4375" stop-color="#0cb3d3"/><stop offset="0.4583" stop-color="#15bfb7"/><stop offset="0.4792" stop-color="#29c3aa"/><stop offset="0.5" stop-color="#37c898"/><stop offset="0.5208" stop-color="#55cc7c"/><stop offset="0.5417" stop-color="#61cd71"/><stop offset="0.5625" stop-color="#72cd64"/><stop offset="0.5833" stop-color="#8acb52"/><stop offset="0.6042" stop-color="#83cc57"/><stop offset="0.625" stop-color="#7dcc5b"/><stop offset="0.6458" stop-color="#7ccc5c"/><stop offset="0.6667" stop-color="#5fcd73"/><stop offset="0.6875" stop-color="#48cb86"/><stop offset="0.7083" stop-color="#3bc993"/><stop offset="0.7292" stop-color="#27c2ab"/><stop offset="0.75" stop-color="#07bcbf"/><stop offset="0.7708" stop-color="#0ab4d1"/><stop offset="0.7917" stop-color="#2896eb"/><stop offset="0.8125" stop-color="#416bfe"/><stop offset="0.8333" stop-color="#4851f3"/><stop offset="0.8542" stop-color="#463ada"/><stop offset="0.875" stop-color="#4230c3"/><stop offset="0.8958" stop-color="#422fc0"/><stop offset="0.9167" stop-color="#3f29b2"/><stop offset="0.9375" stop-color="#3e27aa"/><stop offset="0.9583" stop-color="#402ab4"/><stop offset="0.9792" stop-color="#3f28ad"/><stop offset="1" stop-color="#3e27aa"/></linearGradient><linearGradient id="r64"><stop offset="0" stop-color="#3e27ab"/><stop offset="0.0208" stop-color="#3f29b0"/><stop offset="0.0417" stop-color="#3e27aa"/><stop offset="0.0625" stop-color="#3e27ab"/><stop offset="0.0833" stop-color="#3f29b0"/><stop offset="0.1042" stop-color="#3e27aa"/><stop offset="0.125" stop-color="#3e27ab"/><stop offset="0.1458" stop-color="#3f29b0"/><stop offset="0.1667" stop-color="#3e27aa"/><stop offset="0.1875" stop-color="#3e27ab"/><stop offset="0.2083" stop-color="#3f29b0"/><stop offset="0.2292" stop-color="#3e27aa"/><stop offset="0.25" stop-color="#3e27aa"/><stop offset="0.2708" stop-color="#3f29b0"/><stop offset="0.2917" stop-color="#3e28ac"/><stop offset="0.3125" stop-color="#402ab3"/><stop offset="0.3333" stop-color="#422fc1"/><stop offset="0.3542" stop-color="#4433cc"/><stop offset="0.375" stop-color="#473ee1"/><stop offset="0.3958" stop-color="#4758f8"/><stop offset="0.4167" stop-color="#3876fe"/><stop offset="0.4375" stop-color="#269ae8"/><stop offset="0.4583" stop-color="#0cb3d3"/><stop offset="0.4792" stop-color="#04bbc2"/><stop offset="0.5" stop-color="#1dc0b2"/><stop offset="0.5208" stop-color="#30c5a1"/><stop offset="0.5417" stop-color="#36c899"/><stop offset="0.5625" stop-color="#3eca8f"/><stop offset="0.5833" stop-color="#4bcb83"/><stop offset="0.6042" stop-color="#49cb86"/><stop offset="0.625" stop-color="#45cb89"/><stop offset="0.6458" stop-color="#42ca8b"/><stop offset="0.6667" stop-color="#35c79a"/><stop offset="0.6875" stop-color="#2cc4a7"/><stop offset="0.7083" stop-color="#20c1b1"/><stop offset="0.7292" stop-color="#02bac4"/><stop offset="0.75" stop-color="#14b0d8"/><stop offset="0.7708" stop-color="#2699e9"/><stop offset="0.7917" stop-color="#3c71ff"/><stop offset="0.8125" stop-color="#4852f4"/><stop offset="0.8333" stop-color="#473fe2"/><stop offset="0.8542" stop-color="#4432cb"/><stop offset="0.875" stop-color="#412cba"/><stop offset="0.8958" stop-color="#402bb7"/><stop offset="0.9167" stop-color="#3f28ad"/><stop offset="0.9375" stop-color="#3e27a9"/><stop offset="0.9583" stop-color="#3f29b0"/><stop offset="0.9792" stop-color="#3e27ab"/><stop offset="1" stop-color="#3e27a9"/></linearGradient><linearGradient id="r65"><stop offset="0" stop-color="#3e26a9"/><stop offset="0.0208" stop-color="#3e27a9"/><stop offset="0.0417" stop-color="#3e26a8"/><stop offset="0.0625" stop-color="#3e26a9"/><stop offset="0.0833" stop-color="#3e27a9"/><stop offset="0.1042" stop-color="#3e26a8"/><stop offset="0.125" stop-color="#3e26a9"/><stop offset="0.1458" stop-color="#3e27a9"/><stop offset="0.1667" stop-color="#3e26a9"/><stop offset="0.1875" stop-color="#3e26a9"/><stop offset="0.2083" stop-color="#3e27a9"/><stop offset="0.2292" stop-color="#3e26a9"/><stop offset="0.25" stop-color="#3e26a9"/><stop offset="0.2708" stop-color="#3e27a9"/><stop offset="0.2917" stop-color="#3e26a9"/><stop offset="0.3125" stop-color="#3e28ad"/><stop offset="0.3333" stop-color="#402ab4"/><stop offset="0.3542" stop-color="#412dbd"/><stop offset="0.375" stop-color="#4434ce"/><stop offset="0.3958" stop-color="#473fe2"/><stop offset="0.4167" stop-color="#4854f5"/><stop offset="0.4375" stop-color="#3f6fff"/><stop offset="0.4583" stop-color="#2b90ef"/><stop offset="0.4792" stop-color="#1da9e0"/><stop offset="0.5" stop-color="#07b5d0"/><stop offset="0.5208" stop-color="#03bbc2"/><stop offset="0.5417" stop-color="#13beb9"/><stop offset="0.5625" stop-color="#1fc0b2"/><stop offset="0.5833" stop-color="#25c2ad"/><stop offset="0.6042" stop-color="#26c2ac"/><stop offset="0.625" stop-color="#24c2ae"/><stop offset="0.6458" stop-color="#1ec0b2"/><stop offset="0.6667" stop-color="#11beba"/><stop offset="0.6875" stop-color="#02bac4"/><stop offset="0.7083" stop-color="#09b4d1"/><stop offset="0.7292" stop-color="#1fa6e1"/><stop offset="0.75" stop-color="#2d8df2"/><stop offset="0.7708" stop-color="#416bfe"/><stop offset="0.7917" stop-color="#4851f3"/><stop offset="0.8125" stop-color="#463de0"/><stop offset="0.8333" stop-color="#4433cc"/><stop offset="0.8542" stop-color="#412dbb"/><stop offset="0.875" stop-color="#402ab3"/><stop offset="0.8958" stop-color="#3e28ac"/><stop offset="0.9167" stop-color="#3e26a9"/><stop offset="0.9375" stop-color="#3e26a8"/><stop offset="0.9583" stop-color="#3e27a9"/><stop offset="0.9792" stop-color="#3e26a9"/><stop offset="1" stop-color="#3e26a8"/></linearGradient><linearGradient id="r66"><stop offset="0" stop-color="#3e27a9"/><stop offset="0.0208" stop-color="#3e27ab"/><stop offset="0.0417" stop-color="#3e26a9"/><stop offset="0.0625" stop-color="#3e27a9"/><stop offset="0.0833" stop-color="#3e27ab"/><stop offset="0.1042" stop-color="#3e26a9"/><stop offset="0.125" stop-color="#3e27a9"/><stop offset="0.1458" stop-color="#3e27ab"/><stop offset="0.1667" stop-color="#3e26a9"/><stop offset="0.1875" stop-color="#3e27a9"/><stop offset="0.2083" stop-color="#3e27ab"/><stop offset="0.2292" stop-color="#3e27a9"/><stop offset="0.25" stop-color="#3e27a9"/><stop offset="0.2708" stop-color="#3e27ab"/><stop offset="0.2917" stop-color="#3e27a9"/><stop offset="0.3125" stop-color="#3e27aa"/><stop offset="0.3333" stop-color="#3f29af"/><stop offset="0.3542" stop-color="#402ab5"/><stop offset="0.375" stop-color="#412dbd"/><stop offset="0.3958" stop-color="#4434ce"/><stop offset="0.4167" stop-color="#463cde"/><stop offset="0.4375" stop-color="#484cf0"/><stop offset="0.4583" stop-color="#4561fc"/><stop offset="0.4792" stop-color="#347afd"/><stop offset="0.5" stop-color="#2a92ee"/><stop offset="0.5208" stop-color="#20a4e3"/><stop offset="0.5417" stop-color="#17aeda"/><stop offset="0.5625" stop-color="#0cb3d3"/><stop offset="0.5833" stop-color="#05b6ce"/><stop offset="0.6042" stop-color="#04b6cd"/><stop offset="0.625" stop-color="#06b5cf"/><stop offset="0.6458" stop-color="#0cb3d3"/><stop offset="0.6667" stop-color="#18addb"/><stop offset="0.6875" stop-color="#22a2e4"/><stop offset="0.7083" stop-color="#2b91ef"/><stop offset="0.7292" stop-color="#3777fe"/><stop offset="0.75" stop-color="#465efb"/><stop offset="0.7708" stop-color="#484bef"/><stop offset="0.7917" stop-color="#463bdc"/><stop offset="0.8125" stop-color="#4332ca"/><stop offset="0.8333" stop-color="#412dbd"/><stop offset="0.8542" stop-color="#402ab4"/><stop offset="0.875" stop-color="#3f28ad"/><stop offset="0.8958" stop-color="#3e27ab"/><stop offset="0.9167" stop-color="#3e27a9"/><stop offset="0.9375" stop-color="#3e26a9"/><stop offset="0.9583" stop-color="#3e27ab"/><stop offset="0.9792" stop-color="#3e27a9"/><stop offset="1" stop-color="#3e26a9"/></linearGradient><linearGradient id="r67"><stop offset="0" stop-color="#3e27ac"/><stop offset="0.0208" stop-color="#3f29b2"/><stop offset="0.0417" stop-color="#3e27aa"/><stop offset="0.0625" stop-color="#3e27ac"/><stop offset="0.0833" stop-color="#3f29b2"/><stop offset="0.1042" stop-color="#3e27aa"/><stop offset="0.125" stop-color="#3e27ab"/><stop offset="0.1458" stop-color="#3f29b2"/><stop offset="0.1667" stop-color="#3e27aa"/><stop offset="0.1875" stop-color="#3e27ab"/><stop offset="0.2083" stop-color="#3f29b2"/><stop offset="0.2292" stop-color="#3e27ab"/><stop offset="0.25" stop-color="#3e27ab"/><stop offset="0.2708" stop-color="#3f29b2"/><stop offset="0.2917" stop-color="#3e27ab"/><stop offset="0.3125" stop-color="#3e27ab"/><stop offset="0.3333" stop-color="#402ab3"/><stop offset="0.3542" stop-color="#3f29af"/><stop offset="0.375" stop-color="#402ab5"/><stop offset="0.3958" stop-color="#4230c3"/><stop offset="0.4167" stop-color="#4331c8"/><stop offset="0.4375" stop-color="#4537d6"/><stop offset="0.4583" stop-color="#4745e9"/><stop offset="0.4792" stop-color="#484ff2"/><stop offset="0.5" stop-color="#465dfa"/><stop offset="0.5208" stop-color="#3d70ff"/><stop offset="0.5417" stop-color="#327cfc"/><stop offset="0.5625" stop-color="#2e87f7"/><stop offset="0.5833" stop-color="#2b90ef"/><stop offset="0.6042" stop-color="#2c8ff0"/><stop offset="0.625" stop-color="#2d8df3"/><stop offset="0.6458" stop-color="#2d89f5"/><stop offset="0.6667" stop-color="#337bfd"/><stop offset="0.6875" stop-color="#416afe"/><stop offset="0.7083" stop-color="#465ffb"/><stop offset="0.7292" stop-color="#484ef1"/><stop offset="0.75" stop-color="#473fe3"/><stop offset="0.7708" stop-color="#463ada"/><stop offset="0.7917" stop-color="#4331c7"/><stop offset="0.8125" stop-color="#412cba"/><stop offset="0.8333" stop-color="#412dbb"/><stop offset="0.8542" stop-color="#3f29b0"/><stop offset="0.875" stop-color="#3e27aa"/><stop offset="0.8958" stop-color="#3f29b2"/><stop offset="0.9167" stop-color="#3e28ac"/><stop offset="0.9375" stop-color="#3e27aa"/><stop offset="0.9583" stop-color="#3f29b2"/><stop offset="0.9792" stop-color="#3e28ac"/><stop offset="1" stop-color="#3e27aa"/></linearGradient><linearGradient id="r68"><stop offset="0" stop-color="#3e28ac"/><stop offset="0.0208" stop-color="#402ab4"/><stop offset="0.0417" stop-color="#3e27aa"/><stop offset="0.0625" stop-color="#3e28ac"/><stop offset="0.0833" stop-color="#402ab4"/><stop offset="0.1042" stop-color="#3e27ab"/><stop offset="0.125" stop-color="#3e27ac"/><stop offset="0.1458" stop-color="#402ab4"/><stop offset="0.1667" stop-color="#3e27ab"/><stop offset="0.1875" stop-color="#3e27ac"/><stop offset="0.2083" stop-color="#402ab4"/><stop offset="0.2292" stop-color="#3e27ab"/><stop offset="0.25" stop-color="#3e27ac"/><stop offset="0.2708" stop-color="#402ab4"/><stop offset="0.2917" stop-color="#3e27ab"/><stop offset="0.3125" stop-color="#3e27ab"/><stop offset="0.3333" stop-color="#402ab4"/><stop offset="0.3542" stop-color="#3e27ac"/><stop offset="0.375" stop-color="#3f28ae"/><stop offset="0.3958" stop-color="#412dbb"/><stop offset="0.4167" stop-color="#412cb9"/><stop offset="0.4375" stop-color="#422ebf"/><stop offset="0.4583" stop-color="#4435d1"/><stop offset="0.4792" stop-color="#4537d5"/><stop offset="0.5" stop-color="#463cdf"/><stop offset="0.5208" stop-color="#4848ec"/><stop offset="0.5417" stop-color="#484cef"/><stop offset="0.5625" stop-color="#4851f4"/><stop offset="0.5833" stop-color="#4759f9"/><stop offset="0.6042" stop-color="#4757f7"/><stop offset="0.625" stop-color="#4755f6"/><stop offset="0.6458" stop-color="#4755f6"/><stop offset="0.6667" stop-color="#484bef"/><stop offset="0.6875" stop-color="#4743e7"/><stop offset="0.7083" stop-color="#4740e3"/><stop offset="0.7292" stop-color="#4537d5"/><stop offset="0.75" stop-color="#4331c8"/><stop offset="0.7708" stop-color="#4331c7"/><stop offset="0.7917" stop-color="#412cb9"/><stop offset="0.8125" stop-color="#3f29b2"/><stop offset="0.8333" stop-color="#402bb6"/><stop offset="0.8542" stop-color="#3f28ad"/><stop offset="0.875" stop-color="#3e27aa"/><stop offset="0.8958" stop-color="#402ab4"/><stop offset="0.9167" stop-color="#3f28ad"/><stop offset="0.9375" stop-color="#3e27aa"/><stop offset="0.9583" stop-color="#402ab4"/><stop offset="0.9792" stop-color="#3f28ad"/><stop offset="1" stop-color="#3e27aa"/></linearGradient><linearGradient id="r69"><stop offset="0" stop-color="#3e27aa"/><stop offset="0.0208" stop-color="#3f28ad"/><stop offset="0.0417" stop-color="#3e27a9"/><stop offset="0.0625" stop-color="#3e27aa"/><stop offset="0.0833" stop-color="#3f28ad"/><stop offset="0.1042" stop-color="#3e27a9"/><stop offset="0.125" stop-color="#3e27aa"/><stop offset="0.1458" stop-color="#3f28ad"/><stop offset="0.1667" stop-color="#3e27a9"/><stop offset="0.1875" stop-color="#3e27aa"/><stop offset="0.2083" stop-color="#3f28ad"/><stop offset="0.2292" stop-color="#3e27a9"/><stop offset="0.25" stop-color="#3e27aa"/><stop offset="0.2708" stop-color="#3f28ad"/><stop offset="0.2917" stop-color="#3e27a9"/><stop offset="0.3125" stop-color="#3e27aa"/><stop offset="0.3333" stop-color="#3f28ad"/><stop offset="0.3542" stop-color="#3e27aa"/><stop offset="0.375" stop-color="#3e27aa"/><stop offset="0.3958" stop-color="#3f28ae"/><stop offset="0.4167" stop-color="#3f28ae"/><stop offset="0.4375" stop-color="#3f29b2"/><stop offset="0.4583" stop-color="#412cba"/><stop offset="0.4792" stop-color="#412dbb"/><stop offset="0.5" stop-color="#422fc1"/><stop offset="0.5208" stop-color="#4433cb"/><stop offset="0.5417" stop-color="#4434ce"/><stop offset="0.5625" stop-color="#4535d2"/><stop offset="0.5833" stop-color="#4538d8"/><stop offset="0.6042" stop-color="#4537d6"/><stop offset="0.625" stop-color="#4537d5"/><stop offset="0.6458" stop-color="#4537d5"/><stop offset="0.6667" stop-color="#4434ce"/><stop offset="0.6875" stop-color="#4331c7"/><stop offset="0.7083" stop-color="#4230c4"/><stop offset="0.7292" stop-color="#412dbb"/><stop offset="0.75" stop-color="#402bb6"/><stop offset="0.7708" stop-color="#402ab5"/><stop offset="0.7917" stop-color="#3f28ae"/><stop offset="0.8125" stop-color="#3e27aa"/><stop offset="0.8333" stop-color="#3f28ad"/><stop offset="0.8542" stop-color="#3e27aa"/><stop offset="0.875" stop-color="#3e27a9"/><stop offset="0.8958" stop-color="#3f28ad"/><stop offset="0.9167" stop-color="#3e27aa"/><stop offset="0.9375" stop-color="#3e27a9"/><stop offset="0.9583" stop-color="#3f28ad"/><stop offset="0.9792" stop-color="#3e27aa"/><stop offset="1" stop-color="#3e27a9"/></linearGradient><linearGradient id="r70"><stop offset="0" stop-color="#3e26a8"/><stop offset="0.0208" stop-color="#3e26a8"/><stop offset="0.0417" stop-color="#3e26a8"/><stop offset="0.0625" stop-color="#3e26a8"/><stop offset="0.0833" stop-color="#3e26a8"/><stop offset="0.1042" stop-color="#3e26a8"/><stop offset="0.125" stop-color="#3e26a8"/><stop offset="0.1458" stop-color="#3e26a8"/><stop offset="0.1667" stop-color="#3e26a8"/><stop offset="0.1875" stop-color="#3e26a8"/><stop offset="0.2083" stop-color="#3e26a8"/><stop offset="0.2292" stop-color="#3e26a8"/><stop offset="0.25" stop-color="#3e26a8"/><stop offset="0.2708" stop-color="#3e26a8"/><stop offset="0.2917" stop-color="#3e26a8"/><stop offset="0.3125" stop-color="#3e26a8"/><stop offset="0.3333" stop-color="#3e26a8"/><stop offset="0.3542" stop-color="#3e26a8"/><stop offset="0.375" stop-color="#3e26a8"/><stop offset="0.3958" stop-color="#3e26a8"/><stop offset="0.4167" stop-color="#3e26a8"/><stop offset="0.4375" stop-color="#3e27aa"/><stop offset="0.4583" stop-color="#3e27ac"/><stop offset="0.4792" stop-color="#3f28af"/><stop offset="0.5" stop-color="#3f29b2"/><stop offset="0.5208" stop-color="#402ab5"/><stop offset="0.5417" stop-color="#402bb7"/><stop offset="0.5625" stop-color="#412cb8"/><stop offset="0.5833" stop-color="#412cb9"/><stop offset="0.6042" stop-color="#412cba"/><stop offset="0.625" stop-color="#412cb9"/><stop offset="0.6458" stop-color="#402bb8"/><stop offset="0.6667" stop-color="#402bb6"/><stop offset="0.6875" stop-color="#402ab4"/><stop offset="0.7083" stop-color="#3f29b2"/><stop offset="0.7292" stop-color="#3f28af"/><stop offset="0.75" stop-color="#3e27ac"/><stop offset="0.7708" stop-color="#3e27a9"/><stop offset="0.7917" stop-color="#3e26a8"/><stop offset="0.8125" stop-color="#3e26a8"/><stop offset="0.8333" stop-color="#3e26a8"/><stop offset="0.8542" stop-color="#3e26a8"/><stop offset="0.875" stop-color="#3e26a8"/><stop offset="0.8958" stop-color="#3e26a8"/><stop offset="0.9167" stop-color="#3e26a8"/><stop offset="0.9375" stop-color="#3e26a8"/><stop offset="0.9583" stop-color="#3e26a8"/><stop offset="0.9792" stop-color="#3e26a8"/><stop offset="1" stop-color="#3e26a8"/></linearGradient><linearGradient id="r71"><stop offset="0" stop-color="#3e27aa"/><stop offset="0.0208" stop-color="#3f28ad"/><stop offset="0.0417" stop-color="#3e27a9"/><stop offset="0.0625" stop-color="#3e27aa"/><stop offset="0.0833" stop-color="#3f28ad"/><stop offset="0.1042" stop-color="#3e27a9"/><stop offset="0.125" stop-color="#3e27aa"/><stop offset="0.1458" stop-color="#3f28ad"/><stop offset="0.1667" stop-color="#3e27a9"/><stop offset="0.1875" stop-color="#3e27aa"/><stop offset="0.2083" stop-color="#3f28ad"/><stop offset="0.2292" stop-color="#3e27a9"/><stop offset="0.25" stop-color="#3e27aa"/><stop offset="0.2708" stop-color="#3f28ad"/><stop offset="0.2917" stop-color="#3e27aa"/><stop offset="0.3125" stop-color="#3e27aa"/><stop offset="0.3333" stop-color="#3f28ad"/><stop offset="0.3542" stop-color="#3e27aa"/><stop offset="0.375" stop-color="#3e27aa"/><stop offset="0.3958" stop-color="#3f28ad"/><stop offset="0.4167" stop-color="#3e27aa"/><stop offset="0.4375" stop-color="#3e27aa"/><stop offset="0.4583" stop-color="#3f28ad"/><stop offset="0.4792" stop-color="#3e27aa"/><stop offset="0.5" stop-color="#3e27ab"/><stop offset="0.5208" stop-color="#3f29b0"/><stop offset="0.5417" stop-color="#3f28ad"/><stop offset="0.5625" stop-color="#3f28ae"/><stop offset="0.5833" stop-color="#3f29b2"/><stop offset="0.6042" stop-color="#3f28af"/><stop offset="0.625" stop-color="#3f28ae"/><stop offset="0.6458" stop-color="#3f29b2"/><stop offset="0.6667" stop-color="#3f28ad"/><stop offset="0.6875" stop-color="#3e27ab"/><stop offset="0.7083" stop-color="#3f28ae"/><stop offset="0.7292" stop-color="#3e27aa"/><stop offset="0.75" stop-color="#3e27a9"/><stop offset="0.7708" stop-color="#3f28ad"/><stop offset="0.7917" stop-color="#3e27aa"/><stop offset="0.8125" stop-color="#3e27a9"/><stop offset="0.8333" stop-color="#3f28ad"/><stop offset="0.8542" stop-color="#3e27aa"/><stop offset="0.875" stop-color="#3e27a9"/><stop offset="0.8958" stop-color="#3f28ad"/><stop offset="0.9167" stop-color="#3e27aa"/><stop offset="0.9375" stop-color="#3e27a9"/><stop offset="0.9583" stop-color="#3f28ad"/><stop offset="0.9792" stop-color="#3e27aa"/><stop offset="1" stop-color="#3e27a9"/></linearGradient><linearGradient id="r72"><stop offset="0" stop-color="#3e28ac"/><stop offset="0.0208" stop-color="#402ab4"/><stop offset="0.0417" stop-color="#3e27aa"/><stop offset="0.0625" stop-color="#3e28ac"/><stop offset="0.0833" stop-color="#402ab4"/><stop offset="0.1042" stop-color="#3e27ab"/><stop offset="0.125" stop-color="#3e27ac"/><stop offset="0.1458" stop-color="#402ab4"/><stop offset="0.1667" stop-color="#3e27ab"/><stop offset="0.1875" stop-color="#3e27ac"/><stop offset="0.2083" stop-color="#402ab4"/><stop offset="0.2292" stop-color="#3e27ab"/><stop offset="0.25" stop-color="#3e27ac"/><stop offset="0.2708" stop-color="#402ab4"/><stop offset="0.2917" stop-color="#3e27ab"/><stop offset="0.3125" stop-color="#3e27ab"/><stop offset="0.3333" stop-color="#402ab4"/><stop offset="0.3542" stop-color="#3e27ab"/><stop offset="0.375" stop-color="#3e27ab"/><stop offset="0.3958" stop-color="#402ab4"/><stop offset="0.4167" stop-color="#3e27ab"/><stop offset="0.4375" stop-color="#3e27ab"/><stop offset="0.4583" stop-color="#402ab4"/><stop offset="0.4792" stop-color="#3e27ac"/><stop offset="0.5" stop-color="#3e27ab"/><stop offset="0.5208" stop-color="#402ab4"/><stop offset="0.5417" stop-color="#3e27ac"/><stop offset="0.5625" stop-color="#3e27ab"/><stop offset="0.5833" stop-color="#402ab4"/><stop offset="0.6042" stop-color="#3e27ac"/><stop offset="0.625" stop-color="#3e27ab"/><stop offset="0.6458" stop-color="#402ab4"/><stop offset="0.6667" stop-color="#3e28ac"/><stop offset="0.6875" stop-color="#3e27aa"/><stop offset="0.7083" stop-color="#402ab4"/><stop offset="0.7292" stop-color="#3e28ac"/><stop offset="0.75" stop-color="#3e27aa"/><stop offset="0.7708" stop-color="#402ab4"/><stop offset="0.7917" stop-color="#3e28ac"/><stop offset="0.8125" stop-color="#3e27aa"/><stop offset="0.8333" stop-color="#402ab4"/><stop offset="0.8542" stop-color="#3f28ad"/><stop offset="0.875" stop-color="#3e27aa"/><stop offset="0.8958" stop-color="#402ab4"/><stop offset="0.9167" stop-color="#3f28ad"/><stop offset="0.9375" stop-color="#3e27aa"/><stop offset="0.9583" stop-color="#402ab4"/><stop offset="0.9792" stop-color="#3f28ad"/><stop offset="1" stop-color="#3e27aa"/></linearGradient><linearGradient id="r73"><stop offset="0" stop-color="#3e27ac"/><stop offset="0.0208" stop-color="#3f29b2"/><stop offset="0.0417" stop-color="#3e27aa"/><stop offset="0.0625" stop-color="#3e27ac"/><stop offset="0.0833" stop-color="#3f29b2"/><stop offset="0.1042" stop-color="#3e27aa"/><stop offset="0.125" stop-color="#3e27ab"/><stop offset="0.1458" stop-color="#3f29b2"/><stop offset="0.1667" stop-color="#3e27aa"/><stop offset="0.1875" stop-color="#3e27ab"/><stop offset="0.2083" stop-color="#3f29b2"/><stop offset="0.2292" stop-color="#3e27ab"/><stop offset="0.25" stop-color="#3e27ab"/><stop offset="0.2708" stop-color="#3f29b2"/><stop offset="0.2917" stop-color="#3e27ab"/><stop offset="0.3125" stop-color="#3e27ab"/><stop offset="0.3333" stop-color="#3f29b2"/><stop offset="0.3542" stop-color="#3e27ab"/><stop offset="0.375" stop-color="#3e27ab"/><stop offset="0.3958" stop-color="#3f29b2"/><stop offset="0.4167" stop-color="#3e27ab"/><stop offset="0.4375" stop-color="#3e27ab"/><stop offset="0.4583" stop-color="#3f29b2"/><stop offset="0.4792" stop-color="#3e27ab"/><stop offset="0.5" stop-color="#3e27ab"/><stop offset="0.5208" stop-color="#3f29b2"/><stop offset="0.5417" stop-color="#3e27ab"/><stop offset="0.5625" stop-color="#3e27aa"/><stop offset="0.5833" stop-color="#3f29b2"/><stop offset="0.6042" stop-color="#3e27ab"/><stop offset="0.625" stop-color="#3e27aa"/><stop offset="0.6458" stop-color="#3f29b2"/><stop offset="0.6667" stop-color="#3e27ac"/><stop offset="0.6875" stop-color="#3e27aa"/><stop offset="0.7083" stop-color="#3f29b2"/><stop offset="0.7292" stop-color="#3e27ac"/><stop offset="0.75" stop-color="#3e27aa"/><stop offset="0.7708" stop-color="#3f29b2"/><stop offset="0.7917" stop-color="#3e27ac"/><stop offset="0.8125" stop-color="#3e27aa"/><stop offset="0.8333" stop-color="#3f29b2"/><stop offset="0.8542" stop-color="#3e27ac"/><stop offset="0.875" stop-color="#3e27aa"/><stop offset="0.8958" stop-color="#3f29b2"/><stop offset="0.9167" stop-color="#3e28ac"/><stop offset="0.9375" stop-color="#3e27aa"/><stop offset="0.9583" stop-color="#3f29b2"/><stop offset="0.9792" stop-color="#3e28ac"/><stop offset="1" stop-color="#3e27aa"/></linearGradient><symbol id="hm" viewBox="0 0 100 100" preserveAspectRatio="none"><rect x="0" y="0" width="100" height="1.951" fill="url(#r0)"/><rect x="0" y="1.351" width="100" height="1.951" fill="url(#r1)"/><rect x="0" y="2.703" width="100" height="1.951" fill="url(#r2)"/><rect x="0" y="4.054" width="100" height="1.951" fill="url(#r3)"/><rect x="0" y="5.405" width="100" height="1.951" fill="url(#r4)"/><rect x="0" y="6.757" width="100" height="1.951" fill="url(#r5)"/><rect x="0" y="8.108" width="100" height="1.951" fill="url(#r6)"/><rect x="0" y="9.459" width="100" height="1.951" fill="url(#r7)"/><rect x="0" y="10.811" width="100" height="1.951" fill="url(#r8)"/><rect x="0" y="12.162" width="100" height="1.951" fill="url(#r9)"/><rect x="0" y="13.514" width="100" height="1.951" fill="url(#r10)"/><rect x="0" y="14.865" width="100" height="1.951" fill="url(#r11)"/><rect x="0" y="16.216" width="100" height="1.951" fill="url(#r12)"/><rect x="0" y="17.568" width="100" height="1.951" fill="url(#r13)"/><rect x="0" y="18.919" width="100" height="1.951" fill="url(#r14)"/><rect x="0" y="20.27" width="100" height="1.951" fill="url(#r15)"/><rect x="0" y="21.622" width="100" height="1.951" fill="url(#r16)"/><rect x="0" y="22.973" width="100" height="1.951" fill="url(#r17)"/><rect x="0" y="24.324" width="100" height="1.951" fill="url(#r18)"/><rect x="0" y="25.676" width="100" height="1.951" fill="url(#r19)"/><rect x="0" y="27.027" width="100" height="1.951" fill="url(#r20)"/><rect x="0" y="28.378" width="100" height="1.951" fill="url(#r21)"/><rect x="0" y="29.73" width="100" height="1.951" fill="url(#r22)"/><rect x="0" y="31.081" width="100" height="1.951" fill="url(#r23)"/><rect x="0" y="32.432" width="100" height="1.951" fill="url(#r24)"/><rect x="0" y="33.784" width="100" height="1.951" fill="url(#r25)"/><rect x="0" y="35.135" width="100" height="1.951" fill="url(#r26)"/><rect x="0" y="36.486" width="100" height="1.951" fill="url(#r27)"/><rect x="0" y="37.838" width="100" height="1.951" fill="url(#r28)"/><rect x="0" y="39.189" width="100" height="1.951" fill="url(#r29)"/><rect x="0" y="40.541" width="100" height="1.951" fill="url(#r30)"/><rect x="0" y="41.892" width="100" height="1.951" fill="url(#r31)"/><rect x="0" y="43.243" width="100" height="1.951" fill="url(#r32)"/><rect x="0" y="44.595" width="100" height="1.951" fill="url(#r33)"/><rect x="0" y="45.946" width="100" height="1.951" fill="url(#r34)"/><rect x="0" y="47.297" width="100" height="1.951" fill="url(#r35)"/><rect x="0" y="48.649" width="100" height="1.951" fill="url(#r36)"/><rect x="0" y="50" width="100" height="1.951" fill="url(#r37)"/><rect x="0" y="51.351" width="100" height="1.951" fill="url(#r38)"/><rect x="0" y="52.703" width="100" height="1.951" fill="url(#r39)"/><rect x="0" y="54.054" width="100" height="1.951" fill="url(#r40)"/><rect x="0" y="55.405" width="100" height="1.951" fill="url(#r41)"/><rect x="0" y="56.757" width="100" height="1.951" fill="url(#r42)"/><rect x="0" y="58.108" width="100" height="1.951" fill="url(#r43)"/><rect x="0" y="59.459" width="100" height="1.951" fill="url(#r44)"/><rect x="0" y="60.811" width="100" height="1.951" fill="url(#r45)"/><rect x="0" y="62.162" width="100" height="1.951" fill="url(#r46)"/><rect x="0" y="63.514" width="100" height="1.951" fill="url(#r47)"/><rect x="0" y="64.865" width="100" height="1.951" fill="url(#r48)"/><rect x="0" y="66.216" width="100" height="1.951" fill="url(#r49)"/><rect x="0" y="67.568" width="100" height="1.951" fill="url(#r50)"/><rect x="0" y="68.919" width="100" height="1.951" fill="url(#r51)"/><rect x="0" y="70.27" width="100" height="1.951" fill="url(#r52)"/><rect x="0" y="71.622" width="100" height="1.951" fill="url(#r53)"/><rect x="0" y="72.973" width="100" height="1.951" fill="url(#r54)"/><rect x="0" y="74.324" width="100" height="1.951" fill="url(#r55)"/><rect x="0" y="75.676" width="100" height="1.951" fill="url(#r56)"/><rect x="0" y="77.027" width="100" height="1.951" fill="url(#r57)"/><rect x="0" y="78.378" width="100" height="1.951" fill="url(#r58)"/><rect x="0" y="79.73" width="100" height="1.951" fill="url(#r59)"/><rect x="0" y="81.081" width="100" height="1.951" fill="url(#r60)"/><rect x="0" y="82.432" width="100" height="1.951" fill="url(#r61)"/><rect x="0" y="83.784" width="100" height="1.951" fill="url(#r62)"/><rect x="0" y="85.135" width="100" height="1.951" fill="url(#r63)"/><rect x="0" y="86.486" width="100" height="1.951" fill="url(#r64)"/><rect x="0" y="87.838" width="100" height="1.951" fill="url(#r65)"/><rect x="0" y="89.189" width="100" height="1.951" fill="url(#r66)"/><rect x="0" y="90.541" width="100" height="1.951" fill="url(#r67)"/><rect x="0" y="91.892" width="100" height="1.951" fill="url(#r68)"/><rect x="0" y="93.243" width="100" height="1.951" fill="url(#r69)"/><rect x="0" y="94.595" width="100" height="1.951" fill="url(#r70)"/><rect x="0" y="95.946" width="100" height="1.951" fill="url(#r71)"/><rect x="0" y="97.297" width="100" height="1.951" fill="url(#r72)"/><rect x="0" y="98.649" width="100" height="1.951" fill="url(#r73)"/></symbol><radialGradient id="gm"><stop offset="0" stop-color="#962a66"/><stop offset=".8" stop-color="#a02860"/><stop offset="1" stop-color="#8c2874"/></radialGradient>
<radialGradient id="gt"><stop offset="0" stop-color="#127a84"/><stop offset=".6" stop-color="#137888"/><stop offset=".78" stop-color="#109c70"/><stop offset=".93" stop-color="#10a070"/><stop offset="1" stop-color="#148878"/></radialGradient>
<radialGradient id="gy"><stop offset="0" stop-color="#a89c60"/><stop offset=".5" stop-color="#b0a058"/><stop offset=".7" stop-color="#c8b038"/><stop offset=".92" stop-color="#c8ae3c"/><stop offset="1" stop-color="#a89048"/></radialGradient></defs><rect width="474" height="550" fill="#fff"/><use href="#hm" x="8.9" y="5.3" width="154" height="147.7"/><rect x="9.2" y="5.6" width="153.4" height="147.1" fill="none" stroke="#1a0c86" stroke-opacity=".45" stroke-width=".6"/><line x1="14.444" y1="5.3" x2="14.444" y2="153" stroke="#fff" stroke-opacity=".09" stroke-width=".5"/><line x1="47.4" y1="5.3" x2="47.4" y2="153" stroke="#fff" stroke-opacity=".09" stroke-width=".5"/><line x1="109.77" y1="5.3" x2="109.77" y2="153" stroke="#fff" stroke-opacity=".09" stroke-width=".5"/><line x1="142.88" y1="5.3" x2="142.88" y2="153" stroke="#fff" stroke-opacity=".09" stroke-width=".5"/><line x1="8.9" y1="116.075" x2="162.9" y2="116.075" stroke="#fff" stroke-opacity=".09" stroke-width=".5"/><line x1="8.9" y1="144.581" x2="162.9" y2="144.581" stroke="#fff" stroke-opacity=".09" stroke-width=".5"/><line x1="8.9" y1="49.61" x2="162.9" y2="49.61" stroke="#fff" stroke-opacity=".09" stroke-width=".5"/><ellipse cx="98.22" cy="37.794" rx="7.392" ry="7.0896" fill="url(#gm)"/><circle cx="98.22" cy="37.794" r=".7" fill="#222" fill-opacity=".7"/><ellipse cx="116.7" cy="49.61" rx="8.932" ry="8.5666" fill="url(#gt)"/><circle cx="116.7" cy="49.61" r=".7" fill="#222" fill-opacity=".7"/><ellipse cx="85.9" cy="64.38" rx="4.62" ry="4.431" fill="url(#gy)"/><circle cx="85.9" cy="64.38" r=".7" fill="#222" fill-opacity=".7"/><ellipse cx="85.9" cy="93.92" rx="22.33" ry="21.4165" fill="#06f406"/><path d="M85.90 93.92L108.23 93.92M85.90 93.92L107.14 87.30M85.90 93.92L103.97 81.33M85.90 93.92L99.03 76.59M85.90 93.92L92.80 73.55M85.90 93.92L85.90 72.50M85.90 93.92L79.00 73.55M85.90 93.92L72.77 76.59M85.90 93.92L67.83 81.33M85.90 93.92L64.66 87.30M85.90 93.92L63.57 93.92M85.90 93.92L64.66 100.54M85.90 93.92L67.83 106.51M85.90 93.92L72.77 111.25M85.90 93.92L79.00 114.29M85.90 93.92L85.90 115.34M85.90 93.92L92.80 114.29M85.90 93.92L99.03 111.25M85.90 93.92L103.97 106.51M85.90 93.92L107.14 100.54" stroke="#000" stroke-width=".32" stroke-opacity=".48" fill="none"/><circle cx="85.9" cy="93.92" r=".85" fill="#042008"/><clipPath id="k5"><ellipse cx="101.762" cy="123.46" rx="27.104" ry="12.9976"/></clipPath><use href="#hm" x="8.9" y="5.3" width="154" height="147.7" clip-path="url(#k5)"/><polyline points="85.90,116.08 88.53,116.03 91.12,115.90 93.66,115.68 96.15,115.37 98.60,114.98 101.01,114.49 103.36,113.92 105.68,113.27 107.94,112.52 110.16,111.68 112.34,110.76 114.47,109.75 116.55,108.65 118.59,107.47 120.58,106.20 122.52,104.84 124.42,103.39 126.28,101.85 128.09,100.22 129.85,98.51 131.56,96.71 133.24,94.82 134.86,92.85 136.44,90.79 137.97,88.63 139.46,86.39 140.90,84.07 142.30,81.65 143.65,79.15 143.65,79.15 144.95,76.63 146.21,74.14 147.43,71.71 148.59,69.32 149.72,66.97 150.79,64.66 151.82,62.40 152.81,60.18 153.74,58.01 154.64,55.88 155.48,53.79 156.28,51.75 157.04,49.75 157.75,47.80 158.41,45.89 159.03,44.03 159.60,42.20 160.13,40.42 160.61,38.69 161.05,37.00 161.44,35.35 161.78,33.75 162.08,32.19 162.33,30.68 162.53,29.21 162.69,27.78 162.81,26.40 162.88,25.06 162.90,23.76" fill="none" stroke="#e81a40" stroke-width="1"/><polyline points="47.40,116.08 124.40,116.08 162.90,42.23 162.90,5.30" fill="none" stroke="#28ee78" stroke-width="1" stroke-dasharray="1.9 1.6"/><circle cx="47.4" cy="116.075" r="1" fill="#d020d0"/><circle cx="162.9" cy="5.3" r="1.5" fill="#e01010"/><text x="8.9" y="158.2" font-size="3.25" text-anchor="middle" fill="#202020" >0</text><text x="7.8" y="155.15" font-size="3.25" text-anchor="end" fill="#202020" >0</text><text x="24.3" y="158.2" font-size="3.25" text-anchor="middle" fill="#202020" >10</text><text x="7.8" y="140.31" font-size="3.25" text-anchor="end" fill="#202020" >10</text><text x="39.7" y="158.2" font-size="3.25" text-anchor="middle" fill="#202020" >20</text><text x="7.8" y="125.47" font-size="3.25" text-anchor="end" fill="#202020" >20</text><text x="55.1" y="158.2" font-size="3.25" text-anchor="middle" fill="#202020" >30</text><text x="7.8" y="110.63" font-size="3.25" text-anchor="end" fill="#202020" >30</text><text x="70.5" y="158.2" font-size="3.25" text-anchor="middle" fill="#202020" >40</text><text x="7.8" y="95.79" font-size="3.25" text-anchor="end" fill="#202020" >40</text><text x="85.9" y="158.2" font-size="3.25" text-anchor="middle" fill="#202020" >50</text><text x="7.8" y="80.95" font-size="3.25" text-anchor="end" fill="#202020" >50</text><text x="101.3" y="158.2" font-size="3.25" text-anchor="middle" fill="#202020" >60</text><text x="7.8" y="66.11" font-size="3.25" text-anchor="end" fill="#202020" >60</text><text x="116.7" y="158.2" font-size="3.25" text-anchor="middle" fill="#202020" >70</text><text x="7.8" y="51.27" font-size="3.25" text-anchor="end" fill="#202020" >70</text><text x="132.1" y="158.2" font-size="3.25" text-anchor="middle" fill="#202020" >80</text><text x="7.8" y="36.43" font-size="3.25" text-anchor="end" fill="#202020" >80</text><text x="147.5" y="158.2" font-size="3.25" text-anchor="middle" fill="#202020" >90</text><text x="7.8" y="21.59" font-size="3.25" text-anchor="end" fill="#202020" >90</text><text x="162.9" y="158.2" font-size="3.25" text-anchor="middle" fill="#202020" >100</text><text x="7.8" y="6.75" font-size="3.25" text-anchor="end" fill="#202020" >100</text><text x="84.3" y="4.1" font-size="3.3" text-anchor="middle" fill="#151515" textLength="38.8" lengthAdjust="spacingAndGlyphs" >Uniform quadratic B-spline</text><use href="#hm" x="7.9" y="190.85" width="155.1" height="146.55"/><rect x="8.2" y="191.15" width="154.5" height="145.95" fill="none" stroke="#1a0c86" stroke-opacity=".45" stroke-width=".6"/><line x1="13.4836" y1="190.85" x2="13.4836" y2="337.4" stroke="#fff" stroke-opacity=".09" stroke-width=".5"/><line x1="46.675" y1="190.85" x2="46.675" y2="337.4" stroke="#fff" stroke-opacity=".09" stroke-width=".5"/><line x1="109.49" y1="190.85" x2="109.49" y2="337.4" stroke="#fff" stroke-opacity=".09" stroke-width=".5"/><line x1="142.837" y1="190.85" x2="142.837" y2="337.4" stroke="#fff" stroke-opacity=".09" stroke-width=".5"/><line x1="7.9" y1="300.762" x2="163" y2="300.762" stroke="#fff" stroke-opacity=".09" stroke-width=".5"/><line x1="7.9" y1="329.047" x2="163" y2="329.047" stroke="#fff" stroke-opacity=".09" stroke-width=".5"/><line x1="7.9" y1="234.815" x2="163" y2="234.815" stroke="#fff" stroke-opacity=".09" stroke-width=".5"/><ellipse cx="97.858" cy="223.091" rx="7.4448" ry="7.0344" fill="url(#gm)"/><circle cx="97.858" cy="223.091" r=".7" fill="#222" fill-opacity=".7"/><ellipse cx="116.47" cy="234.815" rx="8.9958" ry="8.4999" fill="url(#gt)"/><circle cx="116.47" cy="234.815" r=".7" fill="#222" fill-opacity=".7"/><ellipse cx="85.45" cy="249.47" rx="4.653" ry="4.3965" fill="url(#gy)"/><circle cx="85.45" cy="249.47" r=".7" fill="#222" fill-opacity=".7"/><ellipse cx="85.45" cy="278.78" rx="22.4895" ry="21.2497" fill="#06f406"/><path d="M85.45 278.78L107.94 278.78M85.45 278.78L106.84 272.21M85.45 278.78L103.64 266.29M85.45 278.78L98.67 261.59M85.45 278.78L92.40 258.57M85.45 278.78L85.45 257.53M85.45 278.78L78.50 258.57M85.45 278.78L72.23 261.59M85.45 278.78L67.26 266.29M85.45 278.78L64.06 272.21M85.45 278.78L62.96 278.78M85.45 278.78L64.06 285.35M85.45 278.78L67.26 291.27M85.45 278.78L72.23 295.97M85.45 278.78L78.50 298.99M85.45 278.78L85.45 300.03M85.45 278.78L92.40 298.99M85.45 278.78L98.67 295.97M85.45 278.78L103.64 291.27M85.45 278.78L106.84 285.35" stroke="#000" stroke-width=".32" stroke-opacity=".48" fill="none"/><circle cx="85.45" cy="278.78" r=".85" fill="#042008"/><clipPath id="k190"><ellipse cx="101.425" cy="308.09" rx="27.2976" ry="12.8964"/></clipPath><use href="#hm" x="7.9" y="190.85" width="155.1" height="146.55" clip-path="url(#k190)"/><polyline points="117.76,288.55 119.24,287.59 120.69,286.58 122.12,285.52 123.52,284.43 124.90,283.29 126.25,282.11 127.58,280.90 128.88,279.65 130.15,278.37 131.40,277.06 132.62,275.71 133.82,274.34 135.00,272.95 136.14,271.52 137.26,270.08 138.36,268.62 139.43,267.14 140.48,265.64 141.50,264.12 142.49,262.60 143.46,261.06 144.40,259.51 145.32,257.96 146.21,256.40 147.08,254.83 147.92,253.27 148.74,251.70 149.53,250.14 150.29,248.58 151.03,247.03 151.74,245.48 152.43,243.94 153.10,242.42 153.73,240.90 154.35,239.40 154.93,237.92 155.49,236.46 156.03,235.01 156.54,233.59" fill="none" stroke="#e81a40" stroke-width="1"/><polyline points="46.67,300.76 124.22,300.76 163.00,227.49 163.00,190.85" fill="none" stroke="#28ee78" stroke-width="1" stroke-dasharray="1.9 1.6"/><circle cx="46.675" cy="300.762" r="1" fill="#d020d0"/><circle cx="163" cy="190.85" r="1.5" fill="#e01010"/><text x="7.9" y="341.7" font-size="3.25" text-anchor="middle" fill="#202020" >0</text><text x="6.8" y="338.85" font-size="3.25" text-anchor="end" fill="#202020" >0</text><text x="23.41" y="341.7" font-size="3.25" text-anchor="middle" fill="#202020" >10</text><text x="6.8" y="324.195" font-size="3.25" text-anchor="end" fill="#202020" >10</text><text x="38.92" y="341.7" font-size="3.25" text-anchor="middle" fill="#202020" >20</text><text x="6.8" y="309.54" font-size="3.25" text-anchor="end" fill="#202020" >20</text><text x="54.43" y="341.7" font-size="3.25" text-anchor="middle" fill="#202020" >30</text><text x="6.8" y="294.885" font-size="3.25" text-anchor="end" fill="#202020" >30</text><text x="69.94" y="341.7" font-size="3.25" text-anchor="middle" fill="#202020" >40</text><text x="6.8" y="280.23" font-size="3.25" text-anchor="end" fill="#202020" >40</text><text x="85.45" y="341.7" font-size="3.25" text-anchor="middle" fill="#202020" >50</text><text x="6.8" y="265.575" font-size="3.25" text-anchor="end" fill="#202020" >50</text><text x="100.96" y="341.7" font-size="3.25" text-anchor="middle" fill="#202020" >60</text><text x="6.8" y="250.92" font-size="3.25" text-anchor="end" fill="#202020" >60</text><text x="116.47" y="341.7" font-size="3.25" text-anchor="middle" fill="#202020" >70</text><text x="6.8" y="236.265" font-size="3.25" text-anchor="end" fill="#202020" >70</text><text x="131.98" y="341.7" font-size="3.25" text-anchor="middle" fill="#202020" >80</text><text x="6.8" y="221.61" font-size="3.25" text-anchor="end" fill="#202020" >80</text><text x="147.49" y="341.7" font-size="3.25" text-anchor="middle" fill="#202020" >90</text><text x="6.8" y="206.955" font-size="3.25" text-anchor="end" fill="#202020" >90</text><text x="163" y="341.7" font-size="3.25" text-anchor="middle" fill="#202020" >100</text><text x="6.8" y="192.3" font-size="3.25" text-anchor="end" fill="#202020" >100</text><text x="85.4" y="189.65" font-size="3.67" text-anchor="middle" fill="#151515" textLength="36.7" lengthAdjust="spacingAndGlyphs" >Uniform cubic B-spline</text><use href="#hm" x="9" y="375.85" width="155.1" height="147.75"/><rect x="9.3" y="376.15" width="154.5" height="147.15" fill="none" stroke="#1a0c86" stroke-opacity=".45" stroke-width=".6"/><line x1="14.5836" y1="375.85" x2="14.5836" y2="523.6" stroke="#fff" stroke-opacity=".09" stroke-width=".5"/><line x1="47.775" y1="375.85" x2="47.775" y2="523.6" stroke="#fff" stroke-opacity=".09" stroke-width=".5"/><line x1="110.59" y1="375.85" x2="110.59" y2="523.6" stroke="#fff" stroke-opacity=".09" stroke-width=".5"/><line x1="143.937" y1="375.85" x2="143.937" y2="523.6" stroke="#fff" stroke-opacity=".09" stroke-width=".5"/><line x1="9" y1="486.663" x2="164.1" y2="486.663" stroke="#fff" stroke-opacity=".09" stroke-width=".5"/><line x1="9" y1="515.178" x2="164.1" y2="515.178" stroke="#fff" stroke-opacity=".09" stroke-width=".5"/><line x1="9" y1="420.175" x2="164.1" y2="420.175" stroke="#fff" stroke-opacity=".09" stroke-width=".5"/><ellipse cx="98.958" cy="408.355" rx="7.4448" ry="7.092" fill="url(#gm)"/><circle cx="98.958" cy="408.355" r=".7" fill="#222" fill-opacity=".7"/><ellipse cx="117.57" cy="420.175" rx="8.9958" ry="8.5695" fill="url(#gt)"/><circle cx="117.57" cy="420.175" r=".7" fill="#222" fill-opacity=".7"/><ellipse cx="86.55" cy="434.95" rx="4.653" ry="4.4325" fill="url(#gy)"/><circle cx="86.55" cy="434.95" r=".7" fill="#222" fill-opacity=".7"/><ellipse cx="86.55" cy="464.5" rx="22.4895" ry="21.4238" fill="#06f406"/><path d="M86.55 464.50L109.04 464.50M86.55 464.50L107.94 457.88M86.55 464.50L104.74 451.91M86.55 464.50L99.77 447.17M86.55 464.50L93.50 444.12M86.55 464.50L86.55 443.08M86.55 464.50L79.60 444.12M86.55 464.50L73.33 447.17M86.55 464.50L68.36 451.91M86.55 464.50L65.16 457.88M86.55 464.50L64.06 464.50M86.55 464.50L65.16 471.12M86.55 464.50L68.36 477.09M86.55 464.50L73.33 481.83M86.55 464.50L79.60 484.88M86.55 464.50L86.55 485.92M86.55 464.50L93.50 484.88M86.55 464.50L99.77 481.83M86.55 464.50L104.74 477.09M86.55 464.50L107.94 471.12" stroke="#000" stroke-width=".32" stroke-opacity=".48" fill="none"/><circle cx="86.55" cy="464.5" r=".85" fill="#042008"/><clipPath id="k375"><ellipse cx="102.525" cy="494.05" rx="27.2976" ry="13.002"/></clipPath><use href="#hm" x="9" y="375.85" width="155.1" height="147.75" clip-path="url(#k375)"/><polyline points="47.77,486.66 53.05,486.62 58.19,486.49 63.20,486.27 68.06,485.96 72.79,485.56 77.37,485.08 81.82,484.51 86.14,483.85 90.31,483.10 94.34,482.27 98.24,481.35 102.00,480.34 105.61,479.24 109.10,478.05 112.44,476.78 115.64,475.42 118.71,473.97 121.64,472.43 124.43,470.81 127.08,469.09 129.59,467.29 131.96,465.40 134.20,463.43 136.30,461.36 138.26,459.21 140.08,456.97 141.76,454.64 143.31,452.23 144.71,449.73 144.71,449.73 146.03,447.18 147.29,444.63 148.52,442.08 149.69,439.54 150.82,436.99 151.91,434.44 152.94,431.89 153.93,429.35 154.88,426.80 155.78,424.25 156.63,421.70 157.44,419.16 158.20,416.61 158.91,414.06 159.58,411.51 160.20,408.97 160.78,406.42 161.31,403.87 161.79,401.32 162.23,398.78 162.62,396.23 162.97,393.68 163.27,391.13 163.52,388.59 163.73,386.04 163.89,383.49 164.01,380.94 164.08,378.40 164.10,375.85" fill="none" stroke="#e81a40" stroke-width="1"/><polyline points="47.77,486.66 125.32,486.66 164.10,412.79 164.10,375.85" fill="none" stroke="#28ee78" stroke-width="1" stroke-dasharray="1.9 1.6"/><circle cx="47.775" cy="486.663" r="1" fill="#d020d0"/><circle cx="164.1" cy="375.85" r="1.5" fill="#e01010"/><text x="9" y="528.8" font-size="3.25" text-anchor="middle" fill="#202020" >0</text><text x="7.9" y="525.05" font-size="3.25" text-anchor="end" fill="#202020" >0</text><text x="24.51" y="528.8" font-size="3.25" text-anchor="middle" fill="#202020" >10</text><text x="7.9" y="510.275" font-size="3.25" text-anchor="end" fill="#202020" >10</text><text x="40.02" y="528.8" font-size="3.25" text-anchor="middle" fill="#202020" >20</text><text x="7.9" y="495.5" font-size="3.25" text-anchor="end" fill="#202020" >20</text><text x="55.53" y="528.8" font-size="3.25" text-anchor="middle" fill="#202020" >30</text><text x="7.9" y="480.725" font-size="3.25" text-anchor="end" fill="#202020" >30</text><text x="71.04" y="528.8" font-size="3.25" text-anchor="middle" fill="#202020" >40</text><text x="7.9" y="465.95" font-size="3.25" text-anchor="end" fill="#202020" >40</text><text x="86.55" y="528.8" font-size="3.25" text-anchor="middle" fill="#202020" >50</text><text x="7.9" y="451.175" font-size="3.25" text-anchor="end" fill="#202020" >50</text><text x="102.06" y="528.8" font-size="3.25" text-anchor="middle" fill="#202020" >60</text><text x="7.9" y="436.4" font-size="3.25" text-anchor="end" fill="#202020" >60</text><text x="117.57" y="528.8" font-size="3.25" text-anchor="middle" fill="#202020" >70</text><text x="7.9" y="421.625" font-size="3.25" text-anchor="end" fill="#202020" >70</text><text x="133.08" y="528.8" font-size="3.25" text-anchor="middle" fill="#202020" >80</text><text x="7.9" y="406.85" font-size="3.25" text-anchor="end" fill="#202020" >80</text><text x="148.59" y="528.8" font-size="3.25" text-anchor="middle" fill="#202020" >90</text><text x="7.9" y="392.075" font-size="3.25" text-anchor="end" fill="#202020" >90</text><text x="164.1" y="528.8" font-size="3.25" text-anchor="middle" fill="#202020" >100</text><text x="7.9" y="377.3" font-size="3.25" text-anchor="end" fill="#202020" >100</text><text x="86.4" y="374.65" font-size="3.66" text-anchor="middle" fill="#151515" textLength="57" lengthAdjust="spacingAndGlyphs" >Equally spaced quadratic B-splines</text><path d="M191.2 7.6V147.4H378.839" stroke="#bdbdbd" stroke-width=".6" fill="none"/><text x="189.1" y="148.95" font-size="4.3" text-anchor="end" fill="#151515" >0</text><text x="189.1" y="134.97" font-size="4.3" text-anchor="end" fill="#151515" >0.5</text><text x="189.1" y="120.99" font-size="4.3" text-anchor="end" fill="#151515" >1</text><text x="189.1" y="107.01" font-size="4.3" text-anchor="end" fill="#151515" >1.5</text><text x="189.1" y="93.03" font-size="4.3" text-anchor="end" fill="#151515" >2</text><text x="189.1" y="79.05" font-size="4.3" text-anchor="end" fill="#151515" >2.5</text><text x="189.1" y="65.07" font-size="4.3" text-anchor="end" fill="#151515" >3</text><text x="189.1" y="51.09" font-size="4.3" text-anchor="end" fill="#151515" >3.5</text><text x="189.1" y="37.11" font-size="4.3" text-anchor="end" fill="#151515" >4</text><text x="189.1" y="23.13" font-size="4.3" text-anchor="end" fill="#151515" >4.5</text><text x="189.1" y="9.15" font-size="4.3" text-anchor="end" fill="#151515" >5</text><text x="191.2" y="153.3" font-size="4.3" text-anchor="middle" fill="#151515" >0</text><text x="212.62" y="153.3" font-size="4.3" text-anchor="middle" fill="#151515" >10</text><text x="234.04" y="153.3" font-size="4.3" text-anchor="middle" fill="#151515" >20</text><text x="255.46" y="153.3" font-size="4.3" text-anchor="middle" fill="#151515" >30</text><text x="276.88" y="153.3" font-size="4.3" text-anchor="middle" fill="#151515" >40</text><text x="298.3" y="153.3" font-size="4.3" text-anchor="middle" fill="#151515" >50</text><text x="319.72" y="153.3" font-size="4.3" text-anchor="middle" fill="#151515" >60</text><text x="341.14" y="153.3" font-size="4.3" text-anchor="middle" fill="#151515" >70</text><text x="362.56" y="153.3" font-size="4.3" text-anchor="middle" fill="#151515" >80</text><path d="M191.2 147.4h1.5M191.2 133.42h1.5M191.2 119.44h1.5M191.2 105.46h1.5M191.2 91.48h1.5M191.2 77.5h1.5M191.2 63.52h1.5M191.2 49.54h1.5M191.2 35.56h1.5M191.2 21.58h1.5M191.2 7.6h1.5M191.2 147.4v-1.5M212.62 147.4v-1.5M234.04 147.4v-1.5M255.46 147.4v-1.5M276.88 147.4v-1.5M298.3 147.4v-1.5M319.72 147.4v-1.5M341.14 147.4v-1.5M362.56 147.4v-1.5" stroke="#b4b4b4" stroke-width=".5" fill="none"/><line x1="191.2" y1="144.604" x2="378.839" y2="144.604" stroke="#f7a8f7" stroke-width="0.75"/><path d="M191.20 147.40L191.20 70.34L191.72 69.28L192.25 68.25L192.77 67.24L193.29 66.26L193.81 65.31L194.34 64.39L194.86 63.50L195.38 62.64L195.90 61.82L196.43 61.03L196.95 60.28L197.47 59.57L197.99 58.89L198.52 58.25L199.04 57.66L199.56 57.10L200.09 56.59L200.61 56.12L201.13 55.69L201.65 55.31L202.18 54.97L202.70 54.67L203.22 54.42L203.74 54.22L204.27 54.07L204.79 53.95L205.31 53.89L205.83 53.87L206.36 53.92L206.88 54.02L207.40 54.20L207.93 54.43L208.45 54.74L208.97 55.10L209.49 55.53L210.02 56.03L210.54 56.58L211.06 57.20L211.58 57.87L212.11 58.60L212.63 59.39L213.15 60.23L213.67 61.12L214.20 62.07L214.72 63.06L215.24 64.10L215.77 65.19L216.29 66.32L216.81 67.49L217.33 68.69L217.86 69.94L218.38 71.22L218.90 72.52L219.42 73.86L219.95 75.23L220.47 76.62L220.99 78.03L221.51 79.46L222.04 80.91L222.56 82.37L223.08 83.84L223.61 85.33L224.13 86.82L224.65 88.31L225.17 89.81L225.70 91.31L226.22 92.81L226.74 94.31L227.26 95.80L227.79 97.28L228.31 98.76L228.83 100.22L229.36 101.67L229.88 103.10L230.40 104.52L230.92 105.92L231.45 107.30L231.97 108.67L232.49 110.01L233.01 111.32L233.54 112.62L234.06 113.88L234.58 115.13L235.10 116.34L235.63 117.53L236.15 118.69L236.67 119.82L237.20 120.93L237.72 122.00L238.24 123.04L238.76 124.05L239.29 125.04L239.81 125.99L240.33 126.91L240.85 127.79L241.38 128.65L241.90 129.48L242.42 130.28L242.94 131.04L243.47 131.78L243.99 132.48L244.51 133.15L245.04 133.80L245.56 134.41L246.08 135.00L246.60 135.56L247.13 136.09L247.65 136.59L248.17 137.06L248.69 137.51L249.22 137.92L249.74 138.32L250.26 138.68L250.78 139.03L251.31 139.34L251.83 139.63L252.35 139.90L252.88 140.15L253.40 140.37L253.92 140.57L254.44 140.74L254.97 140.90L255.49 141.03L256.01 141.14L256.53 141.23L257.06 141.30L257.58 141.35L258.10 141.38L258.62 141.39L259.15 141.38L259.67 141.36L260.19 141.31L260.72 141.25L261.24 141.16L261.76 141.06L262.28 140.95L262.81 140.81L263.33 140.66L263.85 140.49L264.37 140.30L264.90 140.10L265.42 139.88L265.94 139.65L266.46 139.40L266.99 139.13L267.51 138.85L268.03 138.55L268.56 138.24L269.08 137.91L269.60 137.57L270.12 137.21L270.65 136.84L271.17 136.45L271.69 136.06L272.21 135.64L272.74 135.22L273.26 134.78L273.78 134.33L274.30 133.87L274.83 133.39L275.35 132.90L275.87 132.41L276.40 131.90L276.92 131.38L277.44 130.85L277.96 130.32L278.49 129.77L279.01 129.22L279.53 128.66L280.05 128.09L280.58 127.51L281.10 126.93L281.62 126.35L282.14 125.76L282.67 125.16L283.19 124.57L283.71 123.97L284.24 123.37L284.76 122.77L285.28 122.17L285.80 121.57L286.33 120.97L286.85 120.38L287.37 119.79L287.89 119.20L288.42 118.62L288.94 118.05L289.46 117.48L289.98 116.92L290.51 116.37L291.03 115.83L291.55 115.31L292.08 114.79L292.60 114.28L293.12 113.79L293.64 113.32L294.17 112.85L294.69 112.41L295.21 111.98L295.73 111.57L296.26 111.17L296.78 110.80L297.30 110.44L297.83 110.11L298.35 109.80L298.87 109.50L299.39 109.23L299.92 108.99L300.44 108.76L300.96 108.56L301.48 108.39L302.01 108.23L302.53 108.10L303.05 108.00L303.57 107.92L304.10 107.87L304.62 107.84L305.14 107.84L305.67 107.86L306.19 107.92L306.71 108.00L307.23 108.12L307.76 108.26L308.28 108.43L308.80 108.63L309.32 108.86L309.85 109.11L310.37 109.39L310.89 109.70L311.41 110.03L311.94 110.39L312.46 110.77L312.98 111.17L313.51 111.59L314.03 112.04L314.55 112.51L315.07 112.99L315.60 113.50L316.12 114.02L316.64 114.56L317.16 115.11L317.69 115.68L318.21 116.26L318.73 116.85L319.25 117.45L319.78 118.06L320.30 118.69L320.82 119.31L321.35 119.95L321.87 120.59L322.39 121.23L322.91 121.88L323.44 122.53L323.96 123.18L324.48 123.83L325.00 124.48L325.53 125.13L326.05 125.78L326.57 126.42L327.09 127.06L327.62 127.69L328.14 128.31L328.66 128.93L329.19 129.54L329.71 130.15L330.23 130.74L330.75 131.33L331.28 131.91L331.80 132.47L332.32 133.03L332.84 133.57L333.37 134.10L333.89 134.62L334.41 135.13L334.93 135.63L335.46 136.11L335.98 136.58L336.50 137.04L337.03 137.48L337.55 137.92L338.07 138.33L338.59 138.74L339.12 139.13L339.64 139.51L340.16 139.88L340.68 140.23L341.21 140.57L341.73 140.90L342.25 141.22L342.77 141.52L343.30 141.81L343.82 142.09L344.34 142.36L344.87 142.61L345.39 142.86L345.91 143.09L346.43 143.32L346.96 143.53L347.48 143.73L348.00 143.89L348.52 144.00L349.05 143.97L349.57 143.74L350.09 143.25L350.61 142.60L351.14 142.08L351.66 141.96L352.18 142.39L352.71 143.20L353.23 144.10L353.75 144.83L354.27 145.32L354.80 145.60L355.32 145.76L355.84 145.87L356.36 145.95L356.89 146.02L357.41 146.09L357.93 146.16L358.45 146.22L358.98 146.28L359.50 146.33L360.02 146.38L360.55 146.42L361.07 146.47L361.59 146.51L362.11 146.54L362.64 146.56L363.16 146.54L363.68 146.44L364.20 146.16L364.73 145.57L365.25 144.58L365.77 143.23L366.30 141.79L366.82 140.70L367.34 140.37L367.86 140.96L368.39 142.22L368.91 143.71L369.43 145.02L369.95 145.93L370.48 146.47L371.00 146.73L371.52 146.84L372.04 146.89L372.57 146.90L373.09 146.91L373.61 146.92L374.14 146.92L374.66 146.92L375.18 146.89L375.70 146.80L376.23 146.56L376.75 146.05L377.27 145.15L377.79 143.84L378.32 142.30L378.84 140.95L378.84 147.40Z" fill="#00ffff"/><clipPath id="cb"><path d="M191.20 147.40L191.20 70.34L191.72 69.28L192.25 68.25L192.77 67.24L193.29 66.26L193.81 65.31L194.34 64.39L194.86 63.50L195.38 62.64L195.90 61.82L196.43 61.03L196.95 60.28L197.47 59.57L197.99 58.89L198.52 58.25L199.04 57.66L199.56 57.10L200.09 56.59L200.61 56.12L201.13 55.69L201.65 55.31L202.18 54.97L202.70 54.67L203.22 54.42L203.74 54.22L204.27 54.07L204.79 53.95L205.31 53.89L205.83 53.87L206.36 53.92L206.88 54.02L207.40 54.20L207.93 54.43L208.45 54.74L208.97 55.10L209.49 55.53L210.02 56.03L210.54 56.58L211.06 57.20L211.58 57.87L212.11 58.60L212.63 59.39L213.15 60.23L213.67 61.12L214.20 62.07L214.72 63.06L215.24 64.10L215.77 65.19L216.29 66.32L216.81 67.49L217.33 68.69L217.86 69.94L218.38 71.22L218.90 72.52L219.42 73.86L219.95 75.23L220.47 76.62L220.99 78.03L221.51 79.46L222.04 80.91L222.56 82.37L223.08 83.84L223.61 85.33L224.13 86.82L224.65 88.31L225.17 89.81L225.70 91.31L226.22 92.81L226.74 94.31L227.26 95.80L227.79 97.28L228.31 98.76L228.83 100.22L229.36 101.67L229.88 103.10L230.40 104.52L230.92 105.92L231.45 107.30L231.97 108.67L232.49 110.01L233.01 111.32L233.54 112.62L234.06 113.88L234.58 115.13L235.10 116.34L235.63 117.53L236.15 118.69L236.67 119.82L237.20 120.93L237.72 122.00L238.24 123.04L238.76 124.05L239.29 125.04L239.81 125.99L240.33 126.91L240.85 127.79L241.38 128.65L241.90 129.48L242.42 130.28L242.94 131.04L243.47 131.78L243.99 132.48L244.51 133.15L245.04 133.80L245.56 134.41L246.08 135.00L246.60 135.56L247.13 136.09L247.65 136.59L248.17 137.06L248.69 137.51L249.22 137.92L249.74 138.32L250.26 138.68L250.78 139.03L251.31 139.34L251.83 139.63L252.35 139.90L252.88 140.15L253.40 140.37L253.92 140.57L254.44 140.74L254.97 140.90L255.49 141.03L256.01 141.14L256.53 141.23L257.06 141.30L257.58 141.35L258.10 141.38L258.62 141.39L259.15 141.38L259.67 141.36L260.19 141.31L260.72 141.25L261.24 141.16L261.76 141.06L262.28 140.95L262.81 140.81L263.33 140.66L263.85 140.49L264.37 140.30L264.90 140.10L265.42 139.88L265.94 139.65L266.46 139.40L266.99 139.13L267.51 138.85L268.03 138.55L268.56 138.24L269.08 137.91L269.60 137.57L270.12 137.21L270.65 136.84L271.17 136.45L271.69 136.06L272.21 135.64L272.74 135.22L273.26 134.78L273.78 134.33L274.30 133.87L274.83 133.39L275.35 132.90L275.87 132.41L276.40 131.90L276.92 131.38L277.44 130.85L277.96 130.32L278.49 129.77L279.01 129.22L279.53 128.66L280.05 128.09L280.58 127.51L281.10 126.93L281.62 126.35L282.14 125.76L282.67 125.16L283.19 124.57L283.71 123.97L284.24 123.37L284.76 122.77L285.28 122.17L285.80 121.57L286.33 120.97L286.85 120.38L287.37 119.79L287.89 119.20L288.42 118.62L288.94 118.05L289.46 117.48L289.98 116.92L290.51 116.37L291.03 115.83L291.55 115.31L292.08 114.79L292.60 114.28L293.12 113.79L293.64 113.32L294.17 112.85L294.69 112.41L295.21 111.98L295.73 111.57L296.26 111.17L296.78 110.80L297.30 110.44L297.83 110.11L298.35 109.80L298.87 109.50L299.39 109.23L299.92 108.99L300.44 108.76L300.96 108.56L301.48 108.39L302.01 108.23L302.53 108.10L303.05 108.00L303.57 107.92L304.10 107.87L304.62 107.84L305.14 107.84L305.67 107.86L306.19 107.92L306.71 108.00L307.23 108.12L307.76 108.26L308.28 108.43L308.80 108.63L309.32 108.86L309.85 109.11L310.37 109.39L310.89 109.70L311.41 110.03L311.94 110.39L312.46 110.77L312.98 111.17L313.51 111.59L314.03 112.04L314.55 112.51L315.07 112.99L315.60 113.50L316.12 114.02L316.64 114.56L317.16 115.11L317.69 115.68L318.21 116.26L318.73 116.85L319.25 117.45L319.78 118.06L320.30 118.69L320.82 119.31L321.35 119.95L321.87 120.59L322.39 121.23L322.91 121.88L323.44 122.53L323.96 123.18L324.48 123.83L325.00 124.48L325.53 125.13L326.05 125.78L326.57 126.42L327.09 127.06L327.62 127.69L328.14 128.31L328.66 128.93L329.19 129.54L329.71 130.15L330.23 130.74L330.75 131.33L331.28 131.91L331.80 132.47L332.32 133.03L332.84 133.57L333.37 134.10L333.89 134.62L334.41 135.13L334.93 135.63L335.46 136.11L335.98 136.58L336.50 137.04L337.03 137.48L337.55 137.92L338.07 138.33L338.59 138.74L339.12 139.13L339.64 139.51L340.16 139.88L340.68 140.23L341.21 140.57L341.73 140.90L342.25 141.22L342.77 141.52L343.30 141.81L343.82 142.09L344.34 142.36L344.87 142.61L345.39 142.86L345.91 143.09L346.43 143.32L346.96 143.53L347.48 143.73L348.00 143.89L348.52 144.00L349.05 143.97L349.57 143.74L350.09 143.25L350.61 142.60L351.14 142.08L351.66 141.96L352.18 142.39L352.71 143.20L353.23 144.10L353.75 144.83L354.27 145.32L354.80 145.60L355.32 145.76L355.84 145.87L356.36 145.95L356.89 146.02L357.41 146.09L357.93 146.16L358.45 146.22L358.98 146.28L359.50 146.33L360.02 146.38L360.55 146.42L361.07 146.47L361.59 146.51L362.11 146.54L362.64 146.56L363.16 146.54L363.68 146.44L364.20 146.16L364.73 145.57L365.25 144.58L365.77 143.23L366.30 141.79L366.82 140.70L367.34 140.37L367.86 140.96L368.39 142.22L368.91 143.71L369.43 145.02L369.95 145.93L370.48 146.47L371.00 146.73L371.52 146.84L372.04 146.89L372.57 146.90L373.09 146.91L373.61 146.92L374.14 146.92L374.66 146.92L375.18 146.89L375.70 146.80L376.23 146.56L376.75 146.05L377.27 145.15L377.79 143.84L378.32 142.30L378.84 140.95L378.84 147.40Z"/></clipPath><line x1="191.2" y1="144.604" x2="378.839" y2="144.604" stroke="#25c8f5" stroke-width="0.85" clip-path="url(#cb)"/><line x1="191.2" y1="7.6" x2="378.839" y2="7.6" stroke="#f88c8c" stroke-width="0.8"/><polyline points="191.20,42.43 192.14,41.74 193.09,41.06 194.03,40.39 194.97,39.74 195.91,39.10 196.86,38.47 197.80,37.86 198.74,37.26 199.69,36.68 200.63,36.11 201.57,35.56 202.51,35.02 203.46,34.50 204.40,33.99 205.34,33.49 206.29,33.01 207.23,32.54 208.17,32.09 209.12,31.65 210.06,31.22 211.00,30.81 211.94,30.42 212.89,30.04 213.83,29.67 214.77,29.32 215.72,28.98 216.66,28.65 217.60,28.34 218.54,28.05 219.49,27.77 220.43,27.50 221.37,27.25 222.32,27.01 223.26,26.78 224.20,26.57 225.14,26.38 226.09,26.19 227.03,26.02 227.97,25.87 228.92,25.73 229.86,25.60 230.80,25.49 231.75,25.39 232.69,25.30 233.63,25.23 234.57,25.17 235.52,25.12 236.46,25.08 237.40,25.06 238.35,25.06 239.29,25.06 240.23,25.08 241.17,25.11 242.12,25.16 243.06,25.21 244.00,25.28 244.95,25.36 245.89,25.45 246.83,25.56 247.77,25.68 248.72,25.81 249.66,25.95 250.60,26.10 251.55,26.26 252.49,26.44 253.43,26.63 254.38,26.82 255.32,27.03 256.26,27.25 257.20,27.48 258.15,27.72 259.09,27.97 260.03,28.23 260.98,28.51 261.92,28.79 262.86,29.08 263.80,29.38 264.75,29.69 265.69,30.01 266.63,30.34 267.58,30.67 268.52,31.02 269.46,31.37 270.40,31.74 271.35,32.11 272.29,32.49 273.23,32.87 274.18,33.27 275.12,33.67 276.06,34.08 277.00,34.49 277.95,34.91 278.89,35.34 279.83,35.78 280.78,36.22 281.72,36.67 282.66,37.12 283.61,37.58 284.55,38.04 285.49,38.51 286.43,38.98 287.38,39.46 288.32,39.95 289.26,40.43 290.21,40.92 291.15,41.42 292.09,41.92 293.03,42.42 293.98,42.93 294.92,43.44 295.86,43.95 296.81,44.46 297.75,44.98 298.69,45.50 299.63,46.02 300.58,46.55 301.52,47.07 302.46,47.60 303.41,48.13 304.35,48.66 305.29,49.19 306.24,49.72 307.18,50.25 308.12,50.78 309.06,51.32 310.01,51.85 310.95,52.38 311.89,52.91 312.84,53.44 313.78,53.97 314.72,54.50 315.66,55.03 316.61,55.55 317.55,56.08 318.49,56.60 319.44,57.12 320.38,57.64 321.32,58.16 322.26,58.67 323.21,59.18 324.15,59.69 325.09,60.19 326.04,60.69 326.98,61.19 327.92,61.68 328.86,62.17 329.81,62.65 330.75,63.14 331.69,63.61 332.64,64.08 333.58,64.55 334.52,65.01 335.47,65.46 336.41,65.91 337.35,66.36 338.29,66.80 339.24,67.23 340.18,67.65 341.12,68.07 342.07,68.48 343.01,68.89 343.95,69.29 344.89,69.68 345.84,70.06 346.78,70.44 347.72,70.80 348.67,71.16 349.61,71.51 350.55,71.86 351.49,72.19 352.44,72.52 353.38,72.83 354.32,73.14 355.27,73.43 356.21,73.72 357.15,74.00 358.10,74.27 359.04,74.52 359.98,74.77 360.92,75.00 361.87,75.23 362.81,75.44 363.75,75.65 364.70,75.84 365.64,76.02 366.58,76.18 367.52,76.34 368.47,76.48 369.41,76.61 370.35,76.73 371.30,76.84 372.24,76.93 373.18,77.01 374.12,77.08 375.07,77.13 376.01,77.17 376.95,77.19 377.90,77.20 378.84,77.20" fill="none" stroke="#9090ff" stroke-width=".85"/><text x="285.02" y="5.6" font-size="4.9" text-anchor="middle" fill="#0c0c0c" textLength="72.3" lengthAdjust="spacingAndGlyphs" >Uniform quadratic B-spline profile</text><text x="285.32" y="159.5" font-size="4.85" text-anchor="middle" fill="#151515" class="cj">Flight distance（km）</text><text transform="translate(180.8 76.9) rotate(-90)" font-size="4.85" text-anchor="middle" fill="#151515" class="cj">Flight altitude（km）</text><rect x="382.5" y="66.2" width="87.9" height="23" fill="#fff" stroke="#8e8e8e" stroke-width=".55"/><line x1="384.1" y1="69.7" x2="396.6" y2="69.7" stroke="#ffa4a4" stroke-width=".75"/><text x="398.4" y="71.15" font-size="4" text-anchor="start" fill="#0c0c0c" textLength="47" lengthAdjust="spacingAndGlyphs" >Upper limit of flight altitude</text><line x1="384.1" y1="75" x2="396.6" y2="75" stroke="#ffa4ff" stroke-width=".75"/><text x="398.4" y="76.45" font-size="4" text-anchor="start" fill="#0c0c0c" textLength="42.8" lengthAdjust="spacingAndGlyphs" >Flight altitude lower limit</text><line x1="384.1" y1="80.3" x2="396.6" y2="80.3" stroke="#a4a4ff" stroke-width=".75"/><text x="398.4" y="81.75" font-size="4" text-anchor="start" fill="#0c0c0c" textLength="70.6" lengthAdjust="spacingAndGlyphs" >Planned track vertical section projection</text><rect x="384.1" y="83.3" width="12.5" height="4.2" fill="#00ffff"/><text x="398.4" y="87.05" font-size="4" text-anchor="start" fill="#0c0c0c" textLength="49.5" lengthAdjust="spacingAndGlyphs" >Topographic vertical section</text><text x="233.5" y="176.2" font-size="9.3" text-anchor="middle" fill="#1a1a1a" class="cap">(<tspan font-weight="bold">b</tspan>)</text><path d="M190.3 191.9V332H378.49" stroke="#bdbdbd" stroke-width=".6" fill="none"/><text x="188.2" y="333.55" font-size="4.3" text-anchor="end" fill="#151515" >0</text><text x="188.2" y="319.54" font-size="4.3" text-anchor="end" fill="#151515" >0.5</text><text x="188.2" y="305.53" font-size="4.3" text-anchor="end" fill="#151515" >1</text><text x="188.2" y="291.52" font-size="4.3" text-anchor="end" fill="#151515" >1.5</text><text x="188.2" y="277.51" font-size="4.3" text-anchor="end" fill="#151515" >2</text><text x="188.2" y="263.5" font-size="4.3" text-anchor="end" fill="#151515" >2.5</text><text x="188.2" y="249.49" font-size="4.3" text-anchor="end" fill="#151515" >3</text><text x="188.2" y="235.48" font-size="4.3" text-anchor="end" fill="#151515" >3.5</text><text x="188.2" y="221.47" font-size="4.3" text-anchor="end" fill="#151515" >4</text><text x="188.2" y="207.46" font-size="4.3" text-anchor="end" fill="#151515" >4.5</text><text x="188.2" y="193.45" font-size="4.3" text-anchor="end" fill="#151515" >5</text><text x="190.3" y="337.9" font-size="4.3" text-anchor="middle" fill="#151515" >0</text><text x="210.8" y="337.9" font-size="4.3" text-anchor="middle" fill="#151515" >5</text><text x="231.3" y="337.9" font-size="4.3" text-anchor="middle" fill="#151515" >10</text><text x="251.8" y="337.9" font-size="4.3" text-anchor="middle" fill="#151515" >15</text><text x="272.3" y="337.9" font-size="4.3" text-anchor="middle" fill="#151515" >20</text><text x="292.8" y="337.9" font-size="4.3" text-anchor="middle" fill="#151515" >25</text><text x="313.3" y="337.9" font-size="4.3" text-anchor="middle" fill="#151515" >30</text><text x="333.8" y="337.9" font-size="4.3" text-anchor="middle" fill="#151515" >35</text><text x="354.3" y="337.9" font-size="4.3" text-anchor="middle" fill="#151515" >40</text><text x="374.8" y="337.9" font-size="4.3" text-anchor="middle" fill="#151515" >45</text><path d="M190.3 332h1.5M190.3 317.99h1.5M190.3 303.98h1.5M190.3 289.97h1.5M190.3 275.96h1.5M190.3 261.95h1.5M190.3 247.94h1.5M190.3 233.93h1.5M190.3 219.92h1.5M190.3 205.91h1.5M190.3 191.9h1.5M190.3 332v-1.5M210.8 332v-1.5M231.3 332v-1.5M251.8 332v-1.5M272.3 332v-1.5M292.8 332v-1.5M313.3 332v-1.5M333.8 332v-1.5M354.3 332v-1.5M374.8 332v-1.5" stroke="#b4b4b4" stroke-width=".5" fill="none"/><line x1="190.3" y1="329.198" x2="378.49" y2="329.198" stroke="#f7a8f7" stroke-width="1.6"/><path d="M190.30 332.00L190.30 320.00L190.82 320.25L191.35 320.52L191.87 320.79L192.40 321.06L192.92 321.34L193.45 321.62L193.97 321.90L194.49 322.19L195.02 322.47L195.54 322.75L196.07 323.03L196.59 323.31L197.11 323.59L197.64 323.86L198.16 324.13L198.69 324.39L199.21 324.65L199.74 324.90L200.26 325.14L200.78 325.38L201.31 325.61L201.83 325.84L202.36 326.05L202.88 326.26L203.41 326.46L203.93 326.65L204.45 326.83L204.98 327.00L205.50 327.17L206.03 327.32L206.55 327.47L207.07 327.60L207.60 327.73L208.12 327.84L208.65 327.95L209.17 328.05L209.70 328.13L210.22 328.21L210.74 328.28L211.27 328.33L211.79 328.36L212.32 328.38L212.84 328.36L213.37 328.32L213.89 328.23L214.41 328.09L214.94 327.89L215.46 327.62L215.99 327.27L216.51 326.86L217.03 326.38L217.56 325.85L218.08 325.31L218.61 324.79L219.13 324.32L219.66 323.94L220.18 323.68L220.70 323.55L221.23 323.58L221.75 323.74L222.28 324.01L222.80 324.36L223.32 324.76L223.85 325.17L224.37 325.56L224.90 325.90L225.42 326.18L225.95 326.38L226.47 326.52L226.99 326.59L227.52 326.61L228.04 326.58L228.57 326.51L229.09 326.42L229.62 326.30L230.14 326.17L230.66 326.03L231.19 325.89L231.71 325.73L232.24 325.57L232.76 325.41L233.28 325.24L233.81 325.07L234.33 324.89L234.86 324.71L235.38 324.53L235.91 324.34L236.43 324.15L236.95 323.96L237.48 323.76L238.00 323.56L238.53 323.36L239.05 323.15L239.58 322.94L240.10 322.72L240.62 322.51L241.15 322.28L241.67 322.06L242.20 321.83L242.72 321.60L243.24 321.36L243.77 321.12L244.29 320.88L244.82 320.63L245.34 320.38L245.87 320.13L246.39 319.87L246.91 319.61L247.44 319.35L247.96 319.09L248.49 318.82L249.01 318.54L249.54 318.27L250.06 317.99L250.58 317.71L251.11 317.42L251.63 317.14L252.16 316.84L252.68 316.55L253.20 316.25L253.73 315.96L254.25 315.65L254.78 315.35L255.30 315.04L255.83 314.73L256.35 314.42L256.87 314.10L257.40 313.79L257.92 313.47L258.45 313.15L258.97 312.82L259.50 312.50L260.02 312.17L260.54 311.84L261.07 311.51L261.59 311.18L262.12 310.84L262.64 310.50L263.16 310.17L263.69 309.83L264.21 309.49L264.74 309.15L265.26 308.81L265.79 308.46L266.31 308.12L266.83 307.78L267.36 307.43L267.88 307.09L268.41 306.74L268.93 306.40L269.46 306.05L269.98 305.71L270.50 305.36L271.03 305.02L271.55 304.67L272.08 304.33L272.60 303.99L273.12 303.64L273.65 303.30L274.17 302.96L274.70 302.62L275.22 302.29L275.75 301.95L276.27 301.62L276.79 301.29L277.32 300.96L277.84 300.63L278.37 300.30L278.89 299.98L279.42 299.66L279.94 299.34L280.46 299.03L280.99 298.72L281.51 298.41L282.04 298.10L282.56 297.80L283.08 297.50L283.61 297.21L284.13 296.92L284.66 296.63L285.18 296.35L285.71 296.07L286.23 295.79L286.75 295.52L287.28 295.26L287.80 295.00L288.33 294.74L288.85 294.49L289.37 294.25L289.90 294.01L290.42 293.77L290.95 293.54L291.47 293.32L292.00 293.10L292.52 292.89L293.04 292.68L293.57 292.49L294.09 292.29L294.62 292.10L295.14 291.92L295.67 291.75L296.19 291.58L296.71 291.42L297.24 291.27L297.76 291.12L298.29 290.98L298.81 290.84L299.33 290.72L299.86 290.60L300.38 290.48L300.91 290.38L301.43 290.28L301.96 290.19L302.48 290.11L303.00 290.03L303.53 289.96L304.05 289.90L304.58 289.85L305.10 289.80L305.63 289.77L306.15 289.74L306.67 289.71L307.20 289.70L307.72 289.69L308.25 289.69L308.77 289.70L309.29 289.71L309.82 289.73L310.34 289.76L310.87 289.80L311.39 289.84L311.92 289.89L312.44 289.94L312.96 290.00L313.49 290.07L314.01 290.15L314.54 290.23L315.06 290.32L315.59 290.41L316.11 290.52L316.63 290.62L317.16 290.74L317.68 290.86L318.21 290.99L318.73 291.12L319.25 291.26L319.78 291.41L320.30 291.56L320.83 291.72L321.35 291.88L321.88 292.05L322.40 292.23L322.92 292.41L323.45 292.60L323.97 292.79L324.50 292.99L325.02 293.19L325.55 293.40L326.07 293.62L326.59 293.84L327.12 294.06L327.64 294.29L328.17 294.52L328.69 294.76L329.21 295.01L329.74 295.25L330.26 295.50L330.79 295.76L331.31 296.02L331.84 296.28L332.36 296.55L332.88 296.82L333.41 297.10L333.93 297.38L334.46 297.66L334.98 297.94L335.51 298.23L336.03 298.52L336.55 298.82L337.08 299.11L337.60 299.41L338.13 299.72L338.65 300.02L339.17 300.33L339.70 300.64L340.22 300.95L340.75 301.26L341.27 301.58L341.80 301.89L342.32 302.21L342.84 302.53L343.37 302.85L343.89 303.18L344.42 303.50L344.94 303.82L345.47 304.15L345.99 304.48L346.51 304.80L347.04 305.13L347.56 305.46L348.09 305.78L348.61 306.11L349.13 306.44L349.66 306.77L350.18 307.10L350.71 307.42L351.23 307.75L351.76 308.08L352.28 308.40L352.80 308.73L353.33 309.06L353.85 309.38L354.38 309.70L354.90 310.02L355.42 310.35L355.95 310.67L356.47 310.98L357.00 311.30L357.52 311.62L358.05 311.93L358.57 312.24L359.09 312.55L359.62 312.86L360.14 313.17L360.67 313.48L361.19 313.78L361.72 314.08L362.24 314.38L362.76 314.68L363.29 314.97L363.81 315.27L364.34 315.56L364.86 315.84L365.38 316.13L365.91 316.41L366.43 316.69L366.96 316.97L367.48 317.24L368.01 317.52L368.53 317.79L369.05 318.05L369.58 318.32L370.10 318.58L370.63 318.84L371.15 319.09L371.68 319.35L372.20 319.60L372.72 319.84L373.25 320.09L373.77 320.33L374.30 320.57L374.82 320.80L375.34 321.03L375.87 321.26L376.39 321.49L376.92 321.71L377.44 321.93L377.97 322.15L378.49 322.36L378.49 332.00Z" fill="#00ffff"/><clipPath id="cc"><path d="M190.30 332.00L190.30 320.00L190.82 320.25L191.35 320.52L191.87 320.79L192.40 321.06L192.92 321.34L193.45 321.62L193.97 321.90L194.49 322.19L195.02 322.47L195.54 322.75L196.07 323.03L196.59 323.31L197.11 323.59L197.64 323.86L198.16 324.13L198.69 324.39L199.21 324.65L199.74 324.90L200.26 325.14L200.78 325.38L201.31 325.61L201.83 325.84L202.36 326.05L202.88 326.26L203.41 326.46L203.93 326.65L204.45 326.83L204.98 327.00L205.50 327.17L206.03 327.32L206.55 327.47L207.07 327.60L207.60 327.73L208.12 327.84L208.65 327.95L209.17 328.05L209.70 328.13L210.22 328.21L210.74 328.28L211.27 328.33L211.79 328.36L212.32 328.38L212.84 328.36L213.37 328.32L213.89 328.23L214.41 328.09L214.94 327.89L215.46 327.62L215.99 327.27L216.51 326.86L217.03 326.38L217.56 325.85L218.08 325.31L218.61 324.79L219.13 324.32L219.66 323.94L220.18 323.68L220.70 323.55L221.23 323.58L221.75 323.74L222.28 324.01L222.80 324.36L223.32 324.76L223.85 325.17L224.37 325.56L224.90 325.90L225.42 326.18L225.95 326.38L226.47 326.52L226.99 326.59L227.52 326.61L228.04 326.58L228.57 326.51L229.09 326.42L229.62 326.30L230.14 326.17L230.66 326.03L231.19 325.89L231.71 325.73L232.24 325.57L232.76 325.41L233.28 325.24L233.81 325.07L234.33 324.89L234.86 324.71L235.38 324.53L235.91 324.34L236.43 324.15L236.95 323.96L237.48 323.76L238.00 323.56L238.53 323.36L239.05 323.15L239.58 322.94L240.10 322.72L240.62 322.51L241.15 322.28L241.67 322.06L242.20 321.83L242.72 321.60L243.24 321.36L243.77 321.12L244.29 320.88L244.82 320.63L245.34 320.38L245.87 320.13L246.39 319.87L246.91 319.61L247.44 319.35L247.96 319.09L248.49 318.82L249.01 318.54L249.54 318.27L250.06 317.99L250.58 317.71L251.11 317.42L251.63 317.14L252.16 316.84L252.68 316.55L253.20 316.25L253.73 315.96L254.25 315.65L254.78 315.35L255.30 315.04L255.83 314.73L256.35 314.42L256.87 314.10L257.40 313.79L257.92 313.47L258.45 313.15L258.97 312.82L259.50 312.50L260.02 312.17L260.54 311.84L261.07 311.51L261.59 311.18L262.12 310.84L262.64 310.50L263.16 310.17L263.69 309.83L264.21 309.49L264.74 309.15L265.26 308.81L265.79 308.46L266.31 308.12L266.83 307.78L267.36 307.43L267.88 307.09L268.41 306.74L268.93 306.40L269.46 306.05L269.98 305.71L270.50 305.36L271.03 305.02L271.55 304.67L272.08 304.33L272.60 303.99L273.12 303.64L273.65 303.30L274.17 302.96L274.70 302.62L275.22 302.29L275.75 301.95L276.27 301.62L276.79 301.29L277.32 300.96L277.84 300.63L278.37 300.30L278.89 299.98L279.42 299.66L279.94 299.34L280.46 299.03L280.99 298.72L281.51 298.41L282.04 298.10L282.56 297.80L283.08 297.50L283.61 297.21L284.13 296.92L284.66 296.63L285.18 296.35L285.71 296.07L286.23 295.79L286.75 295.52L287.28 295.26L287.80 295.00L288.33 294.74L288.85 294.49L289.37 294.25L289.90 294.01L290.42 293.77L290.95 293.54L291.47 293.32L292.00 293.10L292.52 292.89L293.04 292.68L293.57 292.49L294.09 292.29L294.62 292.10L295.14 291.92L295.67 291.75L296.19 291.58L296.71 291.42L297.24 291.27L297.76 291.12L298.29 290.98L298.81 290.84L299.33 290.72L299.86 290.60L300.38 290.48L300.91 290.38L301.43 290.28L301.96 290.19L302.48 290.11L303.00 290.03L303.53 289.96L304.05 289.90L304.58 289.85L305.10 289.80L305.63 289.77L306.15 289.74L306.67 289.71L307.20 289.70L307.72 289.69L308.25 289.69L308.77 289.70L309.29 289.71L309.82 289.73L310.34 289.76L310.87 289.80L311.39 289.84L311.92 289.89L312.44 289.94L312.96 290.00L313.49 290.07L314.01 290.15L314.54 290.23L315.06 290.32L315.59 290.41L316.11 290.52L316.63 290.62L317.16 290.74L317.68 290.86L318.21 290.99L318.73 291.12L319.25 291.26L319.78 291.41L320.30 291.56L320.83 291.72L321.35 291.88L321.88 292.05L322.40 292.23L322.92 292.41L323.45 292.60L323.97 292.79L324.50 292.99L325.02 293.19L325.55 293.40L326.07 293.62L326.59 293.84L327.12 294.06L327.64 294.29L328.17 294.52L328.69 294.76L329.21 295.01L329.74 295.25L330.26 295.50L330.79 295.76L331.31 296.02L331.84 296.28L332.36 296.55L332.88 296.82L333.41 297.10L333.93 297.38L334.46 297.66L334.98 297.94L335.51 298.23L336.03 298.52L336.55 298.82L337.08 299.11L337.60 299.41L338.13 299.72L338.65 300.02L339.17 300.33L339.70 300.64L340.22 300.95L340.75 301.26L341.27 301.58L341.80 301.89L342.32 302.21L342.84 302.53L343.37 302.85L343.89 303.18L344.42 303.50L344.94 303.82L345.47 304.15L345.99 304.48L346.51 304.80L347.04 305.13L347.56 305.46L348.09 305.78L348.61 306.11L349.13 306.44L349.66 306.77L350.18 307.10L350.71 307.42L351.23 307.75L351.76 308.08L352.28 308.40L352.80 308.73L353.33 309.06L353.85 309.38L354.38 309.70L354.90 310.02L355.42 310.35L355.95 310.67L356.47 310.98L357.00 311.30L357.52 311.62L358.05 311.93L358.57 312.24L359.09 312.55L359.62 312.86L360.14 313.17L360.67 313.48L361.19 313.78L361.72 314.08L362.24 314.38L362.76 314.68L363.29 314.97L363.81 315.27L364.34 315.56L364.86 315.84L365.38 316.13L365.91 316.41L366.43 316.69L366.96 316.97L367.48 317.24L368.01 317.52L368.53 317.79L369.05 318.05L369.58 318.32L370.10 318.58L370.63 318.84L371.15 319.09L371.68 319.35L372.20 319.60L372.72 319.84L373.25 320.09L373.77 320.33L374.30 320.57L374.82 320.80L375.34 321.03L375.87 321.26L376.39 321.49L376.92 321.71L377.44 321.93L377.97 322.15L378.49 322.36L378.49 332.00Z"/></clipPath><line x1="190.3" y1="329.198" x2="378.49" y2="329.198" stroke="#25c8f5" stroke-width="1.7" clip-path="url(#cc)"/><line x1="190.3" y1="191.9" x2="378.49" y2="191.9" stroke="#ffbcc4" stroke-width="1.5"/><polyline points="190.30,215.16 191.25,215.14 192.19,215.13 193.14,215.12 194.08,215.11 195.03,215.11 195.97,215.11 196.92,215.12 197.87,215.13 198.81,215.14 199.76,215.16 200.70,215.18 201.65,215.21 202.59,215.24 203.54,215.27 204.49,215.31 205.43,215.35 206.38,215.39 207.32,215.44 208.27,215.49 209.21,215.54 210.16,215.60 211.10,215.66 212.05,215.72 213.00,215.79 213.94,215.86 214.89,215.93 215.83,216.01 216.78,216.09 217.72,216.17 218.67,216.26 219.62,216.35 220.56,216.44 221.51,216.53 222.45,216.63 223.40,216.73 224.34,216.83 225.29,216.94 226.24,217.05 227.18,217.16 228.13,217.27 229.07,217.39 230.02,217.51 230.96,217.63 231.91,217.75 232.86,217.88 233.80,218.01 234.75,218.14 235.69,218.27 236.64,218.41 237.58,218.55 238.53,218.69 239.48,218.83 240.42,218.98 241.37,219.12 242.31,219.27 243.26,219.42 244.20,219.58 245.15,219.73 246.10,219.89 247.04,220.05 247.99,220.21 248.93,220.37 249.88,220.54 250.82,220.71 251.77,220.87 252.71,221.04 253.66,221.22 254.61,221.39 255.55,221.57 256.50,221.74 257.44,221.92 258.39,222.10 259.33,222.29 260.28,222.47 261.23,222.65 262.17,222.84 263.12,223.03 264.06,223.22 265.01,223.41 265.95,223.60 266.90,223.80 267.85,223.99 268.79,224.19 269.74,224.38 270.68,224.58 271.63,224.78 272.57,224.98 273.52,225.19 274.47,225.39 275.41,225.59 276.36,225.80 277.30,226.01 278.25,226.21 279.19,226.42 280.14,226.63 281.09,226.84 282.03,227.05 282.98,227.27 283.92,227.48 284.87,227.69 285.81,227.91 286.76,228.12 287.70,228.34 288.65,228.56 289.60,228.78 290.54,229.00 291.49,229.21 292.43,229.43 293.38,229.66 294.32,229.88 295.27,230.10 296.22,230.32 297.16,230.54 298.11,230.77 299.05,230.99 300.00,231.22 300.94,231.44 301.89,231.67 302.84,231.89 303.78,232.12 304.73,232.35 305.67,232.57 306.62,232.80 307.56,233.03 308.51,233.26 309.46,233.49 310.40,233.71 311.35,233.94 312.29,234.17 313.24,234.40 314.18,234.63 315.13,234.86 316.08,235.09 317.02,235.32 317.97,235.55 318.91,235.78 319.86,236.01 320.80,236.24 321.75,236.47 322.69,236.70 323.64,236.93 324.59,237.16 325.53,237.40 326.48,237.63 327.42,237.86 328.37,238.09 329.31,238.32 330.26,238.55 331.21,238.78 332.15,239.01 333.10,239.24 334.04,239.47 334.99,239.70 335.93,239.93 336.88,240.16 337.83,240.39 338.77,240.61 339.72,240.84 340.66,241.07 341.61,241.30 342.55,241.53 343.50,241.76 344.45,241.98 345.39,242.21 346.34,242.44 347.28,242.66 348.23,242.89 349.17,243.12 350.12,243.34 351.07,243.57 352.01,243.79 352.96,244.02 353.90,244.24 354.85,244.46 355.79,244.69 356.74,244.91 357.69,245.13 358.63,245.35 359.58,245.58 360.52,245.80 361.47,246.02 362.41,246.24 363.36,246.46 364.30,246.68 365.25,246.90 366.20,247.11 367.14,247.33 368.09,247.55 369.03,247.77 369.98,247.98 370.92,248.20 371.87,248.41 372.82,248.63 373.76,248.84 374.71,249.05 375.65,249.27 376.60,249.48 377.54,249.69 378.49,249.90" fill="none" stroke="#9090ff" stroke-width=".85"/><text x="284.395" y="189.9" font-size="4.9" text-anchor="middle" fill="#0c0c0c" textLength="63" lengthAdjust="spacingAndGlyphs" >Uniform cubic B-spline profile</text><text x="284.695" y="344.1" font-size="4.85" text-anchor="middle" fill="#151515" class="cj">Flight distance（km）</text><text transform="translate(179.9 261.35) rotate(-90)" font-size="4.85" text-anchor="middle" fill="#151515" class="cj">Flight altitude（km）</text><rect x="381.5" y="250.5" width="87.9" height="23" fill="#fff" stroke="#8e8e8e" stroke-width=".55"/><line x1="383.1" y1="254" x2="395.6" y2="254" stroke="#ffa4a4" stroke-width=".75"/><text x="397.4" y="255.45" font-size="4" text-anchor="start" fill="#0c0c0c" textLength="47" lengthAdjust="spacingAndGlyphs" >Upper limit of flight altitude</text><line x1="383.1" y1="259.3" x2="395.6" y2="259.3" stroke="#ffa4ff" stroke-width=".75"/><text x="397.4" y="260.75" font-size="4" text-anchor="start" fill="#0c0c0c" textLength="42.8" lengthAdjust="spacingAndGlyphs" >Flight altitude lower limit</text><line x1="383.1" y1="264.6" x2="395.6" y2="264.6" stroke="#a4a4ff" stroke-width=".75"/><text x="397.4" y="266.05" font-size="4" text-anchor="start" fill="#0c0c0c" textLength="70.6" lengthAdjust="spacingAndGlyphs" >Planned track vertical section projection</text><rect x="383.1" y="267.6" width="12.5" height="4.2" fill="#00ffff"/><text x="397.4" y="271.35" font-size="4" text-anchor="start" fill="#0c0c0c" textLength="49.5" lengthAdjust="spacingAndGlyphs" >Topographic vertical section</text><text x="233.5" y="361.15" font-size="9.3" text-anchor="middle" fill="#1a1a1a" class="cap">(<tspan font-weight="bold">c</tspan>)</text><path d="M190.6 376.8V517.75H379.372" stroke="#bdbdbd" stroke-width=".6" fill="none"/><text x="188.5" y="519.3" font-size="4.3" text-anchor="end" fill="#151515" >0</text><text x="188.5" y="505.205" font-size="4.3" text-anchor="end" fill="#151515" >0.5</text><text x="188.5" y="491.11" font-size="4.3" text-anchor="end" fill="#151515" >1</text><text x="188.5" y="477.015" font-size="4.3" text-anchor="end" fill="#151515" >1.5</text><text x="188.5" y="462.92" font-size="4.3" text-anchor="end" fill="#151515" >2</text><text x="188.5" y="448.825" font-size="4.3" text-anchor="end" fill="#151515" >2.5</text><text x="188.5" y="434.73" font-size="4.3" text-anchor="end" fill="#151515" >3</text><text x="188.5" y="420.635" font-size="4.3" text-anchor="end" fill="#151515" >3.5</text><text x="188.5" y="406.54" font-size="4.3" text-anchor="end" fill="#151515" >4</text><text x="188.5" y="392.445" font-size="4.3" text-anchor="end" fill="#151515" >4.5</text><text x="188.5" y="378.35" font-size="4.3" text-anchor="end" fill="#151515" >5</text><text x="190.6" y="523.65" font-size="4.3" text-anchor="middle" fill="#151515" >0</text><text x="221.42" y="523.65" font-size="4.3" text-anchor="middle" fill="#151515" >20</text><text x="252.24" y="523.65" font-size="4.3" text-anchor="middle" fill="#151515" >40</text><text x="283.06" y="523.65" font-size="4.3" text-anchor="middle" fill="#151515" >60</text><text x="313.88" y="523.65" font-size="4.3" text-anchor="middle" fill="#151515" >80</text><text x="344.7" y="523.65" font-size="4.3" text-anchor="middle" fill="#151515" >100</text><text x="375.52" y="523.65" font-size="4.3" text-anchor="middle" fill="#151515" >120</text><path d="M190.6 517.75h1.5M190.6 503.655h1.5M190.6 489.56h1.5M190.6 475.465h1.5M190.6 461.37h1.5M190.6 447.275h1.5M190.6 433.18h1.5M190.6 419.085h1.5M190.6 404.99h1.5M190.6 390.895h1.5M190.6 376.8h1.5M190.6 517.75v-1.5M221.42 517.75v-1.5M252.24 517.75v-1.5M283.06 517.75v-1.5M313.88 517.75v-1.5M344.7 517.75v-1.5M375.52 517.75v-1.5" stroke="#b4b4b4" stroke-width=".5" fill="none"/><line x1="190.6" y1="514.931" x2="379.372" y2="514.931" stroke="#f7a8f7" stroke-width="1.4"/><path d="M190.60 517.75L190.60 514.37L191.05 514.05L191.50 513.73L191.95 513.39L192.40 513.03L192.85 512.67L193.30 512.31L193.75 511.93L194.20 511.55L194.65 511.15L195.11 510.74L195.56 510.32L196.01 509.87L196.46 509.41L196.91 508.93L197.36 508.42L197.81 507.89L198.26 507.34L198.71 506.77L199.16 506.18L199.61 505.59L200.06 504.98L200.51 504.36L200.96 503.74L201.41 503.08L201.86 502.41L202.31 501.72L202.76 501.02L203.21 500.30L203.67 499.58L204.12 498.85L204.57 498.12L205.02 497.39L205.47 496.66L205.92 495.95L206.37 495.23L206.82 494.52L207.27 493.81L207.72 493.10L208.17 492.38L208.62 491.67L209.07 490.94L209.52 490.21L209.97 489.47L210.42 488.72L210.87 487.96L211.32 487.19L211.77 486.39L212.23 485.58L212.68 484.75L213.13 483.90L213.58 483.05L214.03 482.20L214.48 481.36L214.93 480.52L215.38 479.69L215.83 478.88L216.28 478.10L216.73 477.32L217.18 476.56L217.63 475.80L218.08 475.05L218.53 474.31L218.98 473.57L219.43 472.84L219.88 472.13L220.34 471.42L220.79 470.73L221.24 470.05L221.69 469.38L222.14 468.71L222.59 468.05L223.04 467.39L223.49 466.74L223.94 466.10L224.39 465.47L224.84 464.85L225.29 464.25L225.74 463.67L226.19 463.12L226.64 462.58L227.09 462.08L227.54 461.57L227.99 461.06L228.44 460.55L228.90 460.07L229.35 459.61L229.80 459.19L230.25 458.82L230.70 458.51L231.15 458.26L231.60 458.05L232.05 457.84L232.50 457.65L232.95 457.48L233.40 457.34L233.85 457.23L234.30 457.16L234.75 457.14L235.20 457.17L235.65 457.24L236.10 457.34L236.55 457.47L237.00 457.62L237.46 457.80L237.91 457.99L238.36 458.19L238.81 458.42L239.26 458.74L239.71 459.14L240.16 459.61L240.61 460.15L241.06 460.73L241.51 461.35L241.96 462.00L242.41 462.66L242.86 463.33L243.31 464.05L243.76 464.85L244.21 465.70L244.66 466.61L245.11 467.56L245.56 468.55L246.02 469.56L246.47 470.60L246.92 471.64L247.37 472.69L247.82 473.74L248.27 474.77L248.72 475.84L249.17 476.95L249.62 478.09L250.07 479.25L250.52 480.42L250.97 481.60L251.42 482.78L251.87 483.95L252.32 485.11L252.77 486.25L253.22 487.36L253.67 488.45L254.12 489.55L254.58 490.65L255.03 491.74L255.48 492.82L255.93 493.87L256.38 494.89L256.83 495.86L257.28 496.78L257.73 497.64L258.18 498.46L258.63 499.23L259.08 499.98L259.53 500.70L259.98 501.40L260.43 502.09L260.88 502.78L261.33 503.48L261.78 504.17L262.23 504.86L262.68 505.53L263.14 506.19L263.59 506.82L264.04 507.42L264.49 507.99L264.94 508.52L265.39 509.02L265.84 509.50L266.29 509.95L266.74 510.39L267.19 510.81L267.64 511.20L268.09 511.57L268.54 511.92L268.99 512.30L269.44 512.69L269.89 513.05L270.34 513.33L270.79 513.50L271.25 513.51L271.70 513.44L272.15 513.30L272.60 513.11L273.05 512.81L273.50 511.87L273.95 510.74L274.40 510.14L274.85 510.54L275.30 511.42L275.75 512.08L276.20 512.24L276.65 512.34L277.10 512.39L277.55 512.35L278.00 512.20L278.45 511.93L278.90 511.59L279.35 511.17L279.81 510.70L280.26 510.20L280.71 509.68L281.16 509.17L281.61 508.68L282.06 508.21L282.51 507.73L282.96 507.24L283.41 506.72L283.86 506.17L284.31 505.61L284.76 505.03L285.21 504.42L285.66 503.79L286.11 503.13L286.56 502.44L287.01 501.68L287.46 500.88L287.91 500.04L288.37 499.17L288.82 498.30L289.27 497.42L289.72 496.56L290.17 495.72L290.62 494.91L291.07 494.08L291.52 493.25L291.97 492.42L292.42 491.60L292.87 490.79L293.32 490.00L293.77 489.24L294.22 488.52L294.67 487.84L295.12 487.17L295.57 486.52L296.02 485.88L296.47 485.26L296.93 484.66L297.38 484.09L297.83 483.55L298.28 483.04L298.73 482.56L299.18 482.11L299.63 481.68L300.08 481.25L300.53 480.84L300.98 480.45L301.43 480.09L301.88 479.76L302.33 479.47L302.78 479.21L303.23 478.99L303.68 478.76L304.13 478.55L304.58 478.33L305.03 478.13L305.49 477.95L305.94 477.79L306.39 477.65L306.84 477.55L307.29 477.47L307.74 477.44L308.19 477.45L308.64 477.51L309.09 477.61L309.54 477.75L309.99 477.91L310.44 478.10L310.89 478.31L311.34 478.54L311.79 478.77L312.24 479.00L312.69 479.24L313.14 479.50L313.59 479.80L314.05 480.14L314.50 480.50L314.95 480.89L315.40 481.29L315.85 481.72L316.30 482.16L316.75 482.61L317.20 483.09L317.65 483.61L318.10 484.17L318.55 484.76L319.00 485.36L319.45 485.99L319.90 486.63L320.35 487.27L320.80 487.92L321.25 488.56L321.70 489.22L322.16 489.90L322.61 490.59L323.06 491.30L323.51 492.01L323.96 492.74L324.41 493.46L324.86 494.19L325.31 494.93L325.76 495.69L326.21 496.47L326.66 497.26L327.11 498.06L327.56 498.85L328.01 499.63L328.46 500.39L328.91 501.11L329.36 501.79L329.81 502.45L330.26 503.10L330.72 503.73L331.17 504.35L331.62 504.95L332.07 505.53L332.52 506.09L332.97 506.62L333.42 507.12L333.87 507.60L334.32 508.08L334.77 508.55L335.22 509.01L335.67 509.45L336.12 509.86L336.57 510.23L337.02 510.56L337.47 510.84L337.92 511.06L338.37 511.26L338.82 511.44L339.28 511.54L339.73 511.45L340.18 510.97L340.63 510.32L341.08 509.77L341.53 509.58L341.98 509.97L342.43 510.76L342.88 511.69L343.33 512.50L343.78 513.05L344.23 513.59L344.68 514.10L345.13 514.56L345.58 514.92L346.03 515.16L346.48 515.26L346.93 515.33L347.38 515.39L347.84 515.44L348.29 515.47L348.74 515.49L349.19 515.44L349.64 514.85L350.09 513.91L350.54 512.99L350.99 512.00L351.44 511.02L351.89 510.73L352.34 511.43L352.79 512.60L353.24 513.65L353.69 514.65L354.14 515.66L354.59 516.40L355.04 516.68L355.49 516.83L355.94 516.94L356.40 517.04L356.85 517.11L357.30 517.16L357.75 517.18L358.20 517.12L358.65 516.67L359.10 515.92L359.55 515.00L360.00 514.04L360.45 513.11L360.90 511.81L361.35 510.70L361.80 510.49L362.25 511.38L362.70 512.69L363.15 513.75L363.60 514.70L364.05 515.61L364.50 516.32L364.96 516.65L365.41 516.79L365.86 516.91L366.31 517.01L366.76 517.08L367.21 517.14L367.66 517.17L368.11 517.19L368.56 516.94L369.01 516.27L369.46 515.35L369.91 514.32L370.36 513.34L370.81 512.00L371.26 510.66L371.71 510.15L372.16 510.90L372.61 512.31L373.07 513.54L373.52 514.51L373.97 515.46L374.42 516.22L374.87 516.61L375.32 516.71L375.77 516.78L376.22 516.84L376.67 516.88L377.12 516.90L377.57 516.82L378.02 516.19L378.47 515.22L378.92 514.05L379.37 512.39L379.37 517.75Z" fill="#00ffff"/><clipPath id="cd"><path d="M190.60 517.75L190.60 514.37L191.05 514.05L191.50 513.73L191.95 513.39L192.40 513.03L192.85 512.67L193.30 512.31L193.75 511.93L194.20 511.55L194.65 511.15L195.11 510.74L195.56 510.32L196.01 509.87L196.46 509.41L196.91 508.93L197.36 508.42L197.81 507.89L198.26 507.34L198.71 506.77L199.16 506.18L199.61 505.59L200.06 504.98L200.51 504.36L200.96 503.74L201.41 503.08L201.86 502.41L202.31 501.72L202.76 501.02L203.21 500.30L203.67 499.58L204.12 498.85L204.57 498.12L205.02 497.39L205.47 496.66L205.92 495.95L206.37 495.23L206.82 494.52L207.27 493.81L207.72 493.10L208.17 492.38L208.62 491.67L209.07 490.94L209.52 490.21L209.97 489.47L210.42 488.72L210.87 487.96L211.32 487.19L211.77 486.39L212.23 485.58L212.68 484.75L213.13 483.90L213.58 483.05L214.03 482.20L214.48 481.36L214.93 480.52L215.38 479.69L215.83 478.88L216.28 478.10L216.73 477.32L217.18 476.56L217.63 475.80L218.08 475.05L218.53 474.31L218.98 473.57L219.43 472.84L219.88 472.13L220.34 471.42L220.79 470.73L221.24 470.05L221.69 469.38L222.14 468.71L222.59 468.05L223.04 467.39L223.49 466.74L223.94 466.10L224.39 465.47L224.84 464.85L225.29 464.25L225.74 463.67L226.19 463.12L226.64 462.58L227.09 462.08L227.54 461.57L227.99 461.06L228.44 460.55L228.90 460.07L229.35 459.61L229.80 459.19L230.25 458.82L230.70 458.51L231.15 458.26L231.60 458.05L232.05 457.84L232.50 457.65L232.95 457.48L233.40 457.34L233.85 457.23L234.30 457.16L234.75 457.14L235.20 457.17L235.65 457.24L236.10 457.34L236.55 457.47L237.00 457.62L237.46 457.80L237.91 457.99L238.36 458.19L238.81 458.42L239.26 458.74L239.71 459.14L240.16 459.61L240.61 460.15L241.06 460.73L241.51 461.35L241.96 462.00L242.41 462.66L242.86 463.33L243.31 464.05L243.76 464.85L244.21 465.70L244.66 466.61L245.11 467.56L245.56 468.55L246.02 469.56L246.47 470.60L246.92 471.64L247.37 472.69L247.82 473.74L248.27 474.77L248.72 475.84L249.17 476.95L249.62 478.09L250.07 479.25L250.52 480.42L250.97 481.60L251.42 482.78L251.87 483.95L252.32 485.11L252.77 486.25L253.22 487.36L253.67 488.45L254.12 489.55L254.58 490.65L255.03 491.74L255.48 492.82L255.93 493.87L256.38 494.89L256.83 495.86L257.28 496.78L257.73 497.64L258.18 498.46L258.63 499.23L259.08 499.98L259.53 500.70L259.98 501.40L260.43 502.09L260.88 502.78L261.33 503.48L261.78 504.17L262.23 504.86L262.68 505.53L263.14 506.19L263.59 506.82L264.04 507.42L264.49 507.99L264.94 508.52L265.39 509.02L265.84 509.50L266.29 509.95L266.74 510.39L267.19 510.81L267.64 511.20L268.09 511.57L268.54 511.92L268.99 512.30L269.44 512.69L269.89 513.05L270.34 513.33L270.79 513.50L271.25 513.51L271.70 513.44L272.15 513.30L272.60 513.11L273.05 512.81L273.50 511.87L273.95 510.74L274.40 510.14L274.85 510.54L275.30 511.42L275.75 512.08L276.20 512.24L276.65 512.34L277.10 512.39L277.55 512.35L278.00 512.20L278.45 511.93L278.90 511.59L279.35 511.17L279.81 510.70L280.26 510.20L280.71 509.68L281.16 509.17L281.61 508.68L282.06 508.21L282.51 507.73L282.96 507.24L283.41 506.72L283.86 506.17L284.31 505.61L284.76 505.03L285.21 504.42L285.66 503.79L286.11 503.13L286.56 502.44L287.01 501.68L287.46 500.88L287.91 500.04L288.37 499.17L288.82 498.30L289.27 497.42L289.72 496.56L290.17 495.72L290.62 494.91L291.07 494.08L291.52 493.25L291.97 492.42L292.42 491.60L292.87 490.79L293.32 490.00L293.77 489.24L294.22 488.52L294.67 487.84L295.12 487.17L295.57 486.52L296.02 485.88L296.47 485.26L296.93 484.66L297.38 484.09L297.83 483.55L298.28 483.04L298.73 482.56L299.18 482.11L299.63 481.68L300.08 481.25L300.53 480.84L300.98 480.45L301.43 480.09L301.88 479.76L302.33 479.47L302.78 479.21L303.23 478.99L303.68 478.76L304.13 478.55L304.58 478.33L305.03 478.13L305.49 477.95L305.94 477.79L306.39 477.65L306.84 477.55L307.29 477.47L307.74 477.44L308.19 477.45L308.64 477.51L309.09 477.61L309.54 477.75L309.99 477.91L310.44 478.10L310.89 478.31L311.34 478.54L311.79 478.77L312.24 479.00L312.69 479.24L313.14 479.50L313.59 479.80L314.05 480.14L314.50 480.50L314.95 480.89L315.40 481.29L315.85 481.72L316.30 482.16L316.75 482.61L317.20 483.09L317.65 483.61L318.10 484.17L318.55 484.76L319.00 485.36L319.45 485.99L319.90 486.63L320.35 487.27L320.80 487.92L321.25 488.56L321.70 489.22L322.16 489.90L322.61 490.59L323.06 491.30L323.51 492.01L323.96 492.74L324.41 493.46L324.86 494.19L325.31 494.93L325.76 495.69L326.21 496.47L326.66 497.26L327.11 498.06L327.56 498.85L328.01 499.63L328.46 500.39L328.91 501.11L329.36 501.79L329.81 502.45L330.26 503.10L330.72 503.73L331.17 504.35L331.62 504.95L332.07 505.53L332.52 506.09L332.97 506.62L333.42 507.12L333.87 507.60L334.32 508.08L334.77 508.55L335.22 509.01L335.67 509.45L336.12 509.86L336.57 510.23L337.02 510.56L337.47 510.84L337.92 511.06L338.37 511.26L338.82 511.44L339.28 511.54L339.73 511.45L340.18 510.97L340.63 510.32L341.08 509.77L341.53 509.58L341.98 509.97L342.43 510.76L342.88 511.69L343.33 512.50L343.78 513.05L344.23 513.59L344.68 514.10L345.13 514.56L345.58 514.92L346.03 515.16L346.48 515.26L346.93 515.33L347.38 515.39L347.84 515.44L348.29 515.47L348.74 515.49L349.19 515.44L349.64 514.85L350.09 513.91L350.54 512.99L350.99 512.00L351.44 511.02L351.89 510.73L352.34 511.43L352.79 512.60L353.24 513.65L353.69 514.65L354.14 515.66L354.59 516.40L355.04 516.68L355.49 516.83L355.94 516.94L356.40 517.04L356.85 517.11L357.30 517.16L357.75 517.18L358.20 517.12L358.65 516.67L359.10 515.92L359.55 515.00L360.00 514.04L360.45 513.11L360.90 511.81L361.35 510.70L361.80 510.49L362.25 511.38L362.70 512.69L363.15 513.75L363.60 514.70L364.05 515.61L364.50 516.32L364.96 516.65L365.41 516.79L365.86 516.91L366.31 517.01L366.76 517.08L367.21 517.14L367.66 517.17L368.11 517.19L368.56 516.94L369.01 516.27L369.46 515.35L369.91 514.32L370.36 513.34L370.81 512.00L371.26 510.66L371.71 510.15L372.16 510.90L372.61 512.31L373.07 513.54L373.52 514.51L373.97 515.46L374.42 516.22L374.87 516.61L375.32 516.71L375.77 516.78L376.22 516.84L376.67 516.88L377.12 516.90L377.57 516.82L378.02 516.19L378.47 515.22L378.92 514.05L379.37 512.39L379.37 517.75Z"/></clipPath><line x1="190.6" y1="514.931" x2="379.372" y2="514.931" stroke="#25c8f5" stroke-width="1.5" clip-path="url(#cd)"/><line x1="190.6" y1="376.8" x2="379.372" y2="376.8" stroke="#f8a0a0" stroke-width="1"/><polyline points="190.60,447.11 191.55,446.07 192.50,445.06 193.45,444.07 194.39,443.11 195.34,442.16 196.29,441.23 197.24,440.32 198.19,439.42 199.14,438.55 200.09,437.68 201.03,436.84 201.98,436.00 202.93,435.18 203.88,434.37 204.83,433.57 205.78,432.79 206.73,432.01 207.67,431.24 208.62,430.48 209.57,429.73 210.52,428.99 211.47,428.26 212.42,427.53 213.37,426.81 214.32,426.09 215.26,425.38 216.21,424.68 217.16,423.98 218.11,423.29 219.06,422.60 220.01,421.92 220.96,421.24 221.90,420.56 222.85,419.90 223.80,419.23 224.75,418.57 225.70,417.92 226.65,417.27 227.60,416.62 228.54,415.98 229.49,415.34 230.44,414.71 231.39,414.09 232.34,413.47 233.29,412.86 234.24,412.26 235.18,411.66 236.13,411.07 237.08,410.49 238.03,409.92 238.98,409.36 239.93,408.81 240.88,408.26 241.82,407.73 242.77,407.22 243.72,406.71 244.67,406.22 245.62,405.74 246.57,405.28 247.52,404.83 248.46,404.41 249.41,403.99 250.36,403.60 251.31,403.23 252.26,402.88 253.21,402.54 254.16,402.23 255.11,401.94 256.05,401.67 257.00,401.43 257.95,401.21 258.90,401.01 259.85,400.83 260.80,400.68 261.75,400.55 262.69,400.45 263.64,400.37 264.59,400.32 265.54,400.29 266.49,400.29 267.44,400.31 268.39,400.35 269.33,400.42 270.28,400.51 271.23,400.63 272.18,400.78 273.13,400.94 274.08,401.13 275.03,401.34 275.97,401.58 276.92,401.84 277.87,402.12 278.82,402.42 279.77,402.74 280.72,403.09 281.67,403.45 282.61,403.83 283.56,404.23 284.51,404.65 285.46,405.09 286.41,405.54 287.36,406.01 288.31,406.49 289.25,406.98 290.20,407.49 291.15,408.02 292.10,408.55 293.05,409.10 294.00,409.65 294.95,410.22 295.90,410.79 296.84,411.38 297.79,411.97 298.74,412.57 299.69,413.18 300.64,413.79 301.59,414.41 302.54,415.03 303.48,415.66 304.43,416.29 305.38,416.93 306.33,417.57 307.28,418.21 308.23,418.85 309.18,419.50 310.12,420.15 311.07,420.79 312.02,421.44 312.97,422.08 313.92,422.73 314.87,423.37 315.82,424.01 316.76,424.65 317.71,425.29 318.66,425.92 319.61,426.55 320.56,427.17 321.51,427.79 322.46,428.41 323.40,429.02 324.35,429.63 325.30,430.22 326.25,430.82 327.20,431.40 328.15,431.98 329.10,432.56 330.05,433.12 330.99,433.68 331.94,434.23 332.89,434.77 333.84,435.30 334.79,435.82 335.74,436.33 336.69,436.84 337.63,437.33 338.58,437.81 339.53,438.29 340.48,438.75 341.43,439.21 342.38,439.65 343.33,440.08 344.27,440.50 345.22,440.91 346.17,441.31 347.12,441.69 348.07,442.07 349.02,442.43 349.97,442.78 350.91,443.12 351.86,443.44 352.81,443.76 353.76,444.06 354.71,444.35 355.66,444.62 356.61,444.89 357.55,445.14 358.50,445.38 359.45,445.60 360.40,445.82 361.35,446.02 362.30,446.21 363.25,446.38 364.19,446.54 365.14,446.70 366.09,446.83 367.04,446.96 367.99,447.07 368.94,447.17 369.89,447.26 370.84,447.33 371.78,447.40 372.73,447.45 373.68,447.49 374.63,447.52 375.58,447.53 376.53,447.54 377.48,447.53 378.42,447.51 379.37,447.48" fill="none" stroke="#9090ff" stroke-width=".85"/><text x="284.986" y="374.8" font-size="4.9" text-anchor="middle" fill="#0c0c0c" textLength="77" lengthAdjust="spacingAndGlyphs" >Equally spaced quadratic B-splines</text><text x="285.286" y="529.85" font-size="4.85" text-anchor="middle" fill="#151515" class="cj">Flight distance（km）</text><text transform="translate(180.2 446.675) rotate(-90)" font-size="4.85" text-anchor="middle" fill="#151515" class="cj">Flight altitude（km）</text><rect x="383" y="436.1" width="87.9" height="23" fill="#fff" stroke="#8e8e8e" stroke-width=".55"/><line x1="384.6" y1="439.6" x2="397.1" y2="439.6" stroke="#ffa4a4" stroke-width=".75"/><text x="398.9" y="441.05" font-size="4" text-anchor="start" fill="#0c0c0c" textLength="47" lengthAdjust="spacingAndGlyphs" >Upper limit of flight altitude</text><line x1="384.6" y1="444.9" x2="397.1" y2="444.9" stroke="#ffa4ff" stroke-width=".75"/><text x="398.9" y="446.35" font-size="4" text-anchor="start" fill="#0c0c0c" textLength="42.8" lengthAdjust="spacingAndGlyphs" >Flight altitude lower limit</text><line x1="384.6" y1="450.2" x2="397.1" y2="450.2" stroke="#a4a4ff" stroke-width=".75"/><text x="398.9" y="451.65" font-size="4" text-anchor="start" fill="#0c0c0c" textLength="70.6" lengthAdjust="spacingAndGlyphs" >Planned track vertical section projection</text><rect x="384.6" y="453.2" width="12.5" height="4.2" fill="#00ffff"/><text x="398.9" y="456.95" font-size="4" text-anchor="start" fill="#0c0c0c" textLength="49.5" lengthAdjust="spacingAndGlyphs" >Topographic vertical section</text><text x="233.5" y="545.45" font-size="9.3" text-anchor="middle" fill="#1a1a1a" class="cap">(<tspan font-weight="bold">d</tspan>)</text></svg></body></html>
